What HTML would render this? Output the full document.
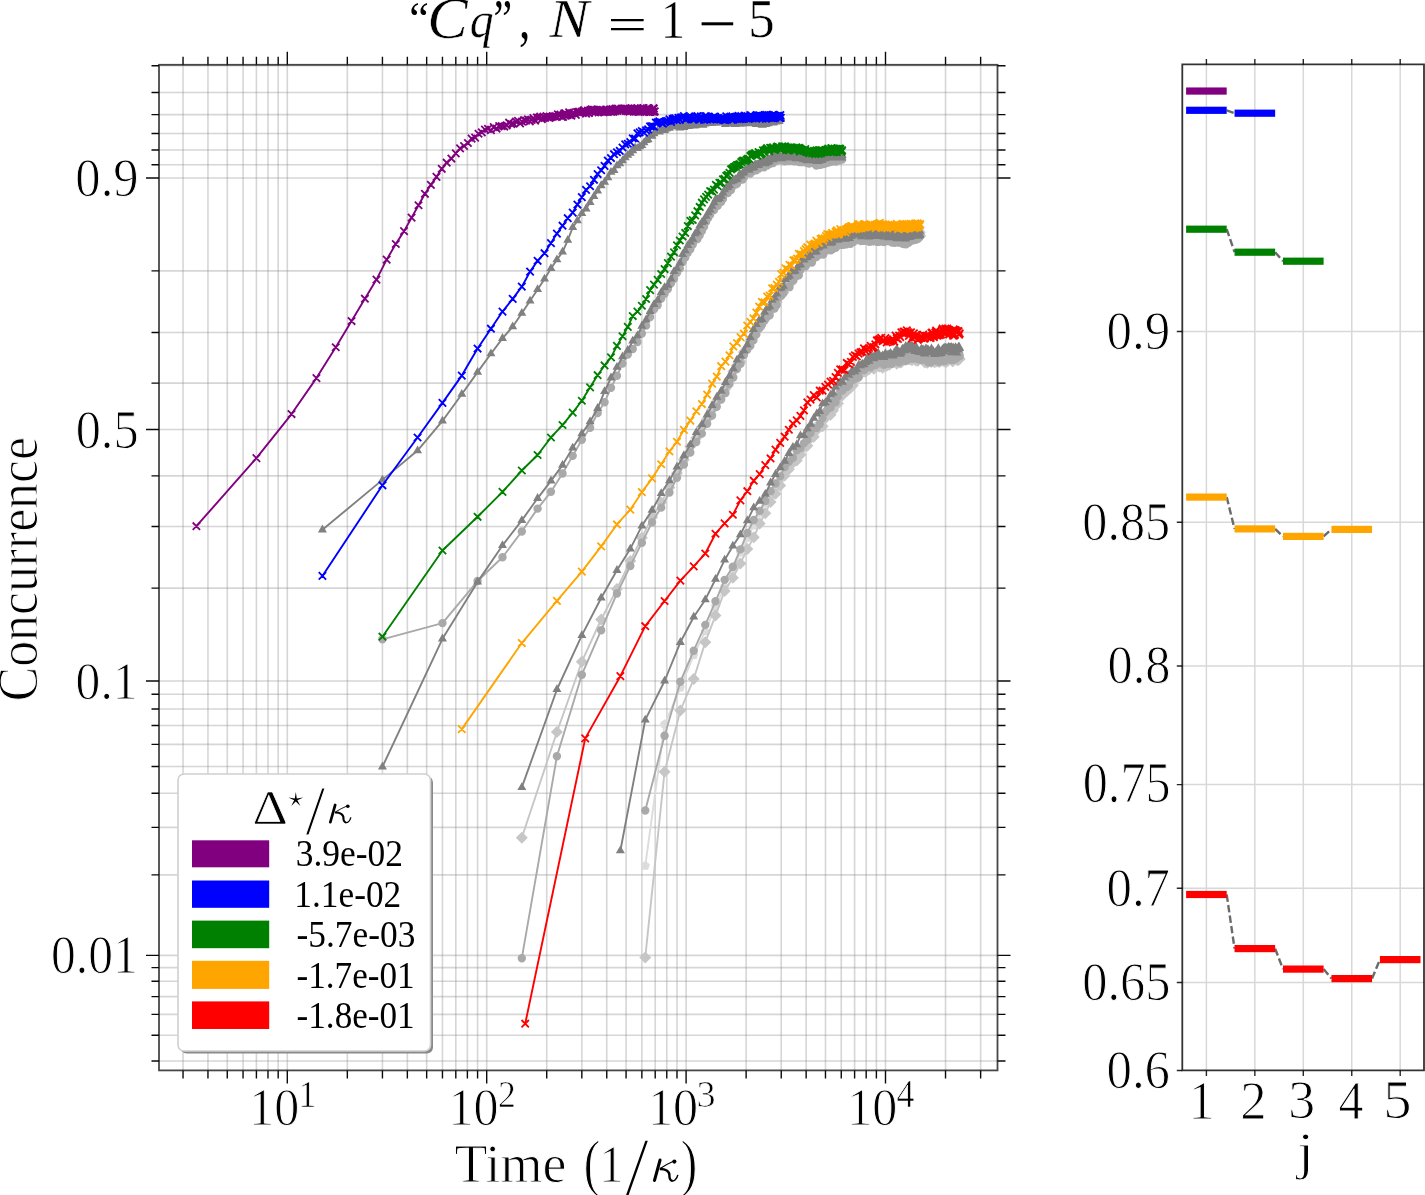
<!DOCTYPE html>
<html><head><meta charset="utf-8"><title>Concurrence plot</title>
<style>html,body{margin:0;padding:0;background:#fff;}svg{display:block;will-change:transform;filter:blur(0.45px);}text{font-family:"Liberation Serif", serif;fill:#000;}</style>
</head><body>
<svg width="1425" height="1195" viewBox="0 0 1425 1195">
<rect width="1425" height="1195" fill="#fff"/>
<path d="M287.3 64.8V1070.4M486.7 64.8V1070.4M686.1 64.8V1070.4M885.5 64.8V1070.4M183.04 64.8V1070.4M207.95 64.8V1070.4M227.27 64.8V1070.4M243.06 64.8V1070.4M256.41 64.8V1070.4M267.98 64.8V1070.4M278.18 64.8V1070.4M347.33 64.8V1070.4M382.44 64.8V1070.4M407.35 64.8V1070.4M426.67 64.8V1070.4M442.46 64.8V1070.4M455.81 64.8V1070.4M467.38 64.8V1070.4M477.58 64.8V1070.4M546.73 64.8V1070.4M581.84 64.8V1070.4M606.75 64.8V1070.4M626.07 64.8V1070.4M641.86 64.8V1070.4M655.21 64.8V1070.4M666.78 64.8V1070.4M676.98 64.8V1070.4M746.13 64.8V1070.4M781.24 64.8V1070.4M806.15 64.8V1070.4M825.47 64.8V1070.4M841.26 64.8V1070.4M854.61 64.8V1070.4M866.18 64.8V1070.4M876.38 64.8V1070.4M945.53 64.8V1070.4M980.64 64.8V1070.4" stroke="#8c8c8c" stroke-opacity="0.36" stroke-width="1.6" fill="none"/>
<path d="M159 955.41H997.5M159 680.97H997.5M159 429.5H997.5M159 178.03H997.5M159 1060.97H997.5M159 1035.32H997.5M159 1014.34H997.5M159 996.58H997.5M159 981.18H997.5M159 967.59H997.5M159 874.92H997.5M159 827.34H997.5M159 793.23H997.5M159 766.49H997.5M159 744.41H997.5M159 725.55H997.5M159 709.03H997.5M159 694.3H997.5M159 588.16H997.5M159 526.47H997.5M159 475.91H997.5M159 383.09H997.5M159 332.53H997.5M159 270.84H997.5M159 164.7H997.5M159 149.97H997.5M159 133.45H997.5M159 114.59H997.5M159 92.51H997.5M159 65.77H997.5" stroke="#8c8c8c" stroke-opacity="0.36" stroke-width="1.6" fill="none"/>
<defs><clipPath id="cl"><rect x="159.0" y="64.8" width="838.5" height="1005.6000000000001"/></clipPath><clipPath id="cr"><rect x="1182.3" y="64.4" width="241.70000000000005" height="1006.0000000000001"/></clipPath></defs>
<g clip-path="url(#cl)">
<path d="M645.26 865.8 L664.58 724.27 L680.37 687.6 L693.72 655.18 L705.29 631.43 L715.49 606.54 L724.61 586.78 L732.86 568.96 L740.4 552.51 L747.33 537.87 L753.75 525.59 L759.72 513.5 L765.31 503.61 L770.56 494.11 L775.51 485.47 L780.19 479.68 L784.63 471.38 L788.86 464.19 L792.89 459.05 L796.74 451.36 L800.42 447.12 L803.96 444.18 L807.35 440.48 L810.62 437.06 L813.77 433.3 L816.81 425.25 L819.75 424.12 L822.59 420.51 L825.34 415.71 L828 410.06 L830.59 408.13 L833.1 402.32 L835.54 403.93 L837.91 400.2 L840.22 395.02 L842.47 390.33 L844.66 391.04 L846.8 386.88 L848.88 387.03 L850.92 385.05 L852.91 381.13 L854.86 378.82 L856.76 378.34 L858.63 375.64 L860.45 372.31 L862.23 371.67 L863.98 373.39 L865.7 366.97 L867.38 365.51 L869.03 367.8 L870.65 365.18 L872.24 366.41 L873.8 365.62 L875.33 364.41 L876.84 368.22 L878.32 362.72 L879.77 363.75 L881.2 362.05 L882.61 364.45 L884 361.82 L885.36 361.99 L886.7 364.15 L888.03 361.1 L889.33 362.29 L890.61 364.18 L891.88 358.73 L893.12 358.15 L894.35 358.79 L895.56 361.79 L896.76 360.41 L897.93 357.58 L899.1 357.77 L900.24 356.38 L901.38 357.78 L902.49 354.72 L903.6 358.52 L904.69 359.41 L905.76 359.41 L906.82 357.62 L907.87 358.69 L908.91 352.3 L909.94 353.67 L910.95 358.12 L911.95 357.05 L912.94 354.87 L913.92 358.42 L914.89 356.5 L915.84 357.91 L916.79 354.7 L917.72 354.18 L918.65 355.94 L919.57 354.11 L920.47 355.81 L921.37 359.66 L922.26 355.76 L923.14 353.83 L924.01 354.19 L924.87 355.12 L925.72 359.17 L926.57 356.61 L927.41 356.27 L928.23 355.16 L929.06 360.94 L929.87 357.49 L930.67 356.05 L931.47 355 L932.26 354.87 L933.05 355.5 L933.82 358.65 L934.59 355.18 L935.36 354.39 L936.11 357.18 L936.86 355.54 L937.61 360.23 L938.34 354.54 L939.07 357.05 L939.8 358.53 L940.52 356.11 L941.23 359.72 L941.94 356.37 L942.64 354.77 L943.33 355.76 L944.02 353.28 L944.71 355.66 L945.39 354.47 L946.06 358.48 L946.73 358.03 L947.39 355.82 L948.05 352.75 L948.71 354.09 L949.35 353.93 L950 353.63 L950.64 353.7 L951.27 357.71 L951.9 352.97 L952.53 352.31 L953.15 357.85 L953.76 355.45 L954.38 358.01 L954.98 354.05 L955.59 357.03 L956.19 355.25 L956.78 355.92 L957.37 355.43 L957.96 353.63 L958.54 350.86 L959.12 351.42 L959.7 355.47" stroke="#dcdcdc" stroke-width="1.9" fill="none" stroke-linejoin="round"/>
<path d="M645.26 861L649.82 864.32L648.08 869.68L642.44 869.68L640.69 864.32ZM664.58 719.47L669.15 722.79L667.41 728.15L661.76 728.15L660.02 722.79ZM680.37 682.8L684.94 686.12L683.19 691.49L677.55 691.49L675.81 686.12ZM693.72 650.38L698.29 653.7L696.54 659.06L690.9 659.06L689.16 653.7ZM705.29 626.63L709.85 629.95L708.11 635.31L702.46 635.31L700.72 629.95ZM715.49 601.74L720.05 605.06L718.31 610.42L712.66 610.42L710.92 605.06ZM724.61 581.98L729.17 585.3L727.43 590.67L721.79 590.67L720.04 585.3ZM732.86 564.16L737.43 567.48L735.68 572.85L730.04 572.85L728.3 567.48ZM740.4 547.71L744.96 551.02L743.22 556.39L737.58 556.39L735.83 551.02ZM747.33 533.07L751.89 536.39L750.15 541.76L744.51 541.76L742.76 536.39ZM753.75 520.79L758.31 524.1L756.57 529.47L750.93 529.47L749.18 524.1ZM759.72 508.7L764.29 512.02L762.54 517.38L756.9 517.38L755.16 512.02ZM765.31 498.81L769.88 502.13L768.13 507.5L762.49 507.5L760.75 502.13ZM770.56 489.31L775.13 492.63L773.38 497.99L767.74 497.99L766 492.63ZM775.51 480.67L780.08 483.99L778.33 489.35L772.69 489.35L770.95 483.99ZM780.19 474.88L784.76 478.19L783.01 483.56L777.37 483.56L775.63 478.19ZM784.63 466.58L789.2 469.9L787.46 475.27L781.81 475.27L780.07 469.9ZM788.86 459.39L793.42 462.71L791.68 468.08L786.04 468.08L784.29 462.71ZM792.89 454.25L797.45 457.56L795.71 462.93L790.07 462.93L788.32 457.56ZM796.74 446.56L801.3 449.87L799.56 455.24L793.92 455.24L792.17 449.87ZM800.42 442.32L804.99 445.64L803.24 451.01L797.6 451.01L795.86 445.64ZM803.96 439.38L808.52 442.69L806.78 448.06L801.14 448.06L799.39 442.69ZM807.35 435.68L811.92 438.99L810.18 444.36L804.53 444.36L802.79 438.99ZM810.62 432.26L815.19 435.57L813.44 440.94L807.8 440.94L806.06 435.57ZM813.77 428.5L818.34 431.81L816.59 437.18L810.95 437.18L809.21 431.81ZM816.81 420.45L821.38 423.77L819.63 429.14L813.99 429.14L812.25 423.77ZM819.75 419.32L824.31 422.64L822.57 428.01L816.93 428.01L815.18 422.64ZM822.59 415.71L827.15 419.02L825.41 424.39L819.77 424.39L818.02 419.02ZM825.34 410.91L829.9 414.23L828.16 419.59L822.51 419.59L820.77 414.23ZM828 405.26L832.57 408.58L830.82 413.95L825.18 413.95L823.44 408.58ZM830.59 403.33L835.15 406.65L833.41 412.02L827.76 412.02L826.02 406.65ZM833.1 397.52L837.66 400.83L835.92 406.2L830.27 406.2L828.53 400.83ZM835.54 399.13L840.1 402.45L838.36 407.81L832.71 407.81L830.97 402.45ZM837.91 395.4L842.47 398.72L840.73 404.08L835.09 404.08L833.34 398.72ZM840.22 390.22L844.78 393.54L843.04 398.91L837.4 398.91L835.65 393.54ZM842.47 385.53L847.03 388.84L845.29 394.21L839.65 394.21L837.9 388.84ZM844.66 386.24L849.22 389.55L847.48 394.92L841.84 394.92L840.09 389.55ZM846.8 382.08L851.36 385.4L849.62 390.77L843.98 390.77L842.23 385.4ZM848.88 382.23L853.45 385.55L851.71 390.92L846.06 390.92L844.32 385.55ZM850.92 380.25L855.49 383.56L853.74 388.93L848.1 388.93L846.36 383.56ZM852.91 376.33L857.48 379.65L855.73 385.01L850.09 385.01L848.35 379.65ZM854.86 374.02L859.42 377.34L857.68 382.71L852.04 382.71L850.29 377.34ZM856.76 373.54L861.33 376.86L859.58 382.22L853.94 382.22L852.2 376.86ZM858.63 370.84L863.19 374.15L861.45 379.52L855.8 379.52L854.06 374.15ZM860.45 367.51L865.01 370.83L863.27 376.2L857.63 376.2L855.88 370.83ZM862.23 366.87L866.8 370.19L865.06 375.56L859.41 375.56L857.67 370.19ZM863.98 368.59L868.55 371.91L866.81 377.27L861.16 377.27L859.42 371.91ZM865.7 362.17L870.26 365.48L868.52 370.85L862.88 370.85L861.13 365.48ZM867.38 360.71L871.95 364.03L870.2 369.4L864.56 369.4L862.82 364.03ZM869.03 363L873.59 366.32L871.85 371.68L866.21 371.68L864.46 366.32ZM870.65 360.38L875.21 363.7L873.47 369.07L867.83 369.07L866.08 363.7ZM872.24 361.61L876.8 364.93L875.06 370.3L869.42 370.3L867.67 364.93ZM873.8 360.82L878.36 364.13L876.62 369.5L870.98 369.5L869.23 364.13ZM875.33 359.61L879.9 362.93L878.15 368.29L872.51 368.29L870.77 362.93ZM876.84 363.42L881.4 366.74L879.66 372.11L874.02 372.11L872.27 366.74ZM878.32 357.92L882.88 361.24L881.14 366.61L875.5 366.61L873.75 361.24ZM879.77 358.95L884.34 362.27L882.59 367.63L876.95 367.63L875.21 362.27ZM881.2 357.25L885.77 360.56L884.03 365.93L878.38 365.93L876.64 360.56ZM882.61 359.65L887.18 362.96L885.43 368.33L879.79 368.33L878.05 362.96ZM884 357.02L888.56 360.34L886.82 365.7L881.18 365.7L879.43 360.34ZM885.36 357.19L889.93 360.5L888.18 365.87L882.54 365.87L880.8 360.5ZM886.7 359.35L891.27 362.67L889.53 368.04L883.88 368.04L882.14 362.67ZM888.03 356.3L892.59 359.61L890.85 364.98L885.2 364.98L883.46 359.61ZM889.33 357.49L893.89 360.81L892.15 366.18L886.51 366.18L884.76 360.81ZM890.61 359.38L895.18 362.7L893.43 368.07L887.79 368.07L886.05 362.7ZM891.88 353.93L896.44 357.24L894.7 362.61L889.05 362.61L887.31 357.24ZM893.12 353.35L897.69 356.67L895.94 362.03L890.3 362.03L888.56 356.67ZM894.35 353.99L898.92 357.31L897.17 362.67L891.53 362.67L889.78 357.31ZM895.56 356.99L900.13 360.31L898.38 365.68L892.74 365.68L891 360.31ZM896.76 355.61L901.32 358.93L899.58 364.3L893.93 364.3L892.19 358.93ZM897.93 352.78L902.5 356.09L900.76 361.46L895.11 361.46L893.37 356.09ZM899.1 352.97L903.66 356.28L901.92 361.65L896.27 361.65L894.53 356.28ZM900.24 351.58L904.81 354.9L903.06 360.26L897.42 360.26L895.68 354.9ZM901.38 352.98L905.94 356.3L904.2 361.67L898.55 361.67L896.81 356.3ZM902.49 349.92L907.06 353.24L905.31 358.61L899.67 358.61L897.93 353.24ZM903.6 353.72L908.16 357.04L906.42 362.41L900.77 362.41L899.03 357.04ZM904.69 354.61L909.25 357.93L907.51 363.29L901.86 363.29L900.12 357.93ZM905.76 354.61L910.33 357.92L908.58 363.29L902.94 363.29L901.2 357.92ZM906.82 352.82L911.39 356.14L909.64 361.51L904 361.51L902.26 356.14ZM907.87 353.89L912.44 357.21L910.69 362.58L905.05 362.58L903.31 357.21ZM908.91 347.5L913.48 350.82L911.73 356.18L906.09 356.18L904.35 350.82ZM909.94 348.87L914.5 352.19L912.76 357.56L907.11 357.56L905.37 352.19ZM910.95 353.32L915.51 356.64L913.77 362.01L908.13 362.01L906.38 356.64ZM911.95 352.25L916.51 355.57L914.77 360.94L909.13 360.94L907.38 355.57ZM912.94 350.07L917.5 353.38L915.76 358.75L910.12 358.75L908.37 353.38ZM913.92 353.62L918.48 356.94L916.74 362.31L911.1 362.31L909.35 356.94ZM914.89 351.7L919.45 355.02L917.71 360.39L912.06 360.39L910.32 355.02ZM915.84 353.11L920.41 356.43L918.66 361.79L913.02 361.79L911.28 356.43ZM916.79 349.9L921.35 353.21L919.61 358.58L913.97 358.58L912.22 353.21ZM917.72 349.38L922.29 352.7L920.55 358.07L914.9 358.07L913.16 352.7ZM918.65 351.14L923.22 354.46L921.47 359.82L915.83 359.82L914.09 354.46ZM919.57 349.31L924.13 352.62L922.39 357.99L916.75 357.99L915 352.62ZM920.47 351.01L925.04 354.33L923.3 359.7L917.65 359.7L915.91 354.33ZM921.37 354.86L925.94 358.18L924.19 363.54L918.55 363.54L916.81 358.18ZM922.26 350.96L926.82 354.28L925.08 359.64L919.44 359.64L917.69 354.28ZM923.14 349.03L927.7 352.35L925.96 357.71L920.32 357.71L918.57 352.35ZM924.01 349.39L928.57 352.7L926.83 358.07L921.19 358.07L919.44 352.7ZM924.87 350.32L929.44 353.63L927.69 359L922.05 359L920.31 353.63ZM925.72 354.37L930.29 357.69L928.55 363.06L922.9 363.06L921.16 357.69ZM926.57 351.81L931.13 355.12L929.39 360.49L923.75 360.49L922 355.12ZM927.41 351.47L931.97 354.79L930.23 360.15L924.58 360.15L922.84 354.79ZM928.23 350.36L932.8 353.67L931.06 359.04L925.41 359.04L923.67 353.67ZM929.06 356.14L933.62 359.46L931.88 364.82L926.23 364.82L924.49 359.46ZM929.87 352.69L934.43 356.01L932.69 361.38L927.05 361.38L925.3 356.01ZM930.67 351.25L935.24 354.56L933.5 359.93L927.85 359.93L926.11 354.56ZM931.47 350.2L936.04 353.51L934.29 358.88L928.65 358.88L926.91 353.51ZM932.26 350.07L936.83 353.39L935.08 358.75L929.44 358.75L927.7 353.39ZM933.05 350.7L937.61 354.02L935.87 359.38L930.23 359.38L928.48 354.02ZM933.82 353.85L938.39 357.17L936.64 362.54L931 362.54L929.26 357.17ZM934.59 350.38L939.16 353.7L937.41 359.07L931.77 359.07L930.03 353.7ZM935.36 349.59L939.92 352.91L938.18 358.28L932.53 358.28L930.79 352.91ZM936.11 352.38L940.68 355.69L938.93 361.06L933.29 361.06L931.55 355.69ZM936.86 350.74L941.43 354.05L939.68 359.42L934.04 359.42L932.3 354.05ZM937.61 355.43L942.17 358.75L940.43 364.12L934.78 364.12L933.04 358.75ZM938.34 349.74L942.91 353.06L941.16 358.42L935.52 358.42L933.78 353.06ZM939.07 352.25L943.64 355.57L941.89 360.94L936.25 360.94L934.51 355.57ZM939.8 353.73L944.36 357.04L942.62 362.41L936.98 362.41L935.23 357.04ZM940.52 351.31L945.08 354.62L943.34 359.99L937.7 359.99L935.95 354.62ZM941.23 354.92L945.79 358.23L944.05 363.6L938.41 363.6L936.66 358.23ZM941.94 351.57L946.5 354.88L944.76 360.25L939.11 360.25L937.37 354.88ZM942.64 349.97L947.2 353.28L945.46 358.65L939.82 358.65L938.07 353.28ZM943.33 350.96L947.9 354.28L946.15 359.64L940.51 359.64L938.77 354.28ZM944.02 348.48L948.59 351.8L946.84 357.17L941.2 357.17L939.46 351.8ZM944.71 350.86L949.27 354.17L947.53 359.54L941.89 359.54L940.14 354.17ZM945.39 349.67L949.95 352.98L948.21 358.35L942.57 358.35L940.82 352.98ZM946.06 353.68L950.63 357L948.88 362.37L943.24 362.37L941.5 357ZM946.73 353.23L951.29 356.54L949.55 361.91L943.91 361.91L942.16 356.54ZM947.39 351.02L951.96 354.33L950.21 359.7L944.57 359.7L942.83 354.33ZM948.05 347.95L952.62 351.26L950.87 356.63L945.23 356.63L943.49 351.26ZM948.71 349.29L953.27 352.61L951.53 357.97L945.88 357.97L944.14 352.61ZM949.35 349.13L953.92 352.45L952.18 357.82L946.53 357.82L944.79 352.45ZM950 348.83L954.56 352.15L952.82 357.52L947.18 357.52L945.43 352.15ZM950.64 348.9L955.2 352.22L953.46 357.59L947.82 357.59L946.07 352.22ZM951.27 352.91L955.84 356.22L954.09 361.59L948.45 361.59L946.71 356.22ZM951.9 348.17L956.47 351.49L954.72 356.85L949.08 356.85L947.34 351.49ZM952.53 347.51L957.09 350.83L955.35 356.2L949.7 356.2L947.96 350.83ZM953.15 353.05L957.71 356.36L955.97 361.73L950.33 361.73L948.58 356.36ZM953.76 350.65L958.33 353.96L956.58 359.33L950.94 359.33L949.2 353.96ZM954.38 353.21L958.94 356.53L957.2 361.9L951.55 361.9L949.81 356.53ZM954.98 349.25L959.55 352.56L957.8 357.93L952.16 357.93L950.42 352.56ZM955.59 352.23L960.15 355.55L958.41 360.91L952.77 360.91L951.02 355.55ZM956.19 350.45L960.75 353.76L959.01 359.13L953.36 359.13L951.62 353.76ZM956.78 351.12L961.35 354.44L959.6 359.81L953.96 359.81L952.22 354.44ZM957.37 350.63L961.94 353.94L960.19 359.31L954.55 359.31L952.81 353.94ZM957.96 348.83L962.52 352.14L960.78 357.51L955.14 357.51L953.39 352.14ZM958.54 346.06L963.11 349.38L961.36 354.74L955.72 354.74L953.98 349.38ZM959.12 346.62L963.69 349.94L961.94 355.3L956.3 355.3L954.56 349.94ZM959.7 350.67L964.26 353.99L962.52 359.35L956.88 359.35L955.13 353.99Z" fill="#dcdcdc"/>
<path d="M645.26 957.4 L664.58 771.72 L680.37 710.47 L693.72 679.05 L705.29 642.13 L715.49 615.6 L724.61 590.99 L732.86 577.76 L740.4 563.45 L747.33 549.1 L753.75 537.37 L759.72 523.56 L765.31 513.29 L770.56 502.05 L775.51 493.84 L780.19 485.53 L784.63 475.56 L788.86 469.14 L792.89 462.82 L796.74 460.49 L800.42 454.83 L803.96 447.1 L807.35 445.76 L810.62 438.19 L813.77 436.63 L816.81 430.08 L819.75 425.58 L822.59 426.15 L825.34 418.24 L828 414.2 L830.59 414.73 L833.1 410.3 L835.54 403.12 L837.91 403.58 L840.22 397.51 L842.47 394.95 L844.66 388.67 L846.8 391.13 L848.88 387.65 L850.92 387.56 L852.91 385.27 L854.86 379.67 L856.76 378.33 L858.63 375.37 L860.45 373.57 L862.23 371.42 L863.98 371.33 L865.7 371.69 L867.38 366.31 L869.03 369.13 L870.65 366.55 L872.24 365.97 L873.8 368.84 L875.33 366.29 L876.84 364.86 L878.32 365.55 L879.77 366.62 L881.2 362.11 L882.61 367.64 L884 361.2 L885.36 365.51 L886.7 365.78 L888.03 360.16 L889.33 364.76 L890.61 361.74 L891.88 362.78 L893.12 358.82 L894.35 358.7 L895.56 359.2 L896.76 363.81 L897.93 358.61 L899.1 361.84 L900.24 362.62 L901.38 362.37 L902.49 358.21 L903.6 357.95 L904.69 358.72 L905.76 360.01 L906.82 355.43 L907.87 359.22 L908.91 359.22 L909.94 359.32 L910.95 354.18 L911.95 360.15 L912.94 354.82 L913.92 356.57 L914.89 358.44 L915.84 360.55 L916.79 356.99 L917.72 360.87 L918.65 358.59 L919.57 357.23 L920.47 357.4 L921.37 356.64 L922.26 356.14 L923.14 356.72 L924.01 360.31 L924.87 362.41 L925.72 357.19 L926.57 356.6 L927.41 362.73 L928.23 359.95 L929.06 359.26 L929.87 358.3 L930.67 360.55 L931.47 361.97 L932.26 359.53 L933.05 359.25 L933.82 356.84 L934.59 362.28 L935.36 356.56 L936.11 359.45 L936.86 361.59 L937.61 357 L938.34 360.79 L939.07 362.12 L939.8 360.02 L940.52 360.97 L941.23 356.55 L941.94 358.59 L942.64 356.7 L943.33 361.1 L944.02 357.52 L944.71 358.47 L945.39 361.91 L946.06 360.92 L946.73 361.65 L947.39 358.25 L948.05 358.42 L948.71 359.91 L949.35 358.25 L950 357 L950.64 357.66 L951.27 355.97 L951.9 357.39 L952.53 361.25 L953.15 361.01 L953.76 358.83 L954.38 357.98 L954.98 356.92 L955.59 355.29 L956.19 356.43 L956.78 359.67 L957.37 360.18 L957.96 356.91 L958.54 359.6 L959.12 359.5 L959.7 358.96" stroke="#c6c6c6" stroke-width="1.9" fill="none" stroke-linejoin="round"/>
<path d="M645.26 951.4L651.26 957.4L645.26 963.4L639.26 957.4ZM664.58 765.72L670.58 771.72L664.58 777.72L658.58 771.72ZM680.37 704.47L686.37 710.47L680.37 716.47L674.37 710.47ZM693.72 673.05L699.72 679.05L693.72 685.05L687.72 679.05ZM705.29 636.13L711.29 642.13L705.29 648.13L699.29 642.13ZM715.49 609.6L721.49 615.6L715.49 621.6L709.49 615.6ZM724.61 584.99L730.61 590.99L724.61 596.99L718.61 590.99ZM732.86 571.76L738.86 577.76L732.86 583.76L726.86 577.76ZM740.4 557.45L746.4 563.45L740.4 569.45L734.4 563.45ZM747.33 543.1L753.33 549.1L747.33 555.1L741.33 549.1ZM753.75 531.37L759.75 537.37L753.75 543.37L747.75 537.37ZM759.72 517.56L765.72 523.56L759.72 529.56L753.72 523.56ZM765.31 507.29L771.31 513.29L765.31 519.29L759.31 513.29ZM770.56 496.05L776.56 502.05L770.56 508.05L764.56 502.05ZM775.51 487.84L781.51 493.84L775.51 499.84L769.51 493.84ZM780.19 479.53L786.19 485.53L780.19 491.53L774.19 485.53ZM784.63 469.56L790.63 475.56L784.63 481.56L778.63 475.56ZM788.86 463.14L794.86 469.14L788.86 475.14L782.86 469.14ZM792.89 456.82L798.89 462.82L792.89 468.82L786.89 462.82ZM796.74 454.49L802.74 460.49L796.74 466.49L790.74 460.49ZM800.42 448.83L806.42 454.83L800.42 460.83L794.42 454.83ZM803.96 441.1L809.96 447.1L803.96 453.1L797.96 447.1ZM807.35 439.76L813.35 445.76L807.35 451.76L801.35 445.76ZM810.62 432.19L816.62 438.19L810.62 444.19L804.62 438.19ZM813.77 430.63L819.77 436.63L813.77 442.63L807.77 436.63ZM816.81 424.08L822.81 430.08L816.81 436.08L810.81 430.08ZM819.75 419.58L825.75 425.58L819.75 431.58L813.75 425.58ZM822.59 420.15L828.59 426.15L822.59 432.15L816.59 426.15ZM825.34 412.24L831.34 418.24L825.34 424.24L819.34 418.24ZM828 408.2L834 414.2L828 420.2L822 414.2ZM830.59 408.73L836.59 414.73L830.59 420.73L824.59 414.73ZM833.1 404.3L839.1 410.3L833.1 416.3L827.1 410.3ZM835.54 397.12L841.54 403.12L835.54 409.12L829.54 403.12ZM837.91 397.58L843.91 403.58L837.91 409.58L831.91 403.58ZM840.22 391.51L846.22 397.51L840.22 403.51L834.22 397.51ZM842.47 388.95L848.47 394.95L842.47 400.95L836.47 394.95ZM844.66 382.67L850.66 388.67L844.66 394.67L838.66 388.67ZM846.8 385.13L852.8 391.13L846.8 397.13L840.8 391.13ZM848.88 381.65L854.88 387.65L848.88 393.65L842.88 387.65ZM850.92 381.56L856.92 387.56L850.92 393.56L844.92 387.56ZM852.91 379.27L858.91 385.27L852.91 391.27L846.91 385.27ZM854.86 373.67L860.86 379.67L854.86 385.67L848.86 379.67ZM856.76 372.33L862.76 378.33L856.76 384.33L850.76 378.33ZM858.63 369.37L864.63 375.37L858.63 381.37L852.63 375.37ZM860.45 367.57L866.45 373.57L860.45 379.57L854.45 373.57ZM862.23 365.42L868.23 371.42L862.23 377.42L856.23 371.42ZM863.98 365.33L869.98 371.33L863.98 377.33L857.98 371.33ZM865.7 365.69L871.7 371.69L865.7 377.69L859.7 371.69ZM867.38 360.31L873.38 366.31L867.38 372.31L861.38 366.31ZM869.03 363.13L875.03 369.13L869.03 375.13L863.03 369.13ZM870.65 360.55L876.65 366.55L870.65 372.55L864.65 366.55ZM872.24 359.97L878.24 365.97L872.24 371.97L866.24 365.97ZM873.8 362.84L879.8 368.84L873.8 374.84L867.8 368.84ZM875.33 360.29L881.33 366.29L875.33 372.29L869.33 366.29ZM876.84 358.86L882.84 364.86L876.84 370.86L870.84 364.86ZM878.32 359.55L884.32 365.55L878.32 371.55L872.32 365.55ZM879.77 360.62L885.77 366.62L879.77 372.62L873.77 366.62ZM881.2 356.11L887.2 362.11L881.2 368.11L875.2 362.11ZM882.61 361.64L888.61 367.64L882.61 373.64L876.61 367.64ZM884 355.2L890 361.2L884 367.2L878 361.2ZM885.36 359.51L891.36 365.51L885.36 371.51L879.36 365.51ZM886.7 359.78L892.7 365.78L886.7 371.78L880.7 365.78ZM888.03 354.16L894.03 360.16L888.03 366.16L882.03 360.16ZM889.33 358.76L895.33 364.76L889.33 370.76L883.33 364.76ZM890.61 355.74L896.61 361.74L890.61 367.74L884.61 361.74ZM891.88 356.78L897.88 362.78L891.88 368.78L885.88 362.78ZM893.12 352.82L899.12 358.82L893.12 364.82L887.12 358.82ZM894.35 352.7L900.35 358.7L894.35 364.7L888.35 358.7ZM895.56 353.2L901.56 359.2L895.56 365.2L889.56 359.2ZM896.76 357.81L902.76 363.81L896.76 369.81L890.76 363.81ZM897.93 352.61L903.93 358.61L897.93 364.61L891.93 358.61ZM899.1 355.84L905.1 361.84L899.1 367.84L893.1 361.84ZM900.24 356.62L906.24 362.62L900.24 368.62L894.24 362.62ZM901.38 356.37L907.38 362.37L901.38 368.37L895.38 362.37ZM902.49 352.21L908.49 358.21L902.49 364.21L896.49 358.21ZM903.6 351.95L909.6 357.95L903.6 363.95L897.6 357.95ZM904.69 352.72L910.69 358.72L904.69 364.72L898.69 358.72ZM905.76 354.01L911.76 360.01L905.76 366.01L899.76 360.01ZM906.82 349.43L912.82 355.43L906.82 361.43L900.82 355.43ZM907.87 353.22L913.87 359.22L907.87 365.22L901.87 359.22ZM908.91 353.22L914.91 359.22L908.91 365.22L902.91 359.22ZM909.94 353.32L915.94 359.32L909.94 365.32L903.94 359.32ZM910.95 348.18L916.95 354.18L910.95 360.18L904.95 354.18ZM911.95 354.15L917.95 360.15L911.95 366.15L905.95 360.15ZM912.94 348.82L918.94 354.82L912.94 360.82L906.94 354.82ZM913.92 350.57L919.92 356.57L913.92 362.57L907.92 356.57ZM914.89 352.44L920.89 358.44L914.89 364.44L908.89 358.44ZM915.84 354.55L921.84 360.55L915.84 366.55L909.84 360.55ZM916.79 350.99L922.79 356.99L916.79 362.99L910.79 356.99ZM917.72 354.87L923.72 360.87L917.72 366.87L911.72 360.87ZM918.65 352.59L924.65 358.59L918.65 364.59L912.65 358.59ZM919.57 351.23L925.57 357.23L919.57 363.23L913.57 357.23ZM920.47 351.4L926.47 357.4L920.47 363.4L914.47 357.4ZM921.37 350.64L927.37 356.64L921.37 362.64L915.37 356.64ZM922.26 350.14L928.26 356.14L922.26 362.14L916.26 356.14ZM923.14 350.72L929.14 356.72L923.14 362.72L917.14 356.72ZM924.01 354.31L930.01 360.31L924.01 366.31L918.01 360.31ZM924.87 356.41L930.87 362.41L924.87 368.41L918.87 362.41ZM925.72 351.19L931.72 357.19L925.72 363.19L919.72 357.19ZM926.57 350.6L932.57 356.6L926.57 362.6L920.57 356.6ZM927.41 356.73L933.41 362.73L927.41 368.73L921.41 362.73ZM928.23 353.95L934.23 359.95L928.23 365.95L922.23 359.95ZM929.06 353.26L935.06 359.26L929.06 365.26L923.06 359.26ZM929.87 352.3L935.87 358.3L929.87 364.3L923.87 358.3ZM930.67 354.55L936.67 360.55L930.67 366.55L924.67 360.55ZM931.47 355.97L937.47 361.97L931.47 367.97L925.47 361.97ZM932.26 353.53L938.26 359.53L932.26 365.53L926.26 359.53ZM933.05 353.25L939.05 359.25L933.05 365.25L927.05 359.25ZM933.82 350.84L939.82 356.84L933.82 362.84L927.82 356.84ZM934.59 356.28L940.59 362.28L934.59 368.28L928.59 362.28ZM935.36 350.56L941.36 356.56L935.36 362.56L929.36 356.56ZM936.11 353.45L942.11 359.45L936.11 365.45L930.11 359.45ZM936.86 355.59L942.86 361.59L936.86 367.59L930.86 361.59ZM937.61 351L943.61 357L937.61 363L931.61 357ZM938.34 354.79L944.34 360.79L938.34 366.79L932.34 360.79ZM939.07 356.12L945.07 362.12L939.07 368.12L933.07 362.12ZM939.8 354.02L945.8 360.02L939.8 366.02L933.8 360.02ZM940.52 354.97L946.52 360.97L940.52 366.97L934.52 360.97ZM941.23 350.55L947.23 356.55L941.23 362.55L935.23 356.55ZM941.94 352.59L947.94 358.59L941.94 364.59L935.94 358.59ZM942.64 350.7L948.64 356.7L942.64 362.7L936.64 356.7ZM943.33 355.1L949.33 361.1L943.33 367.1L937.33 361.1ZM944.02 351.52L950.02 357.52L944.02 363.52L938.02 357.52ZM944.71 352.47L950.71 358.47L944.71 364.47L938.71 358.47ZM945.39 355.91L951.39 361.91L945.39 367.91L939.39 361.91ZM946.06 354.92L952.06 360.92L946.06 366.92L940.06 360.92ZM946.73 355.65L952.73 361.65L946.73 367.65L940.73 361.65ZM947.39 352.25L953.39 358.25L947.39 364.25L941.39 358.25ZM948.05 352.42L954.05 358.42L948.05 364.42L942.05 358.42ZM948.71 353.91L954.71 359.91L948.71 365.91L942.71 359.91ZM949.35 352.25L955.35 358.25L949.35 364.25L943.35 358.25ZM950 351L956 357L950 363L944 357ZM950.64 351.66L956.64 357.66L950.64 363.66L944.64 357.66ZM951.27 349.97L957.27 355.97L951.27 361.97L945.27 355.97ZM951.9 351.39L957.9 357.39L951.9 363.39L945.9 357.39ZM952.53 355.25L958.53 361.25L952.53 367.25L946.53 361.25ZM953.15 355.01L959.15 361.01L953.15 367.01L947.15 361.01ZM953.76 352.83L959.76 358.83L953.76 364.83L947.76 358.83ZM954.38 351.98L960.38 357.98L954.38 363.98L948.38 357.98ZM954.98 350.92L960.98 356.92L954.98 362.92L948.98 356.92ZM955.59 349.29L961.59 355.29L955.59 361.29L949.59 355.29ZM956.19 350.43L962.19 356.43L956.19 362.43L950.19 356.43ZM956.78 353.67L962.78 359.67L956.78 365.67L950.78 359.67ZM957.37 354.18L963.37 360.18L957.37 366.18L951.37 360.18ZM957.96 350.91L963.96 356.91L957.96 362.91L951.96 356.91ZM958.54 353.6L964.54 359.6L958.54 365.6L952.54 359.6ZM959.12 353.5L965.12 359.5L959.12 365.5L953.12 359.5ZM959.7 352.96L965.7 358.96L959.7 364.96L953.7 358.96Z" fill="#c6c6c6"/>
<path d="M645.26 810.5 L664.58 735.82 L680.37 681.75 L693.72 650.7 L705.29 624.89 L715.49 601.32 L724.61 579.88 L732.86 566.8 L740.4 549.38 L747.33 532.85 L753.75 520.02 L759.72 510.89 L765.31 501.05 L770.56 491.17 L775.51 483.46 L780.19 476.33 L784.63 467.11 L788.86 461.76 L792.89 457.71 L796.74 450.33 L800.42 448.12 L803.96 443.1 L807.35 439.71 L810.62 433.06 L813.77 427.84 L816.81 427.84 L819.75 424.02 L822.59 417.93 L825.34 411.96 L828 408.67 L830.59 407.47 L833.1 401.82 L835.54 402.24 L837.91 396.64 L840.22 390.93 L842.47 390.48 L844.66 385.47 L846.8 387.09 L848.88 385.16 L850.92 380.89 L852.91 380 L854.86 378.66 L856.76 377.7 L858.63 377.19 L860.45 369.54 L862.23 370.13 L863.98 370.16 L865.7 366.77 L867.38 367.14 L869.03 362.52 L870.65 367.19 L872.24 364.66 L873.8 361.79 L875.33 365.03 L876.84 362.54 L878.32 361.55 L879.77 363.15 L881.2 360.7 L882.61 360.93 L884 364.89 L885.36 363.6 L886.7 358.99 L888.03 363.67 L889.33 358.58 L890.61 360.39 L891.88 363.84 L893.12 361.82 L894.35 359.47 L895.56 359.56 L896.76 359.28 L897.93 357.25 L899.1 362.48 L900.24 356.08 L901.38 358.1 L902.49 359.84 L903.6 357.27 L904.69 360.68 L905.76 355.65 L906.82 360.02 L907.87 359.15 L908.91 357.42 L909.94 358.51 L910.95 355.85 L911.95 358.51 L912.94 358.48 L913.92 356.89 L914.89 356.79 L915.84 358.48 L916.79 356.78 L917.72 354.89 L918.65 359.31 L919.57 356.41 L920.47 358.02 L921.37 360.09 L922.26 356.35 L923.14 355.57 L924.01 356.39 L924.87 359.55 L925.72 358.26 L926.57 357.75 L927.41 359.17 L928.23 362.38 L929.06 358.24 L929.87 359.4 L930.67 362.34 L931.47 360.53 L932.26 358.23 L933.05 359.46 L933.82 359.38 L934.59 357.14 L935.36 358.55 L936.11 357.99 L936.86 361.09 L937.61 357.92 L938.34 359.98 L939.07 361.88 L939.8 361.48 L940.52 357.89 L941.23 359.26 L941.94 357.36 L942.64 357.77 L943.33 358.26 L944.02 360.13 L944.71 360.96 L945.39 356.74 L946.06 354.83 L946.73 357.58 L947.39 354.99 L948.05 354.74 L948.71 359.41 L949.35 355.1 L950 358.9 L950.64 356.54 L951.27 360.15 L951.9 359.52 L952.53 354.38 L953.15 355.14 L953.76 359.89 L954.38 357.63 L954.98 356.26 L955.59 358.41 L956.19 358.46 L956.78 356.25 L957.37 355.96 L957.96 353.45 L958.54 354.98 L959.12 353.45 L959.7 356.38" stroke="#a9a9a9" stroke-width="1.9" fill="none" stroke-linejoin="round"/>
<path d="M641.06 810.5a4.2 4.2 0 1 0 8.4 0a4.2 4.2 0 1 0 -8.4 0ZM660.38 735.82a4.2 4.2 0 1 0 8.4 0a4.2 4.2 0 1 0 -8.4 0ZM676.17 681.75a4.2 4.2 0 1 0 8.4 0a4.2 4.2 0 1 0 -8.4 0ZM689.52 650.7a4.2 4.2 0 1 0 8.4 0a4.2 4.2 0 1 0 -8.4 0ZM701.09 624.89a4.2 4.2 0 1 0 8.4 0a4.2 4.2 0 1 0 -8.4 0ZM711.29 601.32a4.2 4.2 0 1 0 8.4 0a4.2 4.2 0 1 0 -8.4 0ZM720.41 579.88a4.2 4.2 0 1 0 8.4 0a4.2 4.2 0 1 0 -8.4 0ZM728.66 566.8a4.2 4.2 0 1 0 8.4 0a4.2 4.2 0 1 0 -8.4 0ZM736.2 549.38a4.2 4.2 0 1 0 8.4 0a4.2 4.2 0 1 0 -8.4 0ZM743.13 532.85a4.2 4.2 0 1 0 8.4 0a4.2 4.2 0 1 0 -8.4 0ZM749.55 520.02a4.2 4.2 0 1 0 8.4 0a4.2 4.2 0 1 0 -8.4 0ZM755.52 510.89a4.2 4.2 0 1 0 8.4 0a4.2 4.2 0 1 0 -8.4 0ZM761.11 501.05a4.2 4.2 0 1 0 8.4 0a4.2 4.2 0 1 0 -8.4 0ZM766.36 491.17a4.2 4.2 0 1 0 8.4 0a4.2 4.2 0 1 0 -8.4 0ZM771.31 483.46a4.2 4.2 0 1 0 8.4 0a4.2 4.2 0 1 0 -8.4 0ZM775.99 476.33a4.2 4.2 0 1 0 8.4 0a4.2 4.2 0 1 0 -8.4 0ZM780.43 467.11a4.2 4.2 0 1 0 8.4 0a4.2 4.2 0 1 0 -8.4 0ZM784.66 461.76a4.2 4.2 0 1 0 8.4 0a4.2 4.2 0 1 0 -8.4 0ZM788.69 457.71a4.2 4.2 0 1 0 8.4 0a4.2 4.2 0 1 0 -8.4 0ZM792.54 450.33a4.2 4.2 0 1 0 8.4 0a4.2 4.2 0 1 0 -8.4 0ZM796.22 448.12a4.2 4.2 0 1 0 8.4 0a4.2 4.2 0 1 0 -8.4 0ZM799.76 443.1a4.2 4.2 0 1 0 8.4 0a4.2 4.2 0 1 0 -8.4 0ZM803.15 439.71a4.2 4.2 0 1 0 8.4 0a4.2 4.2 0 1 0 -8.4 0ZM806.42 433.06a4.2 4.2 0 1 0 8.4 0a4.2 4.2 0 1 0 -8.4 0ZM809.57 427.84a4.2 4.2 0 1 0 8.4 0a4.2 4.2 0 1 0 -8.4 0ZM812.61 427.84a4.2 4.2 0 1 0 8.4 0a4.2 4.2 0 1 0 -8.4 0ZM815.55 424.02a4.2 4.2 0 1 0 8.4 0a4.2 4.2 0 1 0 -8.4 0ZM818.39 417.93a4.2 4.2 0 1 0 8.4 0a4.2 4.2 0 1 0 -8.4 0ZM821.14 411.96a4.2 4.2 0 1 0 8.4 0a4.2 4.2 0 1 0 -8.4 0ZM823.8 408.67a4.2 4.2 0 1 0 8.4 0a4.2 4.2 0 1 0 -8.4 0ZM826.39 407.47a4.2 4.2 0 1 0 8.4 0a4.2 4.2 0 1 0 -8.4 0ZM828.9 401.82a4.2 4.2 0 1 0 8.4 0a4.2 4.2 0 1 0 -8.4 0ZM831.34 402.24a4.2 4.2 0 1 0 8.4 0a4.2 4.2 0 1 0 -8.4 0ZM833.71 396.64a4.2 4.2 0 1 0 8.4 0a4.2 4.2 0 1 0 -8.4 0ZM836.02 390.93a4.2 4.2 0 1 0 8.4 0a4.2 4.2 0 1 0 -8.4 0ZM838.27 390.48a4.2 4.2 0 1 0 8.4 0a4.2 4.2 0 1 0 -8.4 0ZM840.46 385.47a4.2 4.2 0 1 0 8.4 0a4.2 4.2 0 1 0 -8.4 0ZM842.6 387.09a4.2 4.2 0 1 0 8.4 0a4.2 4.2 0 1 0 -8.4 0ZM844.68 385.16a4.2 4.2 0 1 0 8.4 0a4.2 4.2 0 1 0 -8.4 0ZM846.72 380.89a4.2 4.2 0 1 0 8.4 0a4.2 4.2 0 1 0 -8.4 0ZM848.71 380a4.2 4.2 0 1 0 8.4 0a4.2 4.2 0 1 0 -8.4 0ZM850.66 378.66a4.2 4.2 0 1 0 8.4 0a4.2 4.2 0 1 0 -8.4 0ZM852.56 377.7a4.2 4.2 0 1 0 8.4 0a4.2 4.2 0 1 0 -8.4 0ZM854.43 377.19a4.2 4.2 0 1 0 8.4 0a4.2 4.2 0 1 0 -8.4 0ZM856.25 369.54a4.2 4.2 0 1 0 8.4 0a4.2 4.2 0 1 0 -8.4 0ZM858.03 370.13a4.2 4.2 0 1 0 8.4 0a4.2 4.2 0 1 0 -8.4 0ZM859.78 370.16a4.2 4.2 0 1 0 8.4 0a4.2 4.2 0 1 0 -8.4 0ZM861.5 366.77a4.2 4.2 0 1 0 8.4 0a4.2 4.2 0 1 0 -8.4 0ZM863.18 367.14a4.2 4.2 0 1 0 8.4 0a4.2 4.2 0 1 0 -8.4 0ZM864.83 362.52a4.2 4.2 0 1 0 8.4 0a4.2 4.2 0 1 0 -8.4 0ZM866.45 367.19a4.2 4.2 0 1 0 8.4 0a4.2 4.2 0 1 0 -8.4 0ZM868.04 364.66a4.2 4.2 0 1 0 8.4 0a4.2 4.2 0 1 0 -8.4 0ZM869.6 361.79a4.2 4.2 0 1 0 8.4 0a4.2 4.2 0 1 0 -8.4 0ZM871.13 365.03a4.2 4.2 0 1 0 8.4 0a4.2 4.2 0 1 0 -8.4 0ZM872.64 362.54a4.2 4.2 0 1 0 8.4 0a4.2 4.2 0 1 0 -8.4 0ZM874.12 361.55a4.2 4.2 0 1 0 8.4 0a4.2 4.2 0 1 0 -8.4 0ZM875.57 363.15a4.2 4.2 0 1 0 8.4 0a4.2 4.2 0 1 0 -8.4 0ZM877 360.7a4.2 4.2 0 1 0 8.4 0a4.2 4.2 0 1 0 -8.4 0ZM878.41 360.93a4.2 4.2 0 1 0 8.4 0a4.2 4.2 0 1 0 -8.4 0ZM879.8 364.89a4.2 4.2 0 1 0 8.4 0a4.2 4.2 0 1 0 -8.4 0ZM881.16 363.6a4.2 4.2 0 1 0 8.4 0a4.2 4.2 0 1 0 -8.4 0ZM882.5 358.99a4.2 4.2 0 1 0 8.4 0a4.2 4.2 0 1 0 -8.4 0ZM883.83 363.67a4.2 4.2 0 1 0 8.4 0a4.2 4.2 0 1 0 -8.4 0ZM885.13 358.58a4.2 4.2 0 1 0 8.4 0a4.2 4.2 0 1 0 -8.4 0ZM886.41 360.39a4.2 4.2 0 1 0 8.4 0a4.2 4.2 0 1 0 -8.4 0ZM887.68 363.84a4.2 4.2 0 1 0 8.4 0a4.2 4.2 0 1 0 -8.4 0ZM888.92 361.82a4.2 4.2 0 1 0 8.4 0a4.2 4.2 0 1 0 -8.4 0ZM890.15 359.47a4.2 4.2 0 1 0 8.4 0a4.2 4.2 0 1 0 -8.4 0ZM891.36 359.56a4.2 4.2 0 1 0 8.4 0a4.2 4.2 0 1 0 -8.4 0ZM892.56 359.28a4.2 4.2 0 1 0 8.4 0a4.2 4.2 0 1 0 -8.4 0ZM893.73 357.25a4.2 4.2 0 1 0 8.4 0a4.2 4.2 0 1 0 -8.4 0ZM894.9 362.48a4.2 4.2 0 1 0 8.4 0a4.2 4.2 0 1 0 -8.4 0ZM896.04 356.08a4.2 4.2 0 1 0 8.4 0a4.2 4.2 0 1 0 -8.4 0ZM897.18 358.1a4.2 4.2 0 1 0 8.4 0a4.2 4.2 0 1 0 -8.4 0ZM898.29 359.84a4.2 4.2 0 1 0 8.4 0a4.2 4.2 0 1 0 -8.4 0ZM899.4 357.27a4.2 4.2 0 1 0 8.4 0a4.2 4.2 0 1 0 -8.4 0ZM900.49 360.68a4.2 4.2 0 1 0 8.4 0a4.2 4.2 0 1 0 -8.4 0ZM901.56 355.65a4.2 4.2 0 1 0 8.4 0a4.2 4.2 0 1 0 -8.4 0ZM902.62 360.02a4.2 4.2 0 1 0 8.4 0a4.2 4.2 0 1 0 -8.4 0ZM903.67 359.15a4.2 4.2 0 1 0 8.4 0a4.2 4.2 0 1 0 -8.4 0ZM904.71 357.42a4.2 4.2 0 1 0 8.4 0a4.2 4.2 0 1 0 -8.4 0ZM905.74 358.51a4.2 4.2 0 1 0 8.4 0a4.2 4.2 0 1 0 -8.4 0ZM906.75 355.85a4.2 4.2 0 1 0 8.4 0a4.2 4.2 0 1 0 -8.4 0ZM907.75 358.51a4.2 4.2 0 1 0 8.4 0a4.2 4.2 0 1 0 -8.4 0ZM908.74 358.48a4.2 4.2 0 1 0 8.4 0a4.2 4.2 0 1 0 -8.4 0ZM909.72 356.89a4.2 4.2 0 1 0 8.4 0a4.2 4.2 0 1 0 -8.4 0ZM910.69 356.79a4.2 4.2 0 1 0 8.4 0a4.2 4.2 0 1 0 -8.4 0ZM911.64 358.48a4.2 4.2 0 1 0 8.4 0a4.2 4.2 0 1 0 -8.4 0ZM912.59 356.78a4.2 4.2 0 1 0 8.4 0a4.2 4.2 0 1 0 -8.4 0ZM913.52 354.89a4.2 4.2 0 1 0 8.4 0a4.2 4.2 0 1 0 -8.4 0ZM914.45 359.31a4.2 4.2 0 1 0 8.4 0a4.2 4.2 0 1 0 -8.4 0ZM915.37 356.41a4.2 4.2 0 1 0 8.4 0a4.2 4.2 0 1 0 -8.4 0ZM916.27 358.02a4.2 4.2 0 1 0 8.4 0a4.2 4.2 0 1 0 -8.4 0ZM917.17 360.09a4.2 4.2 0 1 0 8.4 0a4.2 4.2 0 1 0 -8.4 0ZM918.06 356.35a4.2 4.2 0 1 0 8.4 0a4.2 4.2 0 1 0 -8.4 0ZM918.94 355.57a4.2 4.2 0 1 0 8.4 0a4.2 4.2 0 1 0 -8.4 0ZM919.81 356.39a4.2 4.2 0 1 0 8.4 0a4.2 4.2 0 1 0 -8.4 0ZM920.67 359.55a4.2 4.2 0 1 0 8.4 0a4.2 4.2 0 1 0 -8.4 0ZM921.52 358.26a4.2 4.2 0 1 0 8.4 0a4.2 4.2 0 1 0 -8.4 0ZM922.37 357.75a4.2 4.2 0 1 0 8.4 0a4.2 4.2 0 1 0 -8.4 0ZM923.21 359.17a4.2 4.2 0 1 0 8.4 0a4.2 4.2 0 1 0 -8.4 0ZM924.03 362.38a4.2 4.2 0 1 0 8.4 0a4.2 4.2 0 1 0 -8.4 0ZM924.86 358.24a4.2 4.2 0 1 0 8.4 0a4.2 4.2 0 1 0 -8.4 0ZM925.67 359.4a4.2 4.2 0 1 0 8.4 0a4.2 4.2 0 1 0 -8.4 0ZM926.47 362.34a4.2 4.2 0 1 0 8.4 0a4.2 4.2 0 1 0 -8.4 0ZM927.27 360.53a4.2 4.2 0 1 0 8.4 0a4.2 4.2 0 1 0 -8.4 0ZM928.06 358.23a4.2 4.2 0 1 0 8.4 0a4.2 4.2 0 1 0 -8.4 0ZM928.85 359.46a4.2 4.2 0 1 0 8.4 0a4.2 4.2 0 1 0 -8.4 0ZM929.62 359.38a4.2 4.2 0 1 0 8.4 0a4.2 4.2 0 1 0 -8.4 0ZM930.39 357.14a4.2 4.2 0 1 0 8.4 0a4.2 4.2 0 1 0 -8.4 0ZM931.16 358.55a4.2 4.2 0 1 0 8.4 0a4.2 4.2 0 1 0 -8.4 0ZM931.91 357.99a4.2 4.2 0 1 0 8.4 0a4.2 4.2 0 1 0 -8.4 0ZM932.66 361.09a4.2 4.2 0 1 0 8.4 0a4.2 4.2 0 1 0 -8.4 0ZM933.41 357.92a4.2 4.2 0 1 0 8.4 0a4.2 4.2 0 1 0 -8.4 0ZM934.14 359.98a4.2 4.2 0 1 0 8.4 0a4.2 4.2 0 1 0 -8.4 0ZM934.87 361.88a4.2 4.2 0 1 0 8.4 0a4.2 4.2 0 1 0 -8.4 0ZM935.6 361.48a4.2 4.2 0 1 0 8.4 0a4.2 4.2 0 1 0 -8.4 0ZM936.32 357.89a4.2 4.2 0 1 0 8.4 0a4.2 4.2 0 1 0 -8.4 0ZM937.03 359.26a4.2 4.2 0 1 0 8.4 0a4.2 4.2 0 1 0 -8.4 0ZM937.74 357.36a4.2 4.2 0 1 0 8.4 0a4.2 4.2 0 1 0 -8.4 0ZM938.44 357.77a4.2 4.2 0 1 0 8.4 0a4.2 4.2 0 1 0 -8.4 0ZM939.13 358.26a4.2 4.2 0 1 0 8.4 0a4.2 4.2 0 1 0 -8.4 0ZM939.82 360.13a4.2 4.2 0 1 0 8.4 0a4.2 4.2 0 1 0 -8.4 0ZM940.51 360.96a4.2 4.2 0 1 0 8.4 0a4.2 4.2 0 1 0 -8.4 0ZM941.19 356.74a4.2 4.2 0 1 0 8.4 0a4.2 4.2 0 1 0 -8.4 0ZM941.86 354.83a4.2 4.2 0 1 0 8.4 0a4.2 4.2 0 1 0 -8.4 0ZM942.53 357.58a4.2 4.2 0 1 0 8.4 0a4.2 4.2 0 1 0 -8.4 0ZM943.19 354.99a4.2 4.2 0 1 0 8.4 0a4.2 4.2 0 1 0 -8.4 0ZM943.85 354.74a4.2 4.2 0 1 0 8.4 0a4.2 4.2 0 1 0 -8.4 0ZM944.51 359.41a4.2 4.2 0 1 0 8.4 0a4.2 4.2 0 1 0 -8.4 0ZM945.15 355.1a4.2 4.2 0 1 0 8.4 0a4.2 4.2 0 1 0 -8.4 0ZM945.8 358.9a4.2 4.2 0 1 0 8.4 0a4.2 4.2 0 1 0 -8.4 0ZM946.44 356.54a4.2 4.2 0 1 0 8.4 0a4.2 4.2 0 1 0 -8.4 0ZM947.07 360.15a4.2 4.2 0 1 0 8.4 0a4.2 4.2 0 1 0 -8.4 0ZM947.7 359.52a4.2 4.2 0 1 0 8.4 0a4.2 4.2 0 1 0 -8.4 0ZM948.33 354.38a4.2 4.2 0 1 0 8.4 0a4.2 4.2 0 1 0 -8.4 0ZM948.95 355.14a4.2 4.2 0 1 0 8.4 0a4.2 4.2 0 1 0 -8.4 0ZM949.56 359.89a4.2 4.2 0 1 0 8.4 0a4.2 4.2 0 1 0 -8.4 0ZM950.18 357.63a4.2 4.2 0 1 0 8.4 0a4.2 4.2 0 1 0 -8.4 0ZM950.78 356.26a4.2 4.2 0 1 0 8.4 0a4.2 4.2 0 1 0 -8.4 0ZM951.39 358.41a4.2 4.2 0 1 0 8.4 0a4.2 4.2 0 1 0 -8.4 0ZM951.99 358.46a4.2 4.2 0 1 0 8.4 0a4.2 4.2 0 1 0 -8.4 0ZM952.58 356.25a4.2 4.2 0 1 0 8.4 0a4.2 4.2 0 1 0 -8.4 0ZM953.17 355.96a4.2 4.2 0 1 0 8.4 0a4.2 4.2 0 1 0 -8.4 0ZM953.76 353.45a4.2 4.2 0 1 0 8.4 0a4.2 4.2 0 1 0 -8.4 0ZM954.34 354.98a4.2 4.2 0 1 0 8.4 0a4.2 4.2 0 1 0 -8.4 0ZM954.92 353.45a4.2 4.2 0 1 0 8.4 0a4.2 4.2 0 1 0 -8.4 0ZM955.5 356.38a4.2 4.2 0 1 0 8.4 0a4.2 4.2 0 1 0 -8.4 0Z" fill="#a9a9a9"/>
<path d="M620.35 850.7 L645.26 719.91 L664.58 681 L680.37 642.31 L693.72 616.97 L705.29 599.66 L715.49 579.25 L724.61 559.95 L732.86 545.92 L740.4 534.64 L747.33 520.69 L753.75 507.63 L759.72 501.11 L765.31 494.12 L770.56 482.79 L775.51 474.31 L780.19 467.59 L784.63 461.23 L788.86 453.36 L792.89 447.17 L796.74 444.66 L800.42 435.7 L803.96 435.5 L807.35 428.72 L810.62 424.12 L813.77 418.27 L816.81 413.79 L819.75 411.28 L822.59 403.76 L825.34 402.62 L828 399.67 L830.59 394.92 L833.1 392.86 L835.54 386.94 L837.91 383.96 L840.22 381.98 L842.47 382.12 L844.66 377.84 L846.8 375.27 L848.88 375.26 L850.92 372.74 L852.91 370.12 L854.86 371.69 L856.76 369.51 L858.63 365.07 L860.45 365.68 L862.23 363.89 L863.98 364.69 L865.7 362.35 L867.38 358.14 L869.03 361.21 L870.65 355.26 L872.24 356.85 L873.8 358.7 L875.33 354.51 L876.84 356.35 L878.32 353.17 L879.77 356.89 L881.2 357.21 L882.61 355.7 L884 357.35 L885.36 353.47 L886.7 355.63 L888.03 354.71 L889.33 354.35 L890.61 353.3 L891.88 355.49 L893.12 355.9 L894.35 352.55 L895.56 353.4 L896.76 349.18 L897.93 352.92 L899.1 352.23 L900.24 354.09 L901.38 352.66 L902.49 348.88 L903.6 349.2 L904.69 350.68 L905.76 346.22 L906.82 348.71 L907.87 346.52 L908.91 345.88 L909.94 345.2 L910.95 349.91 L911.95 346.02 L912.94 346.97 L913.92 348.09 L914.89 351.35 L915.84 346.48 L916.79 349.03 L917.72 349.86 L918.65 352.18 L919.57 351.96 L920.47 352.42 L921.37 348.86 L922.26 349.91 L923.14 349.72 L924.01 353.26 L924.87 353.9 L925.72 348.91 L926.57 349.24 L927.41 349.77 L928.23 349.94 L929.06 351.71 L929.87 352.54 L930.67 350.43 L931.47 348.7 L932.26 351.29 L933.05 350.91 L933.82 352.11 L934.59 354.52 L935.36 352.77 L936.11 351.59 L936.86 352.18 L937.61 352.49 L938.34 348.45 L939.07 353.8 L939.8 352.98 L940.52 353.52 L941.23 352.97 L941.94 350.32 L942.64 350.3 L943.33 348.35 L944.02 351.69 L944.71 347.97 L945.39 347.95 L946.06 348.8 L946.73 348.44 L947.39 349.53 L948.05 347.63 L948.71 347.24 L949.35 348.16 L950 347.78 L950.64 349.41 L951.27 347.19 L951.9 352.57 L952.53 350.85 L953.15 347.82 L953.76 348.43 L954.38 348.99 L954.98 349.04 L955.59 347.45 L956.19 352.04 L956.78 352.91 L957.37 349.49 L957.96 349.55 L958.54 346.95 L959.12 347.01 L959.7 348.49" stroke="#808080" stroke-width="1.9" fill="none" stroke-linejoin="round"/>
<path d="M620.35 845.5L624.85 853.3L615.84 853.3ZM645.26 714.71L649.76 722.51L640.76 722.51ZM664.58 675.8L669.09 683.6L660.08 683.6ZM680.37 637.11L684.88 644.91L675.87 644.91ZM693.72 611.77L698.22 619.57L689.22 619.57ZM705.29 594.46L709.79 602.26L700.78 602.26ZM715.49 574.05L719.99 581.85L710.98 581.85ZM724.61 554.75L729.11 562.55L720.11 562.55ZM732.86 540.72L737.37 548.52L728.36 548.52ZM740.4 529.44L744.9 537.24L735.89 537.24ZM747.33 515.49L751.83 523.29L742.83 523.29ZM753.75 502.43L758.25 510.23L749.24 510.23ZM759.72 495.91L764.22 503.71L755.22 503.71ZM765.31 488.92L769.81 496.72L760.81 496.72ZM770.56 477.59L775.06 485.39L766.06 485.39ZM775.51 469.11L780.01 476.91L771.01 476.91ZM780.19 462.39L784.7 470.19L775.69 470.19ZM784.63 456.03L789.14 463.83L780.13 463.83ZM788.86 448.16L793.36 455.96L784.36 455.96ZM792.89 441.97L797.39 449.77L788.38 449.77ZM796.74 439.46L801.24 447.26L792.23 447.26ZM800.42 430.5L804.93 438.3L795.92 438.3ZM803.96 430.3L808.46 438.1L799.46 438.1ZM807.35 423.52L811.86 431.32L802.85 431.32ZM810.62 418.92L815.13 426.72L806.12 426.72ZM813.77 413.07L818.28 420.87L809.27 420.87ZM816.81 408.59L821.31 416.39L812.31 416.39ZM819.75 406.08L824.25 413.88L815.24 413.88ZM822.59 398.56L827.09 406.36L818.08 406.36ZM825.34 397.42L829.84 405.22L820.83 405.22ZM828 394.47L832.5 402.27L823.5 402.27ZM830.59 389.72L835.09 397.52L826.08 397.52ZM833.1 387.66L837.6 395.46L828.59 395.46ZM835.54 381.74L840.04 389.54L831.03 389.54ZM837.91 378.76L842.41 386.56L833.41 386.56ZM840.22 376.78L844.72 384.58L835.71 384.58ZM842.47 376.92L846.97 384.72L837.96 384.72ZM844.66 372.64L849.16 380.44L840.16 380.44ZM846.8 370.07L851.3 377.87L842.29 377.87ZM848.88 370.06L853.39 377.86L844.38 377.86ZM850.92 367.54L855.43 375.34L846.42 375.34ZM852.91 364.92L857.42 372.72L848.41 372.72ZM854.86 366.49L859.36 374.29L850.36 374.29ZM856.76 364.31L861.27 372.11L852.26 372.11ZM858.63 359.87L863.13 367.67L854.12 367.67ZM860.45 360.48L864.95 368.28L855.95 368.28ZM862.23 358.69L866.74 366.49L857.73 366.49ZM863.98 359.49L868.49 367.29L859.48 367.29ZM865.7 357.15L870.2 364.95L861.2 364.95ZM867.38 352.94L871.88 360.74L862.88 360.74ZM869.03 356.01L873.53 363.81L864.53 363.81ZM870.65 350.06L875.15 357.86L866.15 357.86ZM872.24 351.65L876.74 359.45L867.73 359.45ZM873.8 353.5L878.3 361.3L869.29 361.3ZM875.33 349.31L879.83 357.11L870.83 357.11ZM876.84 351.15L881.34 358.95L872.33 358.95ZM878.32 347.97L882.82 355.77L873.81 355.77ZM879.77 351.69L884.28 359.49L875.27 359.49ZM881.2 352.01L885.71 359.81L876.7 359.81ZM882.61 350.5L887.12 358.3L878.11 358.3ZM884 352.15L888.5 359.95L879.49 359.95ZM885.36 348.27L889.86 356.07L880.86 356.07ZM886.7 350.43L891.21 358.23L882.2 358.23ZM888.03 349.51L892.53 357.31L883.52 357.31ZM889.33 349.15L893.83 356.95L884.83 356.95ZM890.61 348.1L895.11 355.9L886.11 355.9ZM891.88 350.29L896.38 358.09L887.37 358.09ZM893.12 350.7L897.62 358.5L888.62 358.5ZM894.35 347.35L898.85 355.15L889.85 355.15ZM895.56 348.2L900.06 356L891.06 356ZM896.76 343.98L901.26 351.78L892.25 351.78ZM897.93 347.72L902.44 355.52L893.43 355.52ZM899.1 347.03L903.6 354.83L894.59 354.83ZM900.24 348.89L904.75 356.69L895.74 356.69ZM901.38 347.46L905.88 355.26L896.87 355.26ZM902.49 343.68L907 351.48L897.99 351.48ZM903.6 344L908.1 351.8L899.09 351.8ZM904.69 345.48L909.19 353.28L900.18 353.28ZM905.76 341.02L910.26 348.82L901.26 348.82ZM906.82 343.51L911.33 351.31L902.32 351.31ZM907.87 341.32L912.38 349.12L903.37 349.12ZM908.91 340.68L913.41 348.48L904.41 348.48ZM909.94 340L914.44 347.8L905.43 347.8ZM910.95 344.71L915.45 352.51L906.44 352.51ZM911.95 340.82L916.45 348.62L907.45 348.62ZM912.94 341.77L917.44 349.57L908.44 349.57ZM913.92 342.89L918.42 350.69L909.41 350.69ZM914.89 346.15L919.39 353.95L910.38 353.95ZM915.84 341.28L920.35 349.08L911.34 349.08ZM916.79 343.83L921.29 351.63L912.29 351.63ZM917.72 344.66L922.23 352.46L913.22 352.46ZM918.65 346.98L923.15 354.78L914.15 354.78ZM919.57 346.76L924.07 354.56L915.06 354.56ZM920.47 347.22L924.98 355.02L915.97 355.02ZM921.37 343.66L925.87 351.46L916.87 351.46ZM922.26 344.71L926.76 352.51L917.76 352.51ZM923.14 344.52L927.64 352.32L918.64 352.32ZM924.01 348.06L928.51 355.86L919.51 355.86ZM924.87 348.7L929.37 356.5L920.37 356.5ZM925.72 343.71L930.23 351.51L921.22 351.51ZM926.57 344.04L931.07 351.84L922.07 351.84ZM927.41 344.57L931.91 352.37L922.9 352.37ZM928.23 344.74L932.74 352.54L923.73 352.54ZM929.06 346.51L933.56 354.31L924.55 354.31ZM929.87 347.34L934.37 355.14L925.36 355.14ZM930.67 345.23L935.18 353.03L926.17 353.03ZM931.47 343.5L935.98 351.3L926.97 351.3ZM932.26 346.09L936.77 353.89L927.76 353.89ZM933.05 345.71L937.55 353.51L928.54 353.51ZM933.82 346.91L938.33 354.71L929.32 354.71ZM934.59 349.32L939.1 357.12L930.09 357.12ZM935.36 347.57L939.86 355.37L930.85 355.37ZM936.11 346.39L940.62 354.19L931.61 354.19ZM936.86 346.98L941.37 354.78L932.36 354.78ZM937.61 347.29L942.11 355.09L933.1 355.09ZM938.34 343.25L942.85 351.05L933.84 351.05ZM939.07 348.6L943.58 356.4L934.57 356.4ZM939.8 347.78L944.3 355.58L935.29 355.58ZM940.52 348.32L945.02 356.12L936.01 356.12ZM941.23 347.77L945.73 355.57L936.73 355.57ZM941.94 345.12L946.44 352.92L937.43 352.92ZM942.64 345.1L947.14 352.9L938.13 352.9ZM943.33 343.15L947.84 350.95L938.83 350.95ZM944.02 346.49L948.53 354.29L939.52 354.29ZM944.71 342.77L949.21 350.57L940.2 350.57ZM945.39 342.75L949.89 350.55L940.88 350.55ZM946.06 343.6L950.56 351.4L941.56 351.4ZM946.73 343.24L951.23 351.04L942.23 351.04ZM947.39 344.33L951.9 352.13L942.89 352.13ZM948.05 342.43L952.55 350.23L943.55 350.23ZM948.71 342.04L953.21 349.84L944.2 349.84ZM949.35 342.96L953.86 350.76L944.85 350.76ZM950 342.58L954.5 350.38L945.49 350.38ZM950.64 344.21L955.14 352.01L946.13 352.01ZM951.27 341.99L955.77 349.79L946.77 349.79ZM951.9 347.37L956.4 355.17L947.4 355.17ZM952.53 345.65L957.03 353.45L948.02 353.45ZM953.15 342.62L957.65 350.42L948.64 350.42ZM953.76 343.23L958.27 351.03L949.26 351.03ZM954.38 343.79L958.88 351.59L949.87 351.59ZM954.98 343.84L959.49 351.64L950.48 351.64ZM955.59 342.25L960.09 350.05L951.08 350.05ZM956.19 346.84L960.69 354.64L951.68 354.64ZM956.78 347.71L961.28 355.51L952.28 355.51ZM957.37 344.29L961.88 352.09L952.87 352.09ZM957.96 344.35L962.46 352.15L953.46 352.15ZM958.54 341.75L963.05 349.55L954.04 349.55ZM959.12 341.81L963.62 349.61L954.62 349.61ZM959.7 343.29L964.2 351.09L955.19 351.09Z" fill="#808080"/>
<path d="M521.81 837.8 L556.93 732.04 L581.84 661.7 L601.16 619.48 L616.95 588.91 L630.3 561.02 L641.86 537.68 L652.06 517.37 L661.19 502.6 L669.44 487.44 L676.98 473.14 L683.91 459.71 L690.33 446.62 L696.3 437.89 L701.89 427.09 L707.14 418.91 L712.09 409.82 L716.77 402.33 L721.21 394.69 L725.44 388.7 L729.47 379.57 L733.32 371.57 L737 365.39 L740.54 361.83 L743.93 351.88 L747.2 348.21 L750.35 341.42 L753.39 337.11 L756.33 331.03 L759.16 328.15 L761.91 322.94 L764.58 319.45 L767.16 316.59 L769.67 311.13 L772.11 305.36 L774.49 301.42 L776.8 302.35 L779.05 296.71 L781.24 291.95 L783.38 292.6 L785.46 287.61 L787.5 285.77 L789.49 284.03 L791.44 278.45 L793.34 276.4 L795.2 276.74 L797.03 270.55 L798.81 271.55 L800.56 265.86 L802.28 266.97 L803.96 265.53 L805.61 265.35 L807.23 263.35 L808.82 260.16 L810.38 257.17 L811.91 255.56 L813.41 256.18 L814.9 254.76 L816.35 251.18 L817.78 254.25 L819.19 251.4 L820.58 251.62 L821.94 248.35 L823.28 247.71 L824.6 245.76 L825.91 246.75 L827.19 245.62 L828.45 245.72 L829.7 244.78 L830.93 246.46 L832.14 246.07 L833.33 241.67 L834.51 242.38 L835.67 240.9 L836.82 243.19 L837.95 244.53 L839.07 240.23 L840.17 242.89 L841.26 240.19 L842.34 238.43 L843.4 242.07 L844.45 239.61 L845.49 238.46 L846.51 239.59 L847.53 238.27 L848.53 238.95 L849.52 238.89 L850.5 238.5 L851.46 239.14 L852.42 237.35 L853.37 236.1 L854.3 235.82 L855.23 235.7 L856.15 237.62 L857.05 236.57 L857.95 238.9 L858.84 237.33 L859.72 238.38 L860.59 239.8 L861.45 235.03 L862.3 234.79 L863.15 235.43 L863.98 236.71 L864.81 237.68 L865.63 238.57 L866.45 236.53 L867.25 239.72 L868.05 234.72 L868.84 239.05 L869.62 235.79 L870.4 239.25 L871.17 234.87 L871.93 239.72 L872.69 238.65 L873.44 239.85 L874.18 237.72 L874.92 235.62 L875.65 239.74 L876.38 237 L877.09 235.13 L877.81 237.85 L878.51 237.29 L879.22 237.16 L879.91 235.5 L880.6 235.33 L881.29 237.72 L881.96 237.13 L882.64 235.5 L883.31 237.2 L883.97 238.76 L884.63 238.78 L885.28 237.58 L885.93 237.24 L886.58 237.14 L887.21 236.51 L887.85 236.43 L888.48 237.79 L889.1 236.1 L889.73 239.37 L890.34 239.35 L890.95 238.91 L891.56 235.92 L892.16 237.76 L892.76 238.18 L893.36 236.48 L893.95 241.09 L894.54 240.05 L895.12 238.79 L895.7 239.91 L896.28 237.35 L896.85 237.56 L897.41 239.16 L897.98 240.35 L898.54 239.91 L899.1 236.64 L899.65 239.85 L900.2 241.45 L900.75 240.65 L901.29 241.66 L901.83 242 L902.36 238.12 L902.9 238.55 L903.43 239.91 L903.95 242.2 L904.48 239.1 L905 242.13 L905.51 241.71 L906.03 239.81 L906.54 240.17 L907.05 241.69 L907.55 240.58 L908.05 237.84 L908.55 240.49 L909.05 236.91 L909.54 237.61 L910.03 240.47 L910.52 239.7 L911.01 236.72 L911.49 236.41 L911.97 237.89 L912.45 238.89 L912.92 237.87 L913.39 238.99 L913.86 237.71 L914.33 238.01 L914.79 236.69 L915.25 235.24 L915.71 235.39 L916.17 235.53 L916.63 235.55 L917.08 236.97 L917.53 233.83 L917.97 232.6 L918.42 235.88 L918.86 233.29 L919.3 233.89 L919.74 232.13 L920.18 235.66" stroke="#c6c6c6" stroke-width="1.9" fill="none" stroke-linejoin="round"/>
<path d="M521.81 831.8L527.81 837.8L521.81 843.8L515.81 837.8ZM556.93 726.04L562.93 732.04L556.93 738.04L550.93 732.04ZM581.84 655.7L587.84 661.7L581.84 667.7L575.84 661.7ZM601.16 613.48L607.16 619.48L601.16 625.48L595.16 619.48ZM616.95 582.91L622.95 588.91L616.95 594.91L610.95 588.91ZM630.3 555.02L636.3 561.02L630.3 567.02L624.3 561.02ZM641.86 531.68L647.86 537.68L641.86 543.68L635.86 537.68ZM652.06 511.37L658.06 517.37L652.06 523.37L646.06 517.37ZM661.19 496.6L667.19 502.6L661.19 508.6L655.19 502.6ZM669.44 481.44L675.44 487.44L669.44 493.44L663.44 487.44ZM676.98 467.14L682.98 473.14L676.98 479.14L670.98 473.14ZM683.91 453.71L689.91 459.71L683.91 465.71L677.91 459.71ZM690.33 440.62L696.33 446.62L690.33 452.62L684.33 446.62ZM696.3 431.89L702.3 437.89L696.3 443.89L690.3 437.89ZM701.89 421.09L707.89 427.09L701.89 433.09L695.89 427.09ZM707.14 412.91L713.14 418.91L707.14 424.91L701.14 418.91ZM712.09 403.82L718.09 409.82L712.09 415.82L706.09 409.82ZM716.77 396.33L722.77 402.33L716.77 408.33L710.77 402.33ZM721.21 388.69L727.21 394.69L721.21 400.69L715.21 394.69ZM725.44 382.7L731.44 388.7L725.44 394.7L719.44 388.7ZM729.47 373.57L735.47 379.57L729.47 385.57L723.47 379.57ZM733.32 365.57L739.32 371.57L733.32 377.57L727.32 371.57ZM737 359.39L743 365.39L737 371.39L731 365.39ZM740.54 355.83L746.54 361.83L740.54 367.83L734.54 361.83ZM743.93 345.88L749.93 351.88L743.93 357.88L737.93 351.88ZM747.2 342.21L753.2 348.21L747.2 354.21L741.2 348.21ZM750.35 335.42L756.35 341.42L750.35 347.42L744.35 341.42ZM753.39 331.11L759.39 337.11L753.39 343.11L747.39 337.11ZM756.33 325.03L762.33 331.03L756.33 337.03L750.33 331.03ZM759.16 322.15L765.16 328.15L759.16 334.15L753.16 328.15ZM761.91 316.94L767.91 322.94L761.91 328.94L755.91 322.94ZM764.58 313.45L770.58 319.45L764.58 325.45L758.58 319.45ZM767.16 310.59L773.16 316.59L767.16 322.59L761.16 316.59ZM769.67 305.13L775.67 311.13L769.67 317.13L763.67 311.13ZM772.11 299.36L778.11 305.36L772.11 311.36L766.11 305.36ZM774.49 295.42L780.49 301.42L774.49 307.42L768.49 301.42ZM776.8 296.35L782.8 302.35L776.8 308.35L770.8 302.35ZM779.05 290.71L785.05 296.71L779.05 302.71L773.05 296.71ZM781.24 285.95L787.24 291.95L781.24 297.95L775.24 291.95ZM783.38 286.6L789.38 292.6L783.38 298.6L777.38 292.6ZM785.46 281.61L791.46 287.61L785.46 293.61L779.46 287.61ZM787.5 279.77L793.5 285.77L787.5 291.77L781.5 285.77ZM789.49 278.03L795.49 284.03L789.49 290.03L783.49 284.03ZM791.44 272.45L797.44 278.45L791.44 284.45L785.44 278.45ZM793.34 270.4L799.34 276.4L793.34 282.4L787.34 276.4ZM795.2 270.74L801.2 276.74L795.2 282.74L789.2 276.74ZM797.03 264.55L803.03 270.55L797.03 276.55L791.03 270.55ZM798.81 265.55L804.81 271.55L798.81 277.55L792.81 271.55ZM800.56 259.86L806.56 265.86L800.56 271.86L794.56 265.86ZM802.28 260.97L808.28 266.97L802.28 272.97L796.28 266.97ZM803.96 259.53L809.96 265.53L803.96 271.53L797.96 265.53ZM805.61 259.35L811.61 265.35L805.61 271.35L799.61 265.35ZM807.23 257.35L813.23 263.35L807.23 269.35L801.23 263.35ZM808.82 254.16L814.82 260.16L808.82 266.16L802.82 260.16ZM810.38 251.17L816.38 257.17L810.38 263.17L804.38 257.17ZM811.91 249.56L817.91 255.56L811.91 261.56L805.91 255.56ZM813.41 250.18L819.41 256.18L813.41 262.18L807.41 256.18ZM814.9 248.76L820.9 254.76L814.9 260.76L808.9 254.76ZM816.35 245.18L822.35 251.18L816.35 257.18L810.35 251.18ZM817.78 248.25L823.78 254.25L817.78 260.25L811.78 254.25ZM819.19 245.4L825.19 251.4L819.19 257.4L813.19 251.4ZM820.58 245.62L826.58 251.62L820.58 257.62L814.58 251.62ZM821.94 242.35L827.94 248.35L821.94 254.35L815.94 248.35ZM823.28 241.71L829.28 247.71L823.28 253.71L817.28 247.71ZM824.6 239.76L830.6 245.76L824.6 251.76L818.6 245.76ZM825.91 240.75L831.91 246.75L825.91 252.75L819.91 246.75ZM827.19 239.62L833.19 245.62L827.19 251.62L821.19 245.62ZM828.45 239.72L834.45 245.72L828.45 251.72L822.45 245.72ZM829.7 238.78L835.7 244.78L829.7 250.78L823.7 244.78ZM830.93 240.46L836.93 246.46L830.93 252.46L824.93 246.46ZM832.14 240.07L838.14 246.07L832.14 252.07L826.14 246.07ZM833.33 235.67L839.33 241.67L833.33 247.67L827.33 241.67ZM834.51 236.38L840.51 242.38L834.51 248.38L828.51 242.38ZM835.67 234.9L841.67 240.9L835.67 246.9L829.67 240.9ZM836.82 237.19L842.82 243.19L836.82 249.19L830.82 243.19ZM837.95 238.53L843.95 244.53L837.95 250.53L831.95 244.53ZM839.07 234.23L845.07 240.23L839.07 246.23L833.07 240.23ZM840.17 236.89L846.17 242.89L840.17 248.89L834.17 242.89ZM841.26 234.19L847.26 240.19L841.26 246.19L835.26 240.19ZM842.34 232.43L848.34 238.43L842.34 244.43L836.34 238.43ZM843.4 236.07L849.4 242.07L843.4 248.07L837.4 242.07ZM844.45 233.61L850.45 239.61L844.45 245.61L838.45 239.61ZM845.49 232.46L851.49 238.46L845.49 244.46L839.49 238.46ZM846.51 233.59L852.51 239.59L846.51 245.59L840.51 239.59ZM847.53 232.27L853.53 238.27L847.53 244.27L841.53 238.27ZM848.53 232.95L854.53 238.95L848.53 244.95L842.53 238.95ZM849.52 232.89L855.52 238.89L849.52 244.89L843.52 238.89ZM850.5 232.5L856.5 238.5L850.5 244.5L844.5 238.5ZM851.46 233.14L857.46 239.14L851.46 245.14L845.46 239.14ZM852.42 231.35L858.42 237.35L852.42 243.35L846.42 237.35ZM853.37 230.1L859.37 236.1L853.37 242.1L847.37 236.1ZM854.3 229.82L860.3 235.82L854.3 241.82L848.3 235.82ZM855.23 229.7L861.23 235.7L855.23 241.7L849.23 235.7ZM856.15 231.62L862.15 237.62L856.15 243.62L850.15 237.62ZM857.05 230.57L863.05 236.57L857.05 242.57L851.05 236.57ZM857.95 232.9L863.95 238.9L857.95 244.9L851.95 238.9ZM858.84 231.33L864.84 237.33L858.84 243.33L852.84 237.33ZM859.72 232.38L865.72 238.38L859.72 244.38L853.72 238.38ZM860.59 233.8L866.59 239.8L860.59 245.8L854.59 239.8ZM861.45 229.03L867.45 235.03L861.45 241.03L855.45 235.03ZM862.3 228.79L868.3 234.79L862.3 240.79L856.3 234.79ZM863.15 229.43L869.15 235.43L863.15 241.43L857.15 235.43ZM863.98 230.71L869.98 236.71L863.98 242.71L857.98 236.71ZM864.81 231.68L870.81 237.68L864.81 243.68L858.81 237.68ZM865.63 232.57L871.63 238.57L865.63 244.57L859.63 238.57ZM866.45 230.53L872.45 236.53L866.45 242.53L860.45 236.53ZM867.25 233.72L873.25 239.72L867.25 245.72L861.25 239.72ZM868.05 228.72L874.05 234.72L868.05 240.72L862.05 234.72ZM868.84 233.05L874.84 239.05L868.84 245.05L862.84 239.05ZM869.62 229.79L875.62 235.79L869.62 241.79L863.62 235.79ZM870.4 233.25L876.4 239.25L870.4 245.25L864.4 239.25ZM871.17 228.87L877.17 234.87L871.17 240.87L865.17 234.87ZM871.93 233.72L877.93 239.72L871.93 245.72L865.93 239.72ZM872.69 232.65L878.69 238.65L872.69 244.65L866.69 238.65ZM873.44 233.85L879.44 239.85L873.44 245.85L867.44 239.85ZM874.18 231.72L880.18 237.72L874.18 243.72L868.18 237.72ZM874.92 229.62L880.92 235.62L874.92 241.62L868.92 235.62ZM875.65 233.74L881.65 239.74L875.65 245.74L869.65 239.74ZM876.38 231L882.38 237L876.38 243L870.38 237ZM877.09 229.13L883.09 235.13L877.09 241.13L871.09 235.13ZM877.81 231.85L883.81 237.85L877.81 243.85L871.81 237.85ZM878.51 231.29L884.51 237.29L878.51 243.29L872.51 237.29ZM879.22 231.16L885.22 237.16L879.22 243.16L873.22 237.16ZM879.91 229.5L885.91 235.5L879.91 241.5L873.91 235.5ZM880.6 229.33L886.6 235.33L880.6 241.33L874.6 235.33ZM881.29 231.72L887.29 237.72L881.29 243.72L875.29 237.72ZM881.96 231.13L887.96 237.13L881.96 243.13L875.96 237.13ZM882.64 229.5L888.64 235.5L882.64 241.5L876.64 235.5ZM883.31 231.2L889.31 237.2L883.31 243.2L877.31 237.2ZM883.97 232.76L889.97 238.76L883.97 244.76L877.97 238.76ZM884.63 232.78L890.63 238.78L884.63 244.78L878.63 238.78ZM885.28 231.58L891.28 237.58L885.28 243.58L879.28 237.58ZM885.93 231.24L891.93 237.24L885.93 243.24L879.93 237.24ZM886.58 231.14L892.58 237.14L886.58 243.14L880.58 237.14ZM887.21 230.51L893.21 236.51L887.21 242.51L881.21 236.51ZM887.85 230.43L893.85 236.43L887.85 242.43L881.85 236.43ZM888.48 231.79L894.48 237.79L888.48 243.79L882.48 237.79ZM889.1 230.1L895.1 236.1L889.1 242.1L883.1 236.1ZM889.73 233.37L895.73 239.37L889.73 245.37L883.73 239.37ZM890.34 233.35L896.34 239.35L890.34 245.35L884.34 239.35ZM890.95 232.91L896.95 238.91L890.95 244.91L884.95 238.91ZM891.56 229.92L897.56 235.92L891.56 241.92L885.56 235.92ZM892.16 231.76L898.16 237.76L892.16 243.76L886.16 237.76ZM892.76 232.18L898.76 238.18L892.76 244.18L886.76 238.18ZM893.36 230.48L899.36 236.48L893.36 242.48L887.36 236.48ZM893.95 235.09L899.95 241.09L893.95 247.09L887.95 241.09ZM894.54 234.05L900.54 240.05L894.54 246.05L888.54 240.05ZM895.12 232.79L901.12 238.79L895.12 244.79L889.12 238.79ZM895.7 233.91L901.7 239.91L895.7 245.91L889.7 239.91ZM896.28 231.35L902.28 237.35L896.28 243.35L890.28 237.35ZM896.85 231.56L902.85 237.56L896.85 243.56L890.85 237.56ZM897.41 233.16L903.41 239.16L897.41 245.16L891.41 239.16ZM897.98 234.35L903.98 240.35L897.98 246.35L891.98 240.35ZM898.54 233.91L904.54 239.91L898.54 245.91L892.54 239.91ZM899.1 230.64L905.1 236.64L899.1 242.64L893.1 236.64ZM899.65 233.85L905.65 239.85L899.65 245.85L893.65 239.85ZM900.2 235.45L906.2 241.45L900.2 247.45L894.2 241.45ZM900.75 234.65L906.75 240.65L900.75 246.65L894.75 240.65ZM901.29 235.66L907.29 241.66L901.29 247.66L895.29 241.66ZM901.83 236L907.83 242L901.83 248L895.83 242ZM902.36 232.12L908.36 238.12L902.36 244.12L896.36 238.12ZM902.9 232.55L908.9 238.55L902.9 244.55L896.9 238.55ZM903.43 233.91L909.43 239.91L903.43 245.91L897.43 239.91ZM903.95 236.2L909.95 242.2L903.95 248.2L897.95 242.2ZM904.48 233.1L910.48 239.1L904.48 245.1L898.48 239.1ZM905 236.13L911 242.13L905 248.13L899 242.13ZM905.51 235.71L911.51 241.71L905.51 247.71L899.51 241.71ZM906.03 233.81L912.03 239.81L906.03 245.81L900.03 239.81ZM906.54 234.17L912.54 240.17L906.54 246.17L900.54 240.17ZM907.05 235.69L913.05 241.69L907.05 247.69L901.05 241.69ZM907.55 234.58L913.55 240.58L907.55 246.58L901.55 240.58ZM908.05 231.84L914.05 237.84L908.05 243.84L902.05 237.84ZM908.55 234.49L914.55 240.49L908.55 246.49L902.55 240.49ZM909.05 230.91L915.05 236.91L909.05 242.91L903.05 236.91ZM909.54 231.61L915.54 237.61L909.54 243.61L903.54 237.61ZM910.03 234.47L916.03 240.47L910.03 246.47L904.03 240.47ZM910.52 233.7L916.52 239.7L910.52 245.7L904.52 239.7ZM911.01 230.72L917.01 236.72L911.01 242.72L905.01 236.72ZM911.49 230.41L917.49 236.41L911.49 242.41L905.49 236.41ZM911.97 231.89L917.97 237.89L911.97 243.89L905.97 237.89ZM912.45 232.89L918.45 238.89L912.45 244.89L906.45 238.89ZM912.92 231.87L918.92 237.87L912.92 243.87L906.92 237.87ZM913.39 232.99L919.39 238.99L913.39 244.99L907.39 238.99ZM913.86 231.71L919.86 237.71L913.86 243.71L907.86 237.71ZM914.33 232.01L920.33 238.01L914.33 244.01L908.33 238.01ZM914.79 230.69L920.79 236.69L914.79 242.69L908.79 236.69ZM915.25 229.24L921.25 235.24L915.25 241.24L909.25 235.24ZM915.71 229.39L921.71 235.39L915.71 241.39L909.71 235.39ZM916.17 229.53L922.17 235.53L916.17 241.53L910.17 235.53ZM916.63 229.55L922.63 235.55L916.63 241.55L910.63 235.55ZM917.08 230.97L923.08 236.97L917.08 242.97L911.08 236.97ZM917.53 227.83L923.53 233.83L917.53 239.83L911.53 233.83ZM917.97 226.6L923.97 232.6L917.97 238.6L911.97 232.6ZM918.42 229.88L924.42 235.88L918.42 241.88L912.42 235.88ZM918.86 227.29L924.86 233.29L918.86 239.29L912.86 233.29ZM919.3 227.89L925.3 233.89L919.3 239.89L913.3 233.89ZM919.74 226.13L925.74 232.13L919.74 238.13L913.74 232.13ZM920.18 229.66L926.18 235.66L920.18 241.66L914.18 235.66Z" fill="#c6c6c6"/>
<path d="M521.81 958.2 L556.93 756.25 L581.84 674.69 L601.16 630.22 L616.95 593.48 L630.3 565.93 L641.86 542.68 L652.06 522.37 L661.19 507.6 L669.44 492.5 L676.98 477.76 L683.91 464.56 L690.33 452.52 L696.3 442.1 L701.89 433.6 L707.14 423.71 L712.09 415.45 L716.77 406.85 L721.21 399.58 L725.44 392.94 L729.47 384.1 L733.32 377.44 L737 368.91 L740.54 363.85 L743.93 355.04 L747.2 349.82 L750.35 345.7 L753.39 340.39 L756.33 334.4 L759.16 328.4 L761.91 324.87 L764.58 320.39 L767.16 316.64 L769.67 315.23 L772.11 308.64 L774.49 308.47 L776.8 305.01 L779.05 297.53 L781.24 295.89 L783.38 293.27 L785.46 287.74 L787.5 287.19 L789.49 287.16 L791.44 280.55 L793.34 280.65 L795.2 275.8 L797.03 275.86 L798.81 275.23 L800.56 269.41 L802.28 266.43 L803.96 265.32 L805.61 266.21 L807.23 262.05 L808.82 260.98 L810.38 261.73 L811.91 262.56 L813.41 258.61 L814.9 257.18 L816.35 257.13 L817.78 253.04 L819.19 254.77 L820.58 251.87 L821.94 253.37 L823.28 254.43 L824.6 248.98 L825.91 250.85 L827.19 250.39 L828.45 247.3 L829.7 247.21 L830.93 250.3 L832.14 249.63 L833.33 244.39 L834.51 246.96 L835.67 247.9 L836.82 243.85 L837.95 245.46 L839.07 242.18 L840.17 243.53 L841.26 244.82 L842.34 244.07 L843.4 244.71 L844.45 240.83 L845.49 241.88 L846.51 244.27 L847.53 242.51 L848.53 241.53 L849.52 240.98 L850.5 243.73 L851.46 241.31 L852.42 238.14 L853.37 241.92 L854.3 239.2 L855.23 239.47 L856.15 238.06 L857.05 239.01 L857.95 238.39 L858.84 237.16 L859.72 239.97 L860.59 237.24 L861.45 240.78 L862.3 236.83 L863.15 240.76 L863.98 240.9 L864.81 239.29 L865.63 240.39 L866.45 237.99 L867.25 240.54 L868.05 238.91 L868.84 237.9 L869.62 241.71 L870.4 238.78 L871.17 238.64 L871.93 241.17 L872.69 238.62 L873.44 240.17 L874.18 237.59 L874.92 241.09 L875.65 238.05 L876.38 236.96 L877.09 241.77 L877.81 237.6 L878.51 241.62 L879.22 241.83 L879.91 239.85 L880.6 236.76 L881.29 237.02 L881.96 237.86 L882.64 238.87 L883.31 240.09 L883.97 242.01 L884.63 238.9 L885.28 237.86 L885.93 240.12 L886.58 237.98 L887.21 237.78 L887.85 240.29 L888.48 241.09 L889.1 237.88 L889.73 239.95 L890.34 241.33 L890.95 241.71 L891.56 239.79 L892.16 242.48 L892.76 238.81 L893.36 241.71 L893.95 242.07 L894.54 242.69 L895.12 240.75 L895.7 238.76 L896.28 238.55 L896.85 241.11 L897.41 239.33 L897.98 241.76 L898.54 238.98 L899.1 242.66 L899.65 239.82 L900.2 238.79 L900.75 239.7 L901.29 241.21 L901.83 241.8 L902.36 240.97 L902.9 239.91 L903.43 241.57 L903.95 244.05 L904.48 241.96 L905 244.13 L905.51 239.44 L906.03 244.29 L906.54 243.53 L907.05 241.53 L907.55 241.21 L908.05 241.08 L908.55 242.81 L909.05 238.21 L909.54 241.01 L910.03 240.28 L910.52 238.82 L911.01 240.83 L911.49 240.61 L911.97 237.2 L912.45 240.1 L912.92 238.63 L913.39 238.62 L913.86 239.19 L914.33 235.96 L914.79 238.63 L915.25 237.24 L915.71 239.68 L916.17 236.12 L916.63 239.01 L917.08 238.34 L917.53 237.61 L917.97 238.73 L918.42 234.18 L918.86 236.91 L919.3 236.81 L919.74 236.97 L920.18 235.38" stroke="#a9a9a9" stroke-width="1.9" fill="none" stroke-linejoin="round"/>
<path d="M517.61 958.2a4.2 4.2 0 1 0 8.4 0a4.2 4.2 0 1 0 -8.4 0ZM552.73 756.25a4.2 4.2 0 1 0 8.4 0a4.2 4.2 0 1 0 -8.4 0ZM577.64 674.69a4.2 4.2 0 1 0 8.4 0a4.2 4.2 0 1 0 -8.4 0ZM596.96 630.22a4.2 4.2 0 1 0 8.4 0a4.2 4.2 0 1 0 -8.4 0ZM612.75 593.48a4.2 4.2 0 1 0 8.4 0a4.2 4.2 0 1 0 -8.4 0ZM626.1 565.93a4.2 4.2 0 1 0 8.4 0a4.2 4.2 0 1 0 -8.4 0ZM637.66 542.68a4.2 4.2 0 1 0 8.4 0a4.2 4.2 0 1 0 -8.4 0ZM647.86 522.37a4.2 4.2 0 1 0 8.4 0a4.2 4.2 0 1 0 -8.4 0ZM656.99 507.6a4.2 4.2 0 1 0 8.4 0a4.2 4.2 0 1 0 -8.4 0ZM665.24 492.5a4.2 4.2 0 1 0 8.4 0a4.2 4.2 0 1 0 -8.4 0ZM672.78 477.76a4.2 4.2 0 1 0 8.4 0a4.2 4.2 0 1 0 -8.4 0ZM679.71 464.56a4.2 4.2 0 1 0 8.4 0a4.2 4.2 0 1 0 -8.4 0ZM686.13 452.52a4.2 4.2 0 1 0 8.4 0a4.2 4.2 0 1 0 -8.4 0ZM692.1 442.1a4.2 4.2 0 1 0 8.4 0a4.2 4.2 0 1 0 -8.4 0ZM697.69 433.6a4.2 4.2 0 1 0 8.4 0a4.2 4.2 0 1 0 -8.4 0ZM702.94 423.71a4.2 4.2 0 1 0 8.4 0a4.2 4.2 0 1 0 -8.4 0ZM707.89 415.45a4.2 4.2 0 1 0 8.4 0a4.2 4.2 0 1 0 -8.4 0ZM712.57 406.85a4.2 4.2 0 1 0 8.4 0a4.2 4.2 0 1 0 -8.4 0ZM717.01 399.58a4.2 4.2 0 1 0 8.4 0a4.2 4.2 0 1 0 -8.4 0ZM721.24 392.94a4.2 4.2 0 1 0 8.4 0a4.2 4.2 0 1 0 -8.4 0ZM725.27 384.1a4.2 4.2 0 1 0 8.4 0a4.2 4.2 0 1 0 -8.4 0ZM729.12 377.44a4.2 4.2 0 1 0 8.4 0a4.2 4.2 0 1 0 -8.4 0ZM732.8 368.91a4.2 4.2 0 1 0 8.4 0a4.2 4.2 0 1 0 -8.4 0ZM736.34 363.85a4.2 4.2 0 1 0 8.4 0a4.2 4.2 0 1 0 -8.4 0ZM739.73 355.04a4.2 4.2 0 1 0 8.4 0a4.2 4.2 0 1 0 -8.4 0ZM743 349.82a4.2 4.2 0 1 0 8.4 0a4.2 4.2 0 1 0 -8.4 0ZM746.15 345.7a4.2 4.2 0 1 0 8.4 0a4.2 4.2 0 1 0 -8.4 0ZM749.19 340.39a4.2 4.2 0 1 0 8.4 0a4.2 4.2 0 1 0 -8.4 0ZM752.13 334.4a4.2 4.2 0 1 0 8.4 0a4.2 4.2 0 1 0 -8.4 0ZM754.96 328.4a4.2 4.2 0 1 0 8.4 0a4.2 4.2 0 1 0 -8.4 0ZM757.71 324.87a4.2 4.2 0 1 0 8.4 0a4.2 4.2 0 1 0 -8.4 0ZM760.38 320.39a4.2 4.2 0 1 0 8.4 0a4.2 4.2 0 1 0 -8.4 0ZM762.96 316.64a4.2 4.2 0 1 0 8.4 0a4.2 4.2 0 1 0 -8.4 0ZM765.47 315.23a4.2 4.2 0 1 0 8.4 0a4.2 4.2 0 1 0 -8.4 0ZM767.91 308.64a4.2 4.2 0 1 0 8.4 0a4.2 4.2 0 1 0 -8.4 0ZM770.29 308.47a4.2 4.2 0 1 0 8.4 0a4.2 4.2 0 1 0 -8.4 0ZM772.6 305.01a4.2 4.2 0 1 0 8.4 0a4.2 4.2 0 1 0 -8.4 0ZM774.85 297.53a4.2 4.2 0 1 0 8.4 0a4.2 4.2 0 1 0 -8.4 0ZM777.04 295.89a4.2 4.2 0 1 0 8.4 0a4.2 4.2 0 1 0 -8.4 0ZM779.18 293.27a4.2 4.2 0 1 0 8.4 0a4.2 4.2 0 1 0 -8.4 0ZM781.26 287.74a4.2 4.2 0 1 0 8.4 0a4.2 4.2 0 1 0 -8.4 0ZM783.3 287.19a4.2 4.2 0 1 0 8.4 0a4.2 4.2 0 1 0 -8.4 0ZM785.29 287.16a4.2 4.2 0 1 0 8.4 0a4.2 4.2 0 1 0 -8.4 0ZM787.24 280.55a4.2 4.2 0 1 0 8.4 0a4.2 4.2 0 1 0 -8.4 0ZM789.14 280.65a4.2 4.2 0 1 0 8.4 0a4.2 4.2 0 1 0 -8.4 0ZM791 275.8a4.2 4.2 0 1 0 8.4 0a4.2 4.2 0 1 0 -8.4 0ZM792.83 275.86a4.2 4.2 0 1 0 8.4 0a4.2 4.2 0 1 0 -8.4 0ZM794.61 275.23a4.2 4.2 0 1 0 8.4 0a4.2 4.2 0 1 0 -8.4 0ZM796.36 269.41a4.2 4.2 0 1 0 8.4 0a4.2 4.2 0 1 0 -8.4 0ZM798.08 266.43a4.2 4.2 0 1 0 8.4 0a4.2 4.2 0 1 0 -8.4 0ZM799.76 265.32a4.2 4.2 0 1 0 8.4 0a4.2 4.2 0 1 0 -8.4 0ZM801.41 266.21a4.2 4.2 0 1 0 8.4 0a4.2 4.2 0 1 0 -8.4 0ZM803.03 262.05a4.2 4.2 0 1 0 8.4 0a4.2 4.2 0 1 0 -8.4 0ZM804.62 260.98a4.2 4.2 0 1 0 8.4 0a4.2 4.2 0 1 0 -8.4 0ZM806.18 261.73a4.2 4.2 0 1 0 8.4 0a4.2 4.2 0 1 0 -8.4 0ZM807.71 262.56a4.2 4.2 0 1 0 8.4 0a4.2 4.2 0 1 0 -8.4 0ZM809.21 258.61a4.2 4.2 0 1 0 8.4 0a4.2 4.2 0 1 0 -8.4 0ZM810.7 257.18a4.2 4.2 0 1 0 8.4 0a4.2 4.2 0 1 0 -8.4 0ZM812.15 257.13a4.2 4.2 0 1 0 8.4 0a4.2 4.2 0 1 0 -8.4 0ZM813.58 253.04a4.2 4.2 0 1 0 8.4 0a4.2 4.2 0 1 0 -8.4 0ZM814.99 254.77a4.2 4.2 0 1 0 8.4 0a4.2 4.2 0 1 0 -8.4 0ZM816.38 251.87a4.2 4.2 0 1 0 8.4 0a4.2 4.2 0 1 0 -8.4 0ZM817.74 253.37a4.2 4.2 0 1 0 8.4 0a4.2 4.2 0 1 0 -8.4 0ZM819.08 254.43a4.2 4.2 0 1 0 8.4 0a4.2 4.2 0 1 0 -8.4 0ZM820.4 248.98a4.2 4.2 0 1 0 8.4 0a4.2 4.2 0 1 0 -8.4 0ZM821.71 250.85a4.2 4.2 0 1 0 8.4 0a4.2 4.2 0 1 0 -8.4 0ZM822.99 250.39a4.2 4.2 0 1 0 8.4 0a4.2 4.2 0 1 0 -8.4 0ZM824.25 247.3a4.2 4.2 0 1 0 8.4 0a4.2 4.2 0 1 0 -8.4 0ZM825.5 247.21a4.2 4.2 0 1 0 8.4 0a4.2 4.2 0 1 0 -8.4 0ZM826.73 250.3a4.2 4.2 0 1 0 8.4 0a4.2 4.2 0 1 0 -8.4 0ZM827.94 249.63a4.2 4.2 0 1 0 8.4 0a4.2 4.2 0 1 0 -8.4 0ZM829.13 244.39a4.2 4.2 0 1 0 8.4 0a4.2 4.2 0 1 0 -8.4 0ZM830.31 246.96a4.2 4.2 0 1 0 8.4 0a4.2 4.2 0 1 0 -8.4 0ZM831.47 247.9a4.2 4.2 0 1 0 8.4 0a4.2 4.2 0 1 0 -8.4 0ZM832.62 243.85a4.2 4.2 0 1 0 8.4 0a4.2 4.2 0 1 0 -8.4 0ZM833.75 245.46a4.2 4.2 0 1 0 8.4 0a4.2 4.2 0 1 0 -8.4 0ZM834.87 242.18a4.2 4.2 0 1 0 8.4 0a4.2 4.2 0 1 0 -8.4 0ZM835.97 243.53a4.2 4.2 0 1 0 8.4 0a4.2 4.2 0 1 0 -8.4 0ZM837.06 244.82a4.2 4.2 0 1 0 8.4 0a4.2 4.2 0 1 0 -8.4 0ZM838.14 244.07a4.2 4.2 0 1 0 8.4 0a4.2 4.2 0 1 0 -8.4 0ZM839.2 244.71a4.2 4.2 0 1 0 8.4 0a4.2 4.2 0 1 0 -8.4 0ZM840.25 240.83a4.2 4.2 0 1 0 8.4 0a4.2 4.2 0 1 0 -8.4 0ZM841.29 241.88a4.2 4.2 0 1 0 8.4 0a4.2 4.2 0 1 0 -8.4 0ZM842.31 244.27a4.2 4.2 0 1 0 8.4 0a4.2 4.2 0 1 0 -8.4 0ZM843.33 242.51a4.2 4.2 0 1 0 8.4 0a4.2 4.2 0 1 0 -8.4 0ZM844.33 241.53a4.2 4.2 0 1 0 8.4 0a4.2 4.2 0 1 0 -8.4 0ZM845.32 240.98a4.2 4.2 0 1 0 8.4 0a4.2 4.2 0 1 0 -8.4 0ZM846.3 243.73a4.2 4.2 0 1 0 8.4 0a4.2 4.2 0 1 0 -8.4 0ZM847.26 241.31a4.2 4.2 0 1 0 8.4 0a4.2 4.2 0 1 0 -8.4 0ZM848.22 238.14a4.2 4.2 0 1 0 8.4 0a4.2 4.2 0 1 0 -8.4 0ZM849.17 241.92a4.2 4.2 0 1 0 8.4 0a4.2 4.2 0 1 0 -8.4 0ZM850.1 239.2a4.2 4.2 0 1 0 8.4 0a4.2 4.2 0 1 0 -8.4 0ZM851.03 239.47a4.2 4.2 0 1 0 8.4 0a4.2 4.2 0 1 0 -8.4 0ZM851.95 238.06a4.2 4.2 0 1 0 8.4 0a4.2 4.2 0 1 0 -8.4 0ZM852.85 239.01a4.2 4.2 0 1 0 8.4 0a4.2 4.2 0 1 0 -8.4 0ZM853.75 238.39a4.2 4.2 0 1 0 8.4 0a4.2 4.2 0 1 0 -8.4 0ZM854.64 237.16a4.2 4.2 0 1 0 8.4 0a4.2 4.2 0 1 0 -8.4 0ZM855.52 239.97a4.2 4.2 0 1 0 8.4 0a4.2 4.2 0 1 0 -8.4 0ZM856.39 237.24a4.2 4.2 0 1 0 8.4 0a4.2 4.2 0 1 0 -8.4 0ZM857.25 240.78a4.2 4.2 0 1 0 8.4 0a4.2 4.2 0 1 0 -8.4 0ZM858.1 236.83a4.2 4.2 0 1 0 8.4 0a4.2 4.2 0 1 0 -8.4 0ZM858.95 240.76a4.2 4.2 0 1 0 8.4 0a4.2 4.2 0 1 0 -8.4 0ZM859.78 240.9a4.2 4.2 0 1 0 8.4 0a4.2 4.2 0 1 0 -8.4 0ZM860.61 239.29a4.2 4.2 0 1 0 8.4 0a4.2 4.2 0 1 0 -8.4 0ZM861.43 240.39a4.2 4.2 0 1 0 8.4 0a4.2 4.2 0 1 0 -8.4 0ZM862.25 237.99a4.2 4.2 0 1 0 8.4 0a4.2 4.2 0 1 0 -8.4 0ZM863.05 240.54a4.2 4.2 0 1 0 8.4 0a4.2 4.2 0 1 0 -8.4 0ZM863.85 238.91a4.2 4.2 0 1 0 8.4 0a4.2 4.2 0 1 0 -8.4 0ZM864.64 237.9a4.2 4.2 0 1 0 8.4 0a4.2 4.2 0 1 0 -8.4 0ZM865.42 241.71a4.2 4.2 0 1 0 8.4 0a4.2 4.2 0 1 0 -8.4 0ZM866.2 238.78a4.2 4.2 0 1 0 8.4 0a4.2 4.2 0 1 0 -8.4 0ZM866.97 238.64a4.2 4.2 0 1 0 8.4 0a4.2 4.2 0 1 0 -8.4 0ZM867.73 241.17a4.2 4.2 0 1 0 8.4 0a4.2 4.2 0 1 0 -8.4 0ZM868.49 238.62a4.2 4.2 0 1 0 8.4 0a4.2 4.2 0 1 0 -8.4 0ZM869.24 240.17a4.2 4.2 0 1 0 8.4 0a4.2 4.2 0 1 0 -8.4 0ZM869.98 237.59a4.2 4.2 0 1 0 8.4 0a4.2 4.2 0 1 0 -8.4 0ZM870.72 241.09a4.2 4.2 0 1 0 8.4 0a4.2 4.2 0 1 0 -8.4 0ZM871.45 238.05a4.2 4.2 0 1 0 8.4 0a4.2 4.2 0 1 0 -8.4 0ZM872.18 236.96a4.2 4.2 0 1 0 8.4 0a4.2 4.2 0 1 0 -8.4 0ZM872.89 241.77a4.2 4.2 0 1 0 8.4 0a4.2 4.2 0 1 0 -8.4 0ZM873.61 237.6a4.2 4.2 0 1 0 8.4 0a4.2 4.2 0 1 0 -8.4 0ZM874.31 241.62a4.2 4.2 0 1 0 8.4 0a4.2 4.2 0 1 0 -8.4 0ZM875.02 241.83a4.2 4.2 0 1 0 8.4 0a4.2 4.2 0 1 0 -8.4 0ZM875.71 239.85a4.2 4.2 0 1 0 8.4 0a4.2 4.2 0 1 0 -8.4 0ZM876.4 236.76a4.2 4.2 0 1 0 8.4 0a4.2 4.2 0 1 0 -8.4 0ZM877.09 237.02a4.2 4.2 0 1 0 8.4 0a4.2 4.2 0 1 0 -8.4 0ZM877.76 237.86a4.2 4.2 0 1 0 8.4 0a4.2 4.2 0 1 0 -8.4 0ZM878.44 238.87a4.2 4.2 0 1 0 8.4 0a4.2 4.2 0 1 0 -8.4 0ZM879.11 240.09a4.2 4.2 0 1 0 8.4 0a4.2 4.2 0 1 0 -8.4 0ZM879.77 242.01a4.2 4.2 0 1 0 8.4 0a4.2 4.2 0 1 0 -8.4 0ZM880.43 238.9a4.2 4.2 0 1 0 8.4 0a4.2 4.2 0 1 0 -8.4 0ZM881.08 237.86a4.2 4.2 0 1 0 8.4 0a4.2 4.2 0 1 0 -8.4 0ZM881.73 240.12a4.2 4.2 0 1 0 8.4 0a4.2 4.2 0 1 0 -8.4 0ZM882.38 237.98a4.2 4.2 0 1 0 8.4 0a4.2 4.2 0 1 0 -8.4 0ZM883.01 237.78a4.2 4.2 0 1 0 8.4 0a4.2 4.2 0 1 0 -8.4 0ZM883.65 240.29a4.2 4.2 0 1 0 8.4 0a4.2 4.2 0 1 0 -8.4 0ZM884.28 241.09a4.2 4.2 0 1 0 8.4 0a4.2 4.2 0 1 0 -8.4 0ZM884.9 237.88a4.2 4.2 0 1 0 8.4 0a4.2 4.2 0 1 0 -8.4 0ZM885.53 239.95a4.2 4.2 0 1 0 8.4 0a4.2 4.2 0 1 0 -8.4 0ZM886.14 241.33a4.2 4.2 0 1 0 8.4 0a4.2 4.2 0 1 0 -8.4 0ZM886.75 241.71a4.2 4.2 0 1 0 8.4 0a4.2 4.2 0 1 0 -8.4 0ZM887.36 239.79a4.2 4.2 0 1 0 8.4 0a4.2 4.2 0 1 0 -8.4 0ZM887.96 242.48a4.2 4.2 0 1 0 8.4 0a4.2 4.2 0 1 0 -8.4 0ZM888.56 238.81a4.2 4.2 0 1 0 8.4 0a4.2 4.2 0 1 0 -8.4 0ZM889.16 241.71a4.2 4.2 0 1 0 8.4 0a4.2 4.2 0 1 0 -8.4 0ZM889.75 242.07a4.2 4.2 0 1 0 8.4 0a4.2 4.2 0 1 0 -8.4 0ZM890.34 242.69a4.2 4.2 0 1 0 8.4 0a4.2 4.2 0 1 0 -8.4 0ZM890.92 240.75a4.2 4.2 0 1 0 8.4 0a4.2 4.2 0 1 0 -8.4 0ZM891.5 238.76a4.2 4.2 0 1 0 8.4 0a4.2 4.2 0 1 0 -8.4 0ZM892.08 238.55a4.2 4.2 0 1 0 8.4 0a4.2 4.2 0 1 0 -8.4 0ZM892.65 241.11a4.2 4.2 0 1 0 8.4 0a4.2 4.2 0 1 0 -8.4 0ZM893.21 239.33a4.2 4.2 0 1 0 8.4 0a4.2 4.2 0 1 0 -8.4 0ZM893.78 241.76a4.2 4.2 0 1 0 8.4 0a4.2 4.2 0 1 0 -8.4 0ZM894.34 238.98a4.2 4.2 0 1 0 8.4 0a4.2 4.2 0 1 0 -8.4 0ZM894.9 242.66a4.2 4.2 0 1 0 8.4 0a4.2 4.2 0 1 0 -8.4 0ZM895.45 239.82a4.2 4.2 0 1 0 8.4 0a4.2 4.2 0 1 0 -8.4 0ZM896 238.79a4.2 4.2 0 1 0 8.4 0a4.2 4.2 0 1 0 -8.4 0ZM896.55 239.7a4.2 4.2 0 1 0 8.4 0a4.2 4.2 0 1 0 -8.4 0ZM897.09 241.21a4.2 4.2 0 1 0 8.4 0a4.2 4.2 0 1 0 -8.4 0ZM897.63 241.8a4.2 4.2 0 1 0 8.4 0a4.2 4.2 0 1 0 -8.4 0ZM898.16 240.97a4.2 4.2 0 1 0 8.4 0a4.2 4.2 0 1 0 -8.4 0ZM898.7 239.91a4.2 4.2 0 1 0 8.4 0a4.2 4.2 0 1 0 -8.4 0ZM899.23 241.57a4.2 4.2 0 1 0 8.4 0a4.2 4.2 0 1 0 -8.4 0ZM899.75 244.05a4.2 4.2 0 1 0 8.4 0a4.2 4.2 0 1 0 -8.4 0ZM900.28 241.96a4.2 4.2 0 1 0 8.4 0a4.2 4.2 0 1 0 -8.4 0ZM900.8 244.13a4.2 4.2 0 1 0 8.4 0a4.2 4.2 0 1 0 -8.4 0ZM901.31 239.44a4.2 4.2 0 1 0 8.4 0a4.2 4.2 0 1 0 -8.4 0ZM901.83 244.29a4.2 4.2 0 1 0 8.4 0a4.2 4.2 0 1 0 -8.4 0ZM902.34 243.53a4.2 4.2 0 1 0 8.4 0a4.2 4.2 0 1 0 -8.4 0ZM902.85 241.53a4.2 4.2 0 1 0 8.4 0a4.2 4.2 0 1 0 -8.4 0ZM903.35 241.21a4.2 4.2 0 1 0 8.4 0a4.2 4.2 0 1 0 -8.4 0ZM903.85 241.08a4.2 4.2 0 1 0 8.4 0a4.2 4.2 0 1 0 -8.4 0ZM904.35 242.81a4.2 4.2 0 1 0 8.4 0a4.2 4.2 0 1 0 -8.4 0ZM904.85 238.21a4.2 4.2 0 1 0 8.4 0a4.2 4.2 0 1 0 -8.4 0ZM905.34 241.01a4.2 4.2 0 1 0 8.4 0a4.2 4.2 0 1 0 -8.4 0ZM905.83 240.28a4.2 4.2 0 1 0 8.4 0a4.2 4.2 0 1 0 -8.4 0ZM906.32 238.82a4.2 4.2 0 1 0 8.4 0a4.2 4.2 0 1 0 -8.4 0ZM906.81 240.83a4.2 4.2 0 1 0 8.4 0a4.2 4.2 0 1 0 -8.4 0ZM907.29 240.61a4.2 4.2 0 1 0 8.4 0a4.2 4.2 0 1 0 -8.4 0ZM907.77 237.2a4.2 4.2 0 1 0 8.4 0a4.2 4.2 0 1 0 -8.4 0ZM908.25 240.1a4.2 4.2 0 1 0 8.4 0a4.2 4.2 0 1 0 -8.4 0ZM908.72 238.63a4.2 4.2 0 1 0 8.4 0a4.2 4.2 0 1 0 -8.4 0ZM909.19 238.62a4.2 4.2 0 1 0 8.4 0a4.2 4.2 0 1 0 -8.4 0ZM909.66 239.19a4.2 4.2 0 1 0 8.4 0a4.2 4.2 0 1 0 -8.4 0ZM910.13 235.96a4.2 4.2 0 1 0 8.4 0a4.2 4.2 0 1 0 -8.4 0ZM910.59 238.63a4.2 4.2 0 1 0 8.4 0a4.2 4.2 0 1 0 -8.4 0ZM911.05 237.24a4.2 4.2 0 1 0 8.4 0a4.2 4.2 0 1 0 -8.4 0ZM911.51 239.68a4.2 4.2 0 1 0 8.4 0a4.2 4.2 0 1 0 -8.4 0ZM911.97 236.12a4.2 4.2 0 1 0 8.4 0a4.2 4.2 0 1 0 -8.4 0ZM912.43 239.01a4.2 4.2 0 1 0 8.4 0a4.2 4.2 0 1 0 -8.4 0ZM912.88 238.34a4.2 4.2 0 1 0 8.4 0a4.2 4.2 0 1 0 -8.4 0ZM913.33 237.61a4.2 4.2 0 1 0 8.4 0a4.2 4.2 0 1 0 -8.4 0ZM913.77 238.73a4.2 4.2 0 1 0 8.4 0a4.2 4.2 0 1 0 -8.4 0ZM914.22 234.18a4.2 4.2 0 1 0 8.4 0a4.2 4.2 0 1 0 -8.4 0ZM914.66 236.91a4.2 4.2 0 1 0 8.4 0a4.2 4.2 0 1 0 -8.4 0ZM915.1 236.81a4.2 4.2 0 1 0 8.4 0a4.2 4.2 0 1 0 -8.4 0ZM915.54 236.97a4.2 4.2 0 1 0 8.4 0a4.2 4.2 0 1 0 -8.4 0ZM915.98 235.38a4.2 4.2 0 1 0 8.4 0a4.2 4.2 0 1 0 -8.4 0Z" fill="#a9a9a9"/>
<path d="M521.81 787.41 L556.93 689.48 L581.84 635.38 L601.16 597.97 L616.95 570.31 L630.3 548.86 L641.86 525.89 L652.06 510.17 L661.19 493.34 L669.44 480.58 L676.98 466.97 L683.91 455.57 L690.33 444.63 L696.3 432.43 L701.89 424.39 L707.14 414.65 L712.09 405.48 L716.77 397.25 L721.21 390.99 L725.44 382.51 L729.47 375.9 L733.32 368.74 L737 359.91 L740.54 355.94 L743.93 350.65 L747.2 344.68 L750.35 337.44 L753.39 329.4 L756.33 324.36 L759.16 320.26 L761.91 319.46 L764.58 312.13 L767.16 308.19 L769.67 306.66 L772.11 300.2 L774.49 297.81 L776.8 293.81 L779.05 288.58 L781.24 287.93 L783.38 286.08 L785.46 279.43 L787.5 277.26 L789.49 275.83 L791.44 271.52 L793.34 271.61 L795.2 271.02 L797.03 267.98 L798.81 265.17 L800.56 264.73 L802.28 259.2 L803.96 259.97 L805.61 257.6 L807.23 257.43 L808.82 253.57 L810.38 255.72 L811.91 250.92 L813.41 250.03 L814.9 252.13 L816.35 251.65 L817.78 247.81 L819.19 247 L820.58 245.43 L821.94 244.9 L823.28 246 L824.6 243.05 L825.91 242.09 L827.19 243.2 L828.45 241.05 L829.7 242.94 L830.93 243.21 L832.14 242.38 L833.33 240.23 L834.51 239.13 L835.67 239.29 L836.82 236.77 L837.95 240.17 L839.07 237.91 L840.17 237.57 L841.26 236.05 L842.34 237.7 L843.4 238.13 L844.45 236.87 L845.49 239.1 L846.51 237.82 L847.53 235.32 L848.53 236.55 L849.52 238.31 L850.5 236.03 L851.46 236.22 L852.42 233.17 L853.37 235.15 L854.3 234.77 L855.23 234.23 L856.15 234.1 L857.05 234.74 L857.95 234.5 L858.84 234.25 L859.72 232.56 L860.59 234 L861.45 236.74 L862.3 233.86 L863.15 231.88 L863.98 231.71 L864.81 234.48 L865.63 231.96 L866.45 232.18 L867.25 232.27 L868.05 234.06 L868.84 236.86 L869.62 234.22 L870.4 234.08 L871.17 233.97 L871.93 234.31 L872.69 234.02 L873.44 235.48 L874.18 236.37 L874.92 235.33 L875.65 233.9 L876.38 235.08 L877.09 236.43 L877.81 232.5 L878.51 232.93 L879.22 234.92 L879.91 235.27 L880.6 235.04 L881.29 234.76 L881.96 236.08 L882.64 234.33 L883.31 236.11 L883.97 236.99 L884.63 234.32 L885.28 236.59 L885.93 235.93 L886.58 236.89 L887.21 232.57 L887.85 237.15 L888.48 236.46 L889.1 237.54 L889.73 237.7 L890.34 234.15 L890.95 236.22 L891.56 233.53 L892.16 235.96 L892.76 237.71 L893.36 233.99 L893.95 234.87 L894.54 233.53 L895.12 234.19 L895.7 234.32 L896.28 233.8 L896.85 238.56 L897.41 238.04 L897.98 235.9 L898.54 237.41 L899.1 237.22 L899.65 236.38 L900.2 235.92 L900.75 237.23 L901.29 236.73 L901.83 235.28 L902.36 235.85 L902.9 237.27 L903.43 237.33 L903.95 235.21 L904.48 237.35 L905 238.79 L905.51 238.82 L906.03 237.59 L906.54 234.44 L907.05 236.15 L907.55 234.29 L908.05 233.99 L908.55 234.91 L909.05 235.84 L909.54 237.29 L910.03 236.49 L910.52 234.58 L911.01 236.6 L911.49 235.51 L911.97 235.39 L912.45 234.01 L912.92 234.82 L913.39 234.19 L913.86 236.07 L914.33 234.69 L914.79 234.39 L915.25 234.44 L915.71 234.34 L916.17 235.32 L916.63 235.37 L917.08 235.68 L917.53 233.51 L917.97 235.42 L918.42 236.21 L918.86 236.24 L919.3 234.72 L919.74 231.21 L920.18 235.17" stroke="#808080" stroke-width="1.9" fill="none" stroke-linejoin="round"/>
<path d="M521.81 782.21L526.32 790.01L517.31 790.01ZM556.93 684.28L561.43 692.08L552.42 692.08ZM581.84 630.18L586.34 637.98L577.33 637.98ZM601.16 592.77L605.67 600.57L596.66 600.57ZM616.95 565.11L621.45 572.91L612.45 572.91ZM630.3 543.66L634.8 551.46L625.8 551.46ZM641.86 520.69L646.37 528.49L637.36 528.49ZM652.06 504.97L656.57 512.77L647.56 512.77ZM661.19 488.14L665.69 495.94L656.68 495.94ZM669.44 475.38L673.94 483.18L664.94 483.18ZM676.98 461.77L681.48 469.57L672.47 469.57ZM683.91 450.37L688.41 458.17L679.4 458.17ZM690.33 439.43L694.83 447.23L685.82 447.23ZM696.3 427.23L700.8 435.03L691.8 435.03ZM701.89 419.19L706.39 426.99L697.39 426.99ZM707.14 409.45L711.64 417.25L702.64 417.25ZM712.09 400.28L716.59 408.08L707.59 408.08ZM716.77 392.05L721.27 399.85L712.27 399.85ZM721.21 385.79L725.72 393.59L716.71 393.59ZM725.44 377.31L729.94 385.11L720.93 385.11ZM729.47 370.7L733.97 378.5L724.96 378.5ZM733.32 363.54L737.82 371.34L728.81 371.34ZM737 354.71L741.5 362.51L732.5 362.51ZM740.54 350.74L745.04 358.54L736.03 358.54ZM743.93 345.45L748.44 353.25L739.43 353.25ZM747.2 339.48L751.7 347.28L742.7 347.28ZM750.35 332.24L754.85 340.04L745.85 340.04ZM753.39 324.2L757.89 332L748.89 332ZM756.33 319.16L760.83 326.96L751.82 326.96ZM759.16 315.06L763.67 322.86L754.66 322.86ZM761.91 314.26L766.42 322.06L757.41 322.06ZM764.58 306.93L769.08 314.73L760.08 314.73ZM767.16 302.99L771.67 310.79L762.66 310.79ZM769.67 301.46L774.18 309.26L765.17 309.26ZM772.11 295L776.62 302.8L767.61 302.8ZM774.49 292.61L778.99 300.41L769.98 300.41ZM776.8 288.61L781.3 296.41L772.29 296.41ZM779.05 283.38L783.55 291.18L774.54 291.18ZM781.24 282.73L785.74 290.53L776.73 290.53ZM783.38 280.88L787.88 288.68L778.87 288.68ZM785.46 274.23L789.97 282.03L780.96 282.03ZM787.5 272.06L792 279.86L783 279.86ZM789.49 270.63L793.99 278.43L784.99 278.43ZM791.44 266.32L795.94 274.12L786.93 274.12ZM793.34 266.41L797.84 274.21L788.84 274.21ZM795.2 265.82L799.71 273.62L790.7 273.62ZM797.03 262.78L801.53 270.58L792.52 270.58ZM798.81 259.97L803.32 267.77L794.31 267.77ZM800.56 259.53L805.07 267.33L796.06 267.33ZM802.28 254L806.78 261.8L797.77 261.8ZM803.96 254.77L808.46 262.57L799.46 262.57ZM805.61 252.4L810.11 260.2L801.1 260.2ZM807.23 252.23L811.73 260.03L802.72 260.03ZM808.82 248.37L813.32 256.17L804.31 256.17ZM810.38 250.52L814.88 258.32L805.87 258.32ZM811.91 245.72L816.41 253.52L807.41 253.52ZM813.41 244.83L817.92 252.63L808.91 252.63ZM814.9 246.93L819.4 254.73L810.39 254.73ZM816.35 246.45L820.85 254.25L811.85 254.25ZM817.78 242.61L822.29 250.41L813.28 250.41ZM819.19 241.8L823.69 249.6L814.69 249.6ZM820.58 240.23L825.08 248.03L816.07 248.03ZM821.94 239.7L826.44 247.5L817.44 247.5ZM823.28 240.8L827.79 248.6L818.78 248.6ZM824.6 237.85L829.11 245.65L820.1 245.65ZM825.91 236.89L830.41 244.69L821.4 244.69ZM827.19 238L831.69 245.8L822.69 245.8ZM828.45 235.85L832.96 243.65L823.95 243.65ZM829.7 237.74L834.2 245.54L825.2 245.54ZM830.93 238.01L835.43 245.81L826.42 245.81ZM832.14 237.18L836.64 244.98L827.64 244.98ZM833.33 235.03L837.84 242.83L828.83 242.83ZM834.51 233.93L839.02 241.73L830.01 241.73ZM835.67 234.09L840.18 241.89L831.17 241.89ZM836.82 231.57L841.32 239.37L832.32 239.37ZM837.95 234.97L842.46 242.77L833.45 242.77ZM839.07 232.71L843.57 240.51L834.57 240.51ZM840.17 232.37L844.68 240.17L835.67 240.17ZM841.26 230.85L845.77 238.65L836.76 238.65ZM842.34 232.5L846.84 240.3L837.84 240.3ZM843.4 232.93L847.9 240.73L838.9 240.73ZM844.45 231.67L848.95 239.47L839.95 239.47ZM845.49 233.9L849.99 241.7L840.99 241.7ZM846.51 232.62L851.02 240.42L842.01 240.42ZM847.53 230.12L852.03 237.92L843.02 237.92ZM848.53 231.35L853.03 239.15L844.02 239.15ZM849.52 233.11L854.02 240.91L845.01 240.91ZM850.5 230.83L855 238.63L845.99 238.63ZM851.46 231.02L855.97 238.82L846.96 238.82ZM852.42 227.97L856.92 235.77L847.92 235.77ZM853.37 229.95L857.87 237.75L848.86 237.75ZM854.3 229.57L858.81 237.37L849.8 237.37ZM855.23 229.03L859.73 236.83L850.73 236.83ZM856.15 228.9L860.65 236.7L851.64 236.7ZM857.05 229.54L861.56 237.34L852.55 237.34ZM857.95 229.3L862.45 237.1L853.45 237.1ZM858.84 229.05L863.34 236.85L854.33 236.85ZM859.72 227.36L864.22 235.16L855.21 235.16ZM860.59 228.8L865.09 236.6L856.08 236.6ZM861.45 231.54L865.95 239.34L856.95 239.34ZM862.3 228.66L866.81 236.46L857.8 236.46ZM863.15 226.68L867.65 234.48L858.64 234.48ZM863.98 226.51L868.49 234.31L859.48 234.31ZM864.81 229.28L869.32 237.08L860.31 237.08ZM865.63 226.76L870.14 234.56L861.13 234.56ZM866.45 226.98L870.95 234.78L861.94 234.78ZM867.25 227.07L871.76 234.87L862.75 234.87ZM868.05 228.86L872.55 236.66L863.55 236.66ZM868.84 231.66L873.34 239.46L864.34 239.46ZM869.62 229.02L874.13 236.82L865.12 236.82ZM870.4 228.88L874.9 236.68L865.9 236.68ZM871.17 228.77L875.67 236.57L866.67 236.57ZM871.93 229.11L876.44 236.91L867.43 236.91ZM872.69 228.82L877.19 236.62L868.19 236.62ZM873.44 230.28L877.94 238.08L868.94 238.08ZM874.18 231.17L878.69 238.97L869.68 238.97ZM874.92 230.13L879.42 237.93L870.42 237.93ZM875.65 228.7L880.15 236.5L871.15 236.5ZM876.38 229.88L880.88 237.68L871.87 237.68ZM877.09 231.23L881.6 239.03L872.59 239.03ZM877.81 227.3L882.31 235.1L873.3 235.1ZM878.51 227.73L883.02 235.53L874.01 235.53ZM879.22 229.72L883.72 237.52L874.71 237.52ZM879.91 230.07L884.41 237.87L875.41 237.87ZM880.6 229.84L885.1 237.64L876.1 237.64ZM881.29 229.56L885.79 237.36L876.78 237.36ZM881.96 230.88L886.47 238.68L877.46 238.68ZM882.64 229.13L887.14 236.93L878.14 236.93ZM883.31 230.91L887.81 238.71L878.8 238.71ZM883.97 231.79L888.47 239.59L879.47 239.59ZM884.63 229.12L889.13 236.92L880.13 236.92ZM885.28 231.39L889.79 239.19L880.78 239.19ZM885.93 230.73L890.44 238.53L881.43 238.53ZM886.58 231.69L891.08 239.49L882.07 239.49ZM887.21 227.37L891.72 235.17L882.71 235.17ZM887.85 231.95L892.35 239.75L883.35 239.75ZM888.48 231.26L892.98 239.06L883.98 239.06ZM889.1 232.34L893.61 240.14L884.6 240.14ZM889.73 232.5L894.23 240.3L885.22 240.3ZM890.34 228.95L894.84 236.75L885.84 236.75ZM890.95 231.02L895.46 238.82L886.45 238.82ZM891.56 228.33L896.06 236.13L887.06 236.13ZM892.16 230.76L896.67 238.56L887.66 238.56ZM892.76 232.51L897.27 240.31L888.26 240.31ZM893.36 228.79L897.86 236.59L888.86 236.59ZM893.95 229.67L898.45 237.47L889.45 237.47ZM894.54 228.33L899.04 236.13L890.03 236.13ZM895.12 228.99L899.62 236.79L890.62 236.79ZM895.7 229.12L900.2 236.92L891.2 236.92ZM896.28 228.6L900.78 236.4L891.77 236.4ZM896.85 233.36L901.35 241.16L892.34 241.16ZM897.41 232.84L901.92 240.64L892.91 240.64ZM897.98 230.7L902.48 238.5L893.48 238.5ZM898.54 232.21L903.04 240.01L894.04 240.01ZM899.1 232.02L903.6 239.82L894.59 239.82ZM899.65 231.18L904.15 238.98L895.15 238.98ZM900.2 230.72L904.7 238.52L895.7 238.52ZM900.75 232.03L905.25 239.83L896.24 239.83ZM901.29 231.53L905.79 239.33L896.79 239.33ZM901.83 230.08L906.33 237.88L897.33 237.88ZM902.36 230.65L906.87 238.45L897.86 238.45ZM902.9 232.07L907.4 239.87L898.39 239.87ZM903.43 232.13L907.93 239.93L898.92 239.93ZM903.95 230.01L908.46 237.81L899.45 237.81ZM904.48 232.15L908.98 239.95L899.97 239.95ZM905 233.59L909.5 241.39L900.49 241.39ZM905.51 233.62L910.02 241.42L901.01 241.42ZM906.03 232.39L910.53 240.19L901.52 240.19ZM906.54 229.24L911.04 237.04L902.04 237.04ZM907.05 230.95L911.55 238.75L902.54 238.75ZM907.55 229.09L912.05 236.89L903.05 236.89ZM908.05 228.79L912.56 236.59L903.55 236.59ZM908.55 229.71L913.06 237.51L904.05 237.51ZM909.05 230.64L913.55 238.44L904.55 238.44ZM909.54 232.09L914.05 239.89L905.04 239.89ZM910.03 231.29L914.54 239.09L905.53 239.09ZM910.52 229.38L915.02 237.18L906.02 237.18ZM911.01 231.4L915.51 239.2L906.5 239.2ZM911.49 230.31L915.99 238.11L906.99 238.11ZM911.97 230.19L916.47 237.99L907.47 237.99ZM912.45 228.81L916.95 236.61L907.94 236.61ZM912.92 229.62L917.42 237.42L908.42 237.42ZM913.39 228.99L917.9 236.79L908.89 236.79ZM913.86 230.87L918.36 238.67L909.36 238.67ZM914.33 229.49L918.83 237.29L909.82 237.29ZM914.79 229.19L919.3 236.99L910.29 236.99ZM915.25 229.24L919.76 237.04L910.75 237.04ZM915.71 229.14L920.22 236.94L911.21 236.94ZM916.17 230.12L920.67 237.92L911.67 237.92ZM916.63 230.17L921.13 237.97L912.12 237.97ZM917.08 230.48L921.58 238.28L912.57 238.28ZM917.53 228.31L922.03 236.11L913.02 236.11ZM917.97 230.22L922.48 238.02L913.47 238.02ZM918.42 231.01L922.92 238.81L913.92 238.81ZM918.86 231.04L923.37 238.84L914.36 238.84ZM919.3 229.52L923.81 237.32L914.8 237.32ZM919.74 226.01L924.25 233.81L915.24 233.81ZM920.18 229.97L924.68 237.77L915.68 237.77Z" fill="#808080"/>
<path d="M382.44 639.3 L442.46 623.1 L477.58 581.03 L502.49 557.3 L521.81 531.49 L537.6 508.63 L550.95 491.82 L562.51 473.55 L572.71 455.87 L581.84 439.84 L590.09 427.8 L597.63 413.14 L604.56 402.23 L610.98 387.83 L616.95 375.81 L622.54 363.6 L627.79 354.45 L632.74 349.04 L637.42 342.07 L641.86 333.5 L646.09 325.63 L650.12 316.95 L653.97 309.4 L657.65 305.22 L661.19 298.49 L664.58 293.78 L667.85 289.03 L671 283.35 L674.04 278.72 L676.98 272.79 L679.82 268.54 L682.56 261.93 L685.23 257.54 L687.81 252.81 L690.33 249.32 L692.76 244.58 L695.14 240.03 L697.45 239.01 L699.7 235.35 L701.89 231.03 L704.03 226.87 L706.11 221.74 L708.15 217.91 L710.14 214.75 L712.09 210.55 L713.99 210.08 L715.85 206.25 L717.68 205.73 L719.46 201.63 L721.21 201.7 L722.93 199.08 L724.61 193.56 L726.26 192.31 L727.88 193.06 L729.47 189.46 L731.03 190.09 L732.56 186.37 L734.07 183.7 L735.55 184.59 L737 183.87 L738.43 180.53 L739.84 178.53 L741.23 178.25 L742.59 179.55 L743.93 177.5 L745.26 173.75 L746.56 173.3 L747.84 172.06 L749.1 171.25 L750.35 173.57 L751.58 170.46 L752.79 171.37 L753.98 170.31 L755.16 168.68 L756.33 170.25 L757.47 167.26 L758.6 168.73 L759.72 166.05 L760.82 166.71 L761.91 165.32 L762.99 165 L764.05 167.26 L765.1 166.08 L766.14 163.58 L767.16 165.41 L768.18 162.23 L769.18 162.48 L770.17 163.84 L771.15 162.52 L772.11 159.89 L773.07 162.98 L774.02 159.42 L774.95 159.15 L775.88 161.05 L776.8 159.22 L777.7 159.03 L778.6 158.09 L779.49 158.1 L780.37 160.02 L781.24 158.6 L782.1 159.98 L782.95 159.01 L783.8 159.29 L784.63 161.26 L785.46 159.31 L786.28 159.62 L787.1 160.74 L787.9 157.96 L788.7 157.79 L789.49 160.76 L790.28 160.35 L791.05 158.03 L791.82 157.8 L792.58 160.12 L793.34 161.04 L794.09 158.19 L794.83 161.33 L795.57 161.17 L796.3 160.18 L797.03 159.57 L797.75 158.41 L798.46 158.27 L799.17 162.08 L799.87 159.3 L800.56 161.27 L801.25 159.59 L801.94 161.97 L802.62 161.17 L803.29 160.07 L803.96 159.71 L804.62 162 L805.28 159.5 L805.93 160.24 L806.58 161.67 L807.23 162.96 L807.87 162.14 L808.5 160.94 L809.13 163.63 L809.76 160.91 L810.38 160.29 L810.99 161.43 L811.6 162.27 L812.21 160.86 L812.82 161.46 L813.41 162.35 L814.01 163.3 L814.6 161.66 L815.19 162.71 L815.77 164.95 L816.35 165.43 L816.93 164.26 L817.5 164.52 L818.07 164.04 L818.63 162.1 L819.19 161.53 L819.75 161.31 L820.3 164.72 L820.85 163.73 L821.4 164.63 L821.94 160.71 L822.48 163.03 L823.02 162.26 L823.55 163.11 L824.08 161.31 L824.6 163.89 L825.13 160.05 L825.65 161.79 L826.16 162.41 L826.68 162.92 L827.19 162.13 L827.7 161.85 L828.2 162.07 L828.7 162.42 L829.2 160.03 L829.7 161.23 L830.19 161.95 L830.68 161.7 L831.17 159.76 L831.66 161.2 L832.14 161.43 L832.62 160.21 L833.1 160.36 L833.57 159.33 L834.04 160.08 L834.51 160.13 L834.98 157.96 L835.44 160.14 L835.91 161.5 L836.36 160.99 L836.82 160.33 L837.28 158.92 L837.73 160.25 L838.18 159.58 L838.63 158.96 L839.07 160.5 L839.51 157.43 L839.95 160.04 L840.39 157.11 L840.83 159.34 L841.26 158.81 L841.7 157.76 L842.13 159.58" stroke="#a9a9a9" stroke-width="1.9" fill="none" stroke-linejoin="round"/>
<path d="M378.24 639.3a4.2 4.2 0 1 0 8.4 0a4.2 4.2 0 1 0 -8.4 0ZM438.26 623.1a4.2 4.2 0 1 0 8.4 0a4.2 4.2 0 1 0 -8.4 0ZM473.38 581.03a4.2 4.2 0 1 0 8.4 0a4.2 4.2 0 1 0 -8.4 0ZM498.29 557.3a4.2 4.2 0 1 0 8.4 0a4.2 4.2 0 1 0 -8.4 0ZM517.61 531.49a4.2 4.2 0 1 0 8.4 0a4.2 4.2 0 1 0 -8.4 0ZM533.4 508.63a4.2 4.2 0 1 0 8.4 0a4.2 4.2 0 1 0 -8.4 0ZM546.75 491.82a4.2 4.2 0 1 0 8.4 0a4.2 4.2 0 1 0 -8.4 0ZM558.31 473.55a4.2 4.2 0 1 0 8.4 0a4.2 4.2 0 1 0 -8.4 0ZM568.51 455.87a4.2 4.2 0 1 0 8.4 0a4.2 4.2 0 1 0 -8.4 0ZM577.64 439.84a4.2 4.2 0 1 0 8.4 0a4.2 4.2 0 1 0 -8.4 0ZM585.89 427.8a4.2 4.2 0 1 0 8.4 0a4.2 4.2 0 1 0 -8.4 0ZM593.43 413.14a4.2 4.2 0 1 0 8.4 0a4.2 4.2 0 1 0 -8.4 0ZM600.36 402.23a4.2 4.2 0 1 0 8.4 0a4.2 4.2 0 1 0 -8.4 0ZM606.78 387.83a4.2 4.2 0 1 0 8.4 0a4.2 4.2 0 1 0 -8.4 0ZM612.75 375.81a4.2 4.2 0 1 0 8.4 0a4.2 4.2 0 1 0 -8.4 0ZM618.34 363.6a4.2 4.2 0 1 0 8.4 0a4.2 4.2 0 1 0 -8.4 0ZM623.59 354.45a4.2 4.2 0 1 0 8.4 0a4.2 4.2 0 1 0 -8.4 0ZM628.54 349.04a4.2 4.2 0 1 0 8.4 0a4.2 4.2 0 1 0 -8.4 0ZM633.22 342.07a4.2 4.2 0 1 0 8.4 0a4.2 4.2 0 1 0 -8.4 0ZM637.66 333.5a4.2 4.2 0 1 0 8.4 0a4.2 4.2 0 1 0 -8.4 0ZM641.89 325.63a4.2 4.2 0 1 0 8.4 0a4.2 4.2 0 1 0 -8.4 0ZM645.92 316.95a4.2 4.2 0 1 0 8.4 0a4.2 4.2 0 1 0 -8.4 0ZM649.77 309.4a4.2 4.2 0 1 0 8.4 0a4.2 4.2 0 1 0 -8.4 0ZM653.45 305.22a4.2 4.2 0 1 0 8.4 0a4.2 4.2 0 1 0 -8.4 0ZM656.99 298.49a4.2 4.2 0 1 0 8.4 0a4.2 4.2 0 1 0 -8.4 0ZM660.38 293.78a4.2 4.2 0 1 0 8.4 0a4.2 4.2 0 1 0 -8.4 0ZM663.65 289.03a4.2 4.2 0 1 0 8.4 0a4.2 4.2 0 1 0 -8.4 0ZM666.8 283.35a4.2 4.2 0 1 0 8.4 0a4.2 4.2 0 1 0 -8.4 0ZM669.84 278.72a4.2 4.2 0 1 0 8.4 0a4.2 4.2 0 1 0 -8.4 0ZM672.78 272.79a4.2 4.2 0 1 0 8.4 0a4.2 4.2 0 1 0 -8.4 0ZM675.62 268.54a4.2 4.2 0 1 0 8.4 0a4.2 4.2 0 1 0 -8.4 0ZM678.36 261.93a4.2 4.2 0 1 0 8.4 0a4.2 4.2 0 1 0 -8.4 0ZM681.03 257.54a4.2 4.2 0 1 0 8.4 0a4.2 4.2 0 1 0 -8.4 0ZM683.61 252.81a4.2 4.2 0 1 0 8.4 0a4.2 4.2 0 1 0 -8.4 0ZM686.13 249.32a4.2 4.2 0 1 0 8.4 0a4.2 4.2 0 1 0 -8.4 0ZM688.56 244.58a4.2 4.2 0 1 0 8.4 0a4.2 4.2 0 1 0 -8.4 0ZM690.94 240.03a4.2 4.2 0 1 0 8.4 0a4.2 4.2 0 1 0 -8.4 0ZM693.25 239.01a4.2 4.2 0 1 0 8.4 0a4.2 4.2 0 1 0 -8.4 0ZM695.5 235.35a4.2 4.2 0 1 0 8.4 0a4.2 4.2 0 1 0 -8.4 0ZM697.69 231.03a4.2 4.2 0 1 0 8.4 0a4.2 4.2 0 1 0 -8.4 0ZM699.83 226.87a4.2 4.2 0 1 0 8.4 0a4.2 4.2 0 1 0 -8.4 0ZM701.91 221.74a4.2 4.2 0 1 0 8.4 0a4.2 4.2 0 1 0 -8.4 0ZM703.95 217.91a4.2 4.2 0 1 0 8.4 0a4.2 4.2 0 1 0 -8.4 0ZM705.94 214.75a4.2 4.2 0 1 0 8.4 0a4.2 4.2 0 1 0 -8.4 0ZM707.89 210.55a4.2 4.2 0 1 0 8.4 0a4.2 4.2 0 1 0 -8.4 0ZM709.79 210.08a4.2 4.2 0 1 0 8.4 0a4.2 4.2 0 1 0 -8.4 0ZM711.65 206.25a4.2 4.2 0 1 0 8.4 0a4.2 4.2 0 1 0 -8.4 0ZM713.48 205.73a4.2 4.2 0 1 0 8.4 0a4.2 4.2 0 1 0 -8.4 0ZM715.26 201.63a4.2 4.2 0 1 0 8.4 0a4.2 4.2 0 1 0 -8.4 0ZM717.01 201.7a4.2 4.2 0 1 0 8.4 0a4.2 4.2 0 1 0 -8.4 0ZM718.73 199.08a4.2 4.2 0 1 0 8.4 0a4.2 4.2 0 1 0 -8.4 0ZM720.41 193.56a4.2 4.2 0 1 0 8.4 0a4.2 4.2 0 1 0 -8.4 0ZM722.06 192.31a4.2 4.2 0 1 0 8.4 0a4.2 4.2 0 1 0 -8.4 0ZM723.68 193.06a4.2 4.2 0 1 0 8.4 0a4.2 4.2 0 1 0 -8.4 0ZM725.27 189.46a4.2 4.2 0 1 0 8.4 0a4.2 4.2 0 1 0 -8.4 0ZM726.83 190.09a4.2 4.2 0 1 0 8.4 0a4.2 4.2 0 1 0 -8.4 0ZM728.36 186.37a4.2 4.2 0 1 0 8.4 0a4.2 4.2 0 1 0 -8.4 0ZM729.87 183.7a4.2 4.2 0 1 0 8.4 0a4.2 4.2 0 1 0 -8.4 0ZM731.35 184.59a4.2 4.2 0 1 0 8.4 0a4.2 4.2 0 1 0 -8.4 0ZM732.8 183.87a4.2 4.2 0 1 0 8.4 0a4.2 4.2 0 1 0 -8.4 0ZM734.23 180.53a4.2 4.2 0 1 0 8.4 0a4.2 4.2 0 1 0 -8.4 0ZM735.64 178.53a4.2 4.2 0 1 0 8.4 0a4.2 4.2 0 1 0 -8.4 0ZM737.03 178.25a4.2 4.2 0 1 0 8.4 0a4.2 4.2 0 1 0 -8.4 0ZM738.39 179.55a4.2 4.2 0 1 0 8.4 0a4.2 4.2 0 1 0 -8.4 0ZM739.73 177.5a4.2 4.2 0 1 0 8.4 0a4.2 4.2 0 1 0 -8.4 0ZM741.06 173.75a4.2 4.2 0 1 0 8.4 0a4.2 4.2 0 1 0 -8.4 0ZM742.36 173.3a4.2 4.2 0 1 0 8.4 0a4.2 4.2 0 1 0 -8.4 0ZM743.64 172.06a4.2 4.2 0 1 0 8.4 0a4.2 4.2 0 1 0 -8.4 0ZM744.9 171.25a4.2 4.2 0 1 0 8.4 0a4.2 4.2 0 1 0 -8.4 0ZM746.15 173.57a4.2 4.2 0 1 0 8.4 0a4.2 4.2 0 1 0 -8.4 0ZM747.38 170.46a4.2 4.2 0 1 0 8.4 0a4.2 4.2 0 1 0 -8.4 0ZM748.59 171.37a4.2 4.2 0 1 0 8.4 0a4.2 4.2 0 1 0 -8.4 0ZM749.78 170.31a4.2 4.2 0 1 0 8.4 0a4.2 4.2 0 1 0 -8.4 0ZM750.96 168.68a4.2 4.2 0 1 0 8.4 0a4.2 4.2 0 1 0 -8.4 0ZM752.13 170.25a4.2 4.2 0 1 0 8.4 0a4.2 4.2 0 1 0 -8.4 0ZM753.27 167.26a4.2 4.2 0 1 0 8.4 0a4.2 4.2 0 1 0 -8.4 0ZM754.4 168.73a4.2 4.2 0 1 0 8.4 0a4.2 4.2 0 1 0 -8.4 0ZM755.52 166.05a4.2 4.2 0 1 0 8.4 0a4.2 4.2 0 1 0 -8.4 0ZM756.62 166.71a4.2 4.2 0 1 0 8.4 0a4.2 4.2 0 1 0 -8.4 0ZM757.71 165.32a4.2 4.2 0 1 0 8.4 0a4.2 4.2 0 1 0 -8.4 0ZM758.79 165a4.2 4.2 0 1 0 8.4 0a4.2 4.2 0 1 0 -8.4 0ZM759.85 167.26a4.2 4.2 0 1 0 8.4 0a4.2 4.2 0 1 0 -8.4 0ZM760.9 166.08a4.2 4.2 0 1 0 8.4 0a4.2 4.2 0 1 0 -8.4 0ZM761.94 163.58a4.2 4.2 0 1 0 8.4 0a4.2 4.2 0 1 0 -8.4 0ZM762.96 165.41a4.2 4.2 0 1 0 8.4 0a4.2 4.2 0 1 0 -8.4 0ZM763.98 162.23a4.2 4.2 0 1 0 8.4 0a4.2 4.2 0 1 0 -8.4 0ZM764.98 162.48a4.2 4.2 0 1 0 8.4 0a4.2 4.2 0 1 0 -8.4 0ZM765.97 163.84a4.2 4.2 0 1 0 8.4 0a4.2 4.2 0 1 0 -8.4 0ZM766.95 162.52a4.2 4.2 0 1 0 8.4 0a4.2 4.2 0 1 0 -8.4 0ZM767.91 159.89a4.2 4.2 0 1 0 8.4 0a4.2 4.2 0 1 0 -8.4 0ZM768.87 162.98a4.2 4.2 0 1 0 8.4 0a4.2 4.2 0 1 0 -8.4 0ZM769.82 159.42a4.2 4.2 0 1 0 8.4 0a4.2 4.2 0 1 0 -8.4 0ZM770.75 159.15a4.2 4.2 0 1 0 8.4 0a4.2 4.2 0 1 0 -8.4 0ZM771.68 161.05a4.2 4.2 0 1 0 8.4 0a4.2 4.2 0 1 0 -8.4 0ZM772.6 159.22a4.2 4.2 0 1 0 8.4 0a4.2 4.2 0 1 0 -8.4 0ZM773.5 159.03a4.2 4.2 0 1 0 8.4 0a4.2 4.2 0 1 0 -8.4 0ZM774.4 158.09a4.2 4.2 0 1 0 8.4 0a4.2 4.2 0 1 0 -8.4 0ZM775.29 158.1a4.2 4.2 0 1 0 8.4 0a4.2 4.2 0 1 0 -8.4 0ZM776.17 160.02a4.2 4.2 0 1 0 8.4 0a4.2 4.2 0 1 0 -8.4 0ZM777.04 158.6a4.2 4.2 0 1 0 8.4 0a4.2 4.2 0 1 0 -8.4 0ZM777.9 159.98a4.2 4.2 0 1 0 8.4 0a4.2 4.2 0 1 0 -8.4 0ZM778.75 159.01a4.2 4.2 0 1 0 8.4 0a4.2 4.2 0 1 0 -8.4 0ZM779.6 159.29a4.2 4.2 0 1 0 8.4 0a4.2 4.2 0 1 0 -8.4 0ZM780.43 161.26a4.2 4.2 0 1 0 8.4 0a4.2 4.2 0 1 0 -8.4 0ZM781.26 159.31a4.2 4.2 0 1 0 8.4 0a4.2 4.2 0 1 0 -8.4 0ZM782.08 159.62a4.2 4.2 0 1 0 8.4 0a4.2 4.2 0 1 0 -8.4 0ZM782.9 160.74a4.2 4.2 0 1 0 8.4 0a4.2 4.2 0 1 0 -8.4 0ZM783.7 157.96a4.2 4.2 0 1 0 8.4 0a4.2 4.2 0 1 0 -8.4 0ZM784.5 157.79a4.2 4.2 0 1 0 8.4 0a4.2 4.2 0 1 0 -8.4 0ZM785.29 160.76a4.2 4.2 0 1 0 8.4 0a4.2 4.2 0 1 0 -8.4 0ZM786.08 160.35a4.2 4.2 0 1 0 8.4 0a4.2 4.2 0 1 0 -8.4 0ZM786.85 158.03a4.2 4.2 0 1 0 8.4 0a4.2 4.2 0 1 0 -8.4 0ZM787.62 157.8a4.2 4.2 0 1 0 8.4 0a4.2 4.2 0 1 0 -8.4 0ZM788.38 160.12a4.2 4.2 0 1 0 8.4 0a4.2 4.2 0 1 0 -8.4 0ZM789.14 161.04a4.2 4.2 0 1 0 8.4 0a4.2 4.2 0 1 0 -8.4 0ZM789.89 158.19a4.2 4.2 0 1 0 8.4 0a4.2 4.2 0 1 0 -8.4 0ZM790.63 161.33a4.2 4.2 0 1 0 8.4 0a4.2 4.2 0 1 0 -8.4 0ZM791.37 161.17a4.2 4.2 0 1 0 8.4 0a4.2 4.2 0 1 0 -8.4 0ZM792.1 160.18a4.2 4.2 0 1 0 8.4 0a4.2 4.2 0 1 0 -8.4 0ZM792.83 159.57a4.2 4.2 0 1 0 8.4 0a4.2 4.2 0 1 0 -8.4 0ZM793.55 158.41a4.2 4.2 0 1 0 8.4 0a4.2 4.2 0 1 0 -8.4 0ZM794.26 158.27a4.2 4.2 0 1 0 8.4 0a4.2 4.2 0 1 0 -8.4 0ZM794.97 162.08a4.2 4.2 0 1 0 8.4 0a4.2 4.2 0 1 0 -8.4 0ZM795.67 159.3a4.2 4.2 0 1 0 8.4 0a4.2 4.2 0 1 0 -8.4 0ZM796.36 161.27a4.2 4.2 0 1 0 8.4 0a4.2 4.2 0 1 0 -8.4 0ZM797.05 159.59a4.2 4.2 0 1 0 8.4 0a4.2 4.2 0 1 0 -8.4 0ZM797.74 161.97a4.2 4.2 0 1 0 8.4 0a4.2 4.2 0 1 0 -8.4 0ZM798.42 161.17a4.2 4.2 0 1 0 8.4 0a4.2 4.2 0 1 0 -8.4 0ZM799.09 160.07a4.2 4.2 0 1 0 8.4 0a4.2 4.2 0 1 0 -8.4 0ZM799.76 159.71a4.2 4.2 0 1 0 8.4 0a4.2 4.2 0 1 0 -8.4 0ZM800.42 162a4.2 4.2 0 1 0 8.4 0a4.2 4.2 0 1 0 -8.4 0ZM801.08 159.5a4.2 4.2 0 1 0 8.4 0a4.2 4.2 0 1 0 -8.4 0ZM801.73 160.24a4.2 4.2 0 1 0 8.4 0a4.2 4.2 0 1 0 -8.4 0ZM802.38 161.67a4.2 4.2 0 1 0 8.4 0a4.2 4.2 0 1 0 -8.4 0ZM803.03 162.96a4.2 4.2 0 1 0 8.4 0a4.2 4.2 0 1 0 -8.4 0ZM803.67 162.14a4.2 4.2 0 1 0 8.4 0a4.2 4.2 0 1 0 -8.4 0ZM804.3 160.94a4.2 4.2 0 1 0 8.4 0a4.2 4.2 0 1 0 -8.4 0ZM804.93 163.63a4.2 4.2 0 1 0 8.4 0a4.2 4.2 0 1 0 -8.4 0ZM805.56 160.91a4.2 4.2 0 1 0 8.4 0a4.2 4.2 0 1 0 -8.4 0ZM806.18 160.29a4.2 4.2 0 1 0 8.4 0a4.2 4.2 0 1 0 -8.4 0ZM806.79 161.43a4.2 4.2 0 1 0 8.4 0a4.2 4.2 0 1 0 -8.4 0ZM807.4 162.27a4.2 4.2 0 1 0 8.4 0a4.2 4.2 0 1 0 -8.4 0ZM808.01 160.86a4.2 4.2 0 1 0 8.4 0a4.2 4.2 0 1 0 -8.4 0ZM808.62 161.46a4.2 4.2 0 1 0 8.4 0a4.2 4.2 0 1 0 -8.4 0ZM809.21 162.35a4.2 4.2 0 1 0 8.4 0a4.2 4.2 0 1 0 -8.4 0ZM809.81 163.3a4.2 4.2 0 1 0 8.4 0a4.2 4.2 0 1 0 -8.4 0ZM810.4 161.66a4.2 4.2 0 1 0 8.4 0a4.2 4.2 0 1 0 -8.4 0ZM810.99 162.71a4.2 4.2 0 1 0 8.4 0a4.2 4.2 0 1 0 -8.4 0ZM811.57 164.95a4.2 4.2 0 1 0 8.4 0a4.2 4.2 0 1 0 -8.4 0ZM812.15 165.43a4.2 4.2 0 1 0 8.4 0a4.2 4.2 0 1 0 -8.4 0ZM812.73 164.26a4.2 4.2 0 1 0 8.4 0a4.2 4.2 0 1 0 -8.4 0ZM813.3 164.52a4.2 4.2 0 1 0 8.4 0a4.2 4.2 0 1 0 -8.4 0ZM813.87 164.04a4.2 4.2 0 1 0 8.4 0a4.2 4.2 0 1 0 -8.4 0ZM814.43 162.1a4.2 4.2 0 1 0 8.4 0a4.2 4.2 0 1 0 -8.4 0ZM814.99 161.53a4.2 4.2 0 1 0 8.4 0a4.2 4.2 0 1 0 -8.4 0ZM815.55 161.31a4.2 4.2 0 1 0 8.4 0a4.2 4.2 0 1 0 -8.4 0ZM816.1 164.72a4.2 4.2 0 1 0 8.4 0a4.2 4.2 0 1 0 -8.4 0ZM816.65 163.73a4.2 4.2 0 1 0 8.4 0a4.2 4.2 0 1 0 -8.4 0ZM817.2 164.63a4.2 4.2 0 1 0 8.4 0a4.2 4.2 0 1 0 -8.4 0ZM817.74 160.71a4.2 4.2 0 1 0 8.4 0a4.2 4.2 0 1 0 -8.4 0ZM818.28 163.03a4.2 4.2 0 1 0 8.4 0a4.2 4.2 0 1 0 -8.4 0ZM818.82 162.26a4.2 4.2 0 1 0 8.4 0a4.2 4.2 0 1 0 -8.4 0ZM819.35 163.11a4.2 4.2 0 1 0 8.4 0a4.2 4.2 0 1 0 -8.4 0ZM819.88 161.31a4.2 4.2 0 1 0 8.4 0a4.2 4.2 0 1 0 -8.4 0ZM820.4 163.89a4.2 4.2 0 1 0 8.4 0a4.2 4.2 0 1 0 -8.4 0ZM820.93 160.05a4.2 4.2 0 1 0 8.4 0a4.2 4.2 0 1 0 -8.4 0ZM821.45 161.79a4.2 4.2 0 1 0 8.4 0a4.2 4.2 0 1 0 -8.4 0ZM821.96 162.41a4.2 4.2 0 1 0 8.4 0a4.2 4.2 0 1 0 -8.4 0ZM822.48 162.92a4.2 4.2 0 1 0 8.4 0a4.2 4.2 0 1 0 -8.4 0ZM822.99 162.13a4.2 4.2 0 1 0 8.4 0a4.2 4.2 0 1 0 -8.4 0ZM823.5 161.85a4.2 4.2 0 1 0 8.4 0a4.2 4.2 0 1 0 -8.4 0ZM824 162.07a4.2 4.2 0 1 0 8.4 0a4.2 4.2 0 1 0 -8.4 0ZM824.5 162.42a4.2 4.2 0 1 0 8.4 0a4.2 4.2 0 1 0 -8.4 0ZM825 160.03a4.2 4.2 0 1 0 8.4 0a4.2 4.2 0 1 0 -8.4 0ZM825.5 161.23a4.2 4.2 0 1 0 8.4 0a4.2 4.2 0 1 0 -8.4 0ZM825.99 161.95a4.2 4.2 0 1 0 8.4 0a4.2 4.2 0 1 0 -8.4 0ZM826.48 161.7a4.2 4.2 0 1 0 8.4 0a4.2 4.2 0 1 0 -8.4 0ZM826.97 159.76a4.2 4.2 0 1 0 8.4 0a4.2 4.2 0 1 0 -8.4 0ZM827.46 161.2a4.2 4.2 0 1 0 8.4 0a4.2 4.2 0 1 0 -8.4 0ZM827.94 161.43a4.2 4.2 0 1 0 8.4 0a4.2 4.2 0 1 0 -8.4 0ZM828.42 160.21a4.2 4.2 0 1 0 8.4 0a4.2 4.2 0 1 0 -8.4 0ZM828.9 160.36a4.2 4.2 0 1 0 8.4 0a4.2 4.2 0 1 0 -8.4 0ZM829.37 159.33a4.2 4.2 0 1 0 8.4 0a4.2 4.2 0 1 0 -8.4 0ZM829.84 160.08a4.2 4.2 0 1 0 8.4 0a4.2 4.2 0 1 0 -8.4 0ZM830.31 160.13a4.2 4.2 0 1 0 8.4 0a4.2 4.2 0 1 0 -8.4 0ZM830.78 157.96a4.2 4.2 0 1 0 8.4 0a4.2 4.2 0 1 0 -8.4 0ZM831.24 160.14a4.2 4.2 0 1 0 8.4 0a4.2 4.2 0 1 0 -8.4 0ZM831.71 161.5a4.2 4.2 0 1 0 8.4 0a4.2 4.2 0 1 0 -8.4 0ZM832.16 160.99a4.2 4.2 0 1 0 8.4 0a4.2 4.2 0 1 0 -8.4 0ZM832.62 160.33a4.2 4.2 0 1 0 8.4 0a4.2 4.2 0 1 0 -8.4 0ZM833.08 158.92a4.2 4.2 0 1 0 8.4 0a4.2 4.2 0 1 0 -8.4 0ZM833.53 160.25a4.2 4.2 0 1 0 8.4 0a4.2 4.2 0 1 0 -8.4 0ZM833.98 159.58a4.2 4.2 0 1 0 8.4 0a4.2 4.2 0 1 0 -8.4 0ZM834.43 158.96a4.2 4.2 0 1 0 8.4 0a4.2 4.2 0 1 0 -8.4 0ZM834.87 160.5a4.2 4.2 0 1 0 8.4 0a4.2 4.2 0 1 0 -8.4 0ZM835.31 157.43a4.2 4.2 0 1 0 8.4 0a4.2 4.2 0 1 0 -8.4 0ZM835.75 160.04a4.2 4.2 0 1 0 8.4 0a4.2 4.2 0 1 0 -8.4 0ZM836.19 157.11a4.2 4.2 0 1 0 8.4 0a4.2 4.2 0 1 0 -8.4 0ZM836.63 159.34a4.2 4.2 0 1 0 8.4 0a4.2 4.2 0 1 0 -8.4 0ZM837.06 158.81a4.2 4.2 0 1 0 8.4 0a4.2 4.2 0 1 0 -8.4 0ZM837.5 157.76a4.2 4.2 0 1 0 8.4 0a4.2 4.2 0 1 0 -8.4 0ZM837.93 159.58a4.2 4.2 0 1 0 8.4 0a4.2 4.2 0 1 0 -8.4 0Z" fill="#a9a9a9"/>
<path d="M382.44 766.8 L442.46 638.81 L477.58 581.89 L502.49 545.43 L521.81 520.36 L537.6 498.3 L550.95 480.8 L562.51 465.1 L572.71 447.86 L581.84 433.66 L590.09 421.73 L597.63 408.28 L604.56 391.33 L610.98 377.8 L616.95 367.27 L622.54 356.62 L627.79 350.21 L632.74 341 L637.42 335.72 L641.86 326.04 L646.09 319.82 L650.12 311.45 L653.97 304.52 L657.65 300.15 L661.19 292.36 L664.58 287.37 L667.85 285.21 L671 278.93 L674.04 271.47 L676.98 268.67 L679.82 262.9 L682.56 254.48 L685.23 250.75 L687.81 245.48 L690.33 242.02 L692.76 239.2 L695.14 233.59 L697.45 231.86 L699.7 225.7 L701.89 222.42 L704.03 221.29 L706.11 216.08 L708.15 212.67 L710.14 209.98 L712.09 206.17 L713.99 202.55 L715.85 198.9 L717.68 199.49 L719.46 198.31 L721.21 196.25 L722.93 192.94 L724.61 189.69 L726.26 187.74 L727.88 187.11 L729.47 185.3 L731.03 181.74 L732.56 180.92 L734.07 180.16 L735.55 179.5 L737 179.46 L738.43 177.01 L739.84 173.93 L741.23 175.93 L742.59 173.21 L743.93 172.43 L745.26 170.12 L746.56 170.05 L747.84 169.31 L749.1 170.27 L750.35 167.03 L751.58 168.26 L752.79 166.22 L753.98 167.74 L755.16 164.57 L756.33 165 L757.47 164.74 L758.6 165.4 L759.72 162.55 L760.82 163.68 L761.91 162.18 L762.99 161.98 L764.05 162.27 L765.1 163.7 L766.14 161.29 L767.16 162.7 L768.18 159.05 L769.18 161.6 L770.17 158.88 L771.15 157.71 L772.11 159.48 L773.07 159.67 L774.02 155.6 L774.95 156.19 L775.88 158.04 L776.8 156.27 L777.7 155.81 L778.6 154.83 L779.49 154.9 L780.37 157.16 L781.24 158.57 L782.1 158.57 L782.95 156.54 L783.8 154.57 L784.63 155.71 L785.46 157.52 L786.28 157.65 L787.1 156.83 L787.9 155.14 L788.7 156.29 L789.49 156.04 L790.28 156.59 L791.05 155.08 L791.82 157.82 L792.58 157.74 L793.34 154.93 L794.09 155.57 L794.83 158.02 L795.57 155.76 L796.3 158.54 L797.03 156.94 L797.75 157.78 L798.46 157.93 L799.17 156.08 L799.87 156.48 L800.56 156.47 L801.25 158.3 L801.94 158.45 L802.62 156.32 L803.29 159.44 L803.96 157.69 L804.62 157.08 L805.28 157.96 L805.93 160.24 L806.58 158.67 L807.23 159.03 L807.87 160.28 L808.5 160.53 L809.13 159.8 L809.76 158.51 L810.38 159.26 L810.99 160.59 L811.6 160.22 L812.21 159.45 L812.82 158.6 L813.41 158.75 L814.01 160.3 L814.6 159.68 L815.19 157.56 L815.77 160.41 L816.35 161.25 L816.93 160.9 L817.5 161.37 L818.07 161.34 L818.63 159.68 L819.19 160.55 L819.75 158.75 L820.3 157.48 L820.85 158.34 L821.4 158.03 L821.94 160.37 L822.48 159.24 L823.02 158.5 L823.55 158.67 L824.08 156.54 L824.6 158.03 L825.13 158.55 L825.65 157.18 L826.16 156.45 L826.68 156.95 L827.19 156.47 L827.7 157.78 L828.2 155.47 L828.7 155.12 L829.2 155.87 L829.7 157.27 L830.19 157.39 L830.68 156.85 L831.17 157.84 L831.66 155.58 L832.14 154.25 L832.62 156.1 L833.1 155.93 L833.57 154.89 L834.04 156.86 L834.51 155.57 L834.98 155.17 L835.44 155.54 L835.91 158.02 L836.36 154.29 L836.82 155.71 L837.28 155.4 L837.73 155.1 L838.18 156.04 L838.63 155.21 L839.07 158.01 L839.51 156.36 L839.95 157.16 L840.39 155.03 L840.83 156.25 L841.26 156.83 L841.7 157.79 L842.13 155.43" stroke="#808080" stroke-width="1.9" fill="none" stroke-linejoin="round"/>
<path d="M382.44 761.6L386.94 769.4L377.93 769.4ZM442.46 633.61L446.97 641.41L437.96 641.41ZM477.58 576.69L482.08 584.49L473.07 584.49ZM502.49 540.23L506.99 548.03L497.99 548.03ZM521.81 515.16L526.32 522.96L517.31 522.96ZM537.6 493.1L542.1 500.9L533.1 500.9ZM550.95 475.6L555.45 483.4L546.45 483.4ZM562.51 459.9L567.02 467.7L558.01 467.7ZM572.71 442.66L577.22 450.46L568.21 450.46ZM581.84 428.46L586.34 436.26L577.33 436.26ZM590.09 416.53L594.59 424.33L585.59 424.33ZM597.63 403.08L602.13 410.88L593.12 410.88ZM604.56 386.13L609.06 393.93L600.06 393.93ZM610.98 372.6L615.48 380.4L606.47 380.4ZM616.95 362.07L621.45 369.87L612.45 369.87ZM622.54 351.42L627.04 359.22L618.04 359.22ZM627.79 345.01L632.29 352.81L623.29 352.81ZM632.74 335.8L637.24 343.6L628.24 343.6ZM637.42 330.52L641.92 338.32L632.92 338.32ZM641.86 320.84L646.37 328.64L637.36 328.64ZM646.09 314.62L650.59 322.42L641.59 322.42ZM650.12 306.25L654.62 314.05L645.61 314.05ZM653.97 299.32L658.47 307.12L649.46 307.12ZM657.65 294.95L662.16 302.75L653.15 302.75ZM661.19 287.16L665.69 294.96L656.68 294.96ZM664.58 282.17L669.09 289.97L660.08 289.97ZM667.85 280.01L672.36 287.81L663.35 287.81ZM671 273.73L675.5 281.53L666.5 281.53ZM674.04 266.27L678.54 274.07L669.54 274.07ZM676.98 263.47L681.48 271.27L672.47 271.27ZM679.82 257.7L684.32 265.5L675.31 265.5ZM682.56 249.28L687.07 257.08L678.06 257.08ZM685.23 245.55L689.73 253.35L680.73 253.35ZM687.81 240.28L692.32 248.08L683.31 248.08ZM690.33 236.82L694.83 244.62L685.82 244.62ZM692.76 234L697.27 241.8L688.26 241.8ZM695.14 228.39L699.64 236.19L690.63 236.19ZM697.45 226.66L701.95 234.46L692.94 234.46ZM699.7 220.5L704.2 228.3L695.19 228.3ZM701.89 217.22L706.39 225.02L697.39 225.02ZM704.03 216.09L708.53 223.89L699.52 223.89ZM706.11 210.88L710.62 218.68L701.61 218.68ZM708.15 207.47L712.65 215.27L703.65 215.27ZM710.14 204.78L714.65 212.58L705.64 212.58ZM712.09 200.97L716.59 208.77L707.59 208.77ZM713.99 197.35L718.5 205.15L709.49 205.15ZM715.85 193.7L720.36 201.5L711.35 201.5ZM717.68 194.29L722.18 202.09L713.17 202.09ZM719.46 193.11L723.97 200.91L714.96 200.91ZM721.21 191.05L725.72 198.85L716.71 198.85ZM722.93 187.74L727.43 195.54L718.42 195.54ZM724.61 184.49L729.11 192.29L720.11 192.29ZM726.26 182.54L730.76 190.34L721.76 190.34ZM727.88 181.91L732.38 189.71L723.37 189.71ZM729.47 180.1L733.97 187.9L724.96 187.9ZM731.03 176.54L735.53 184.34L726.52 184.34ZM732.56 175.72L737.06 183.52L728.06 183.52ZM734.07 174.96L738.57 182.76L729.56 182.76ZM735.55 174.3L740.05 182.1L731.04 182.1ZM737 174.26L741.5 182.06L732.5 182.06ZM738.43 171.81L742.94 179.61L733.93 179.61ZM739.84 168.73L744.34 176.53L735.34 176.53ZM741.23 170.73L745.73 178.53L736.72 178.53ZM742.59 168.01L747.09 175.81L738.09 175.81ZM743.93 167.23L748.44 175.03L739.43 175.03ZM745.26 164.92L749.76 172.72L740.75 172.72ZM746.56 164.85L751.06 172.65L742.05 172.65ZM747.84 164.11L752.34 171.91L743.34 171.91ZM749.1 165.07L753.61 172.87L744.6 172.87ZM750.35 161.83L754.85 169.63L745.85 169.63ZM751.58 163.06L756.08 170.86L747.08 170.86ZM752.79 161.02L757.29 168.82L748.29 168.82ZM753.98 162.54L758.49 170.34L749.48 170.34ZM755.16 159.37L759.67 167.17L750.66 167.17ZM756.33 159.8L760.83 167.6L751.82 167.6ZM757.47 159.54L761.98 167.34L752.97 167.34ZM758.6 160.2L763.11 168L754.1 168ZM759.72 157.35L764.22 165.15L755.22 165.15ZM760.82 158.48L765.33 166.28L756.32 166.28ZM761.91 156.98L766.42 164.78L757.41 164.78ZM762.99 156.78L767.49 164.58L758.49 164.58ZM764.05 157.07L768.56 164.87L759.55 164.87ZM765.1 158.5L769.61 166.3L760.6 166.3ZM766.14 156.09L770.64 163.89L761.64 163.89ZM767.16 157.5L771.67 165.3L762.66 165.3ZM768.18 153.85L772.68 161.65L763.67 161.65ZM769.18 156.4L773.68 164.2L764.67 164.2ZM770.17 153.68L774.67 161.48L765.66 161.48ZM771.15 152.51L775.65 160.31L766.64 160.31ZM772.11 154.28L776.62 162.08L767.61 162.08ZM773.07 154.47L777.57 162.27L768.57 162.27ZM774.02 150.4L778.52 158.2L769.51 158.2ZM774.95 150.99L779.46 158.79L770.45 158.79ZM775.88 152.84L780.38 160.64L771.38 160.64ZM776.8 151.07L781.3 158.87L772.29 158.87ZM777.7 150.61L782.21 158.41L773.2 158.41ZM778.6 149.63L783.1 157.43L774.1 157.43ZM779.49 149.7L783.99 157.5L774.99 157.5ZM780.37 151.96L784.87 159.76L775.86 159.76ZM781.24 153.37L785.74 161.17L776.73 161.17ZM782.1 153.37L786.6 161.17L777.6 161.17ZM782.95 151.34L787.46 159.14L778.45 159.14ZM783.8 149.37L788.3 157.17L779.29 157.17ZM784.63 150.51L789.14 158.31L780.13 158.31ZM785.46 152.32L789.97 160.12L780.96 160.12ZM786.28 152.45L790.79 160.25L781.78 160.25ZM787.1 151.63L791.6 159.43L782.59 159.43ZM787.9 149.94L792.41 157.74L783.4 157.74ZM788.7 151.09L793.2 158.89L784.2 158.89ZM789.49 150.84L793.99 158.64L784.99 158.64ZM790.28 151.39L794.78 159.19L785.77 159.19ZM791.05 149.88L795.56 157.68L786.55 157.68ZM791.82 152.62L796.33 160.42L787.32 160.42ZM792.58 152.54L797.09 160.34L788.08 160.34ZM793.34 149.73L797.84 157.53L788.84 157.53ZM794.09 150.37L798.59 158.17L789.59 158.17ZM794.83 152.82L799.34 160.62L790.33 160.62ZM795.57 150.56L800.07 158.36L791.07 158.36ZM796.3 153.34L800.81 161.14L791.8 161.14ZM797.03 151.74L801.53 159.54L792.52 159.54ZM797.75 152.58L802.25 160.38L793.24 160.38ZM798.46 152.73L802.96 160.53L793.95 160.53ZM799.17 150.88L803.67 158.68L794.66 158.68ZM799.87 151.28L804.37 159.08L795.36 159.08ZM800.56 151.27L805.07 159.07L796.06 159.07ZM801.25 153.1L805.76 160.9L796.75 160.9ZM801.94 153.25L806.44 161.05L797.43 161.05ZM802.62 151.12L807.12 158.92L798.11 158.92ZM803.29 154.24L807.79 162.04L798.79 162.04ZM803.96 152.49L808.46 160.29L799.46 160.29ZM804.62 151.88L809.13 159.68L800.12 159.68ZM805.28 152.76L809.78 160.56L800.78 160.56ZM805.93 155.04L810.44 162.84L801.43 162.84ZM806.58 153.47L811.09 161.27L802.08 161.27ZM807.23 153.83L811.73 161.63L802.72 161.63ZM807.87 155.08L812.37 162.88L803.36 162.88ZM808.5 155.33L813 163.13L804 163.13ZM809.13 154.6L813.63 162.4L804.63 162.4ZM809.76 153.31L814.26 161.11L805.25 161.11ZM810.38 154.06L814.88 161.86L805.87 161.86ZM810.99 155.39L815.5 163.19L806.49 163.19ZM811.6 155.02L816.11 162.82L807.1 162.82ZM812.21 154.25L816.72 162.05L807.71 162.05ZM812.82 153.4L817.32 161.2L808.31 161.2ZM813.41 153.55L817.92 161.35L808.91 161.35ZM814.01 155.1L818.51 162.9L809.51 162.9ZM814.6 154.48L819.1 162.28L810.1 162.28ZM815.19 152.36L819.69 160.16L810.68 160.16ZM815.77 155.21L820.27 163.01L811.27 163.01ZM816.35 156.05L820.85 163.85L811.85 163.85ZM816.93 155.7L821.43 163.5L812.42 163.5ZM817.5 156.17L822 163.97L812.99 163.97ZM818.07 156.14L822.57 163.94L813.56 163.94ZM818.63 154.48L823.13 162.28L814.13 162.28ZM819.19 155.35L823.69 163.15L814.69 163.15ZM819.75 153.55L824.25 161.35L815.24 161.35ZM820.3 152.28L824.8 160.08L815.8 160.08ZM820.85 153.14L825.35 160.94L816.35 160.94ZM821.4 152.83L825.9 160.63L816.89 160.63ZM821.94 155.17L826.44 162.97L817.44 162.97ZM822.48 154.04L826.98 161.84L817.98 161.84ZM823.02 153.3L827.52 161.1L818.51 161.1ZM823.55 153.47L828.05 161.27L819.04 161.27ZM824.08 151.34L828.58 159.14L819.57 159.14ZM824.6 152.83L829.11 160.63L820.1 160.63ZM825.13 153.35L829.63 161.15L820.62 161.15ZM825.65 151.98L830.15 159.78L821.14 159.78ZM826.16 151.25L830.67 159.05L821.66 159.05ZM826.68 151.75L831.18 159.55L822.18 159.55ZM827.19 151.27L831.69 159.07L822.69 159.07ZM827.7 152.58L832.2 160.38L823.19 160.38ZM828.2 150.27L832.71 158.07L823.7 158.07ZM828.7 149.92L833.21 157.72L824.2 157.72ZM829.2 150.67L833.71 158.47L824.7 158.47ZM829.7 152.07L834.2 159.87L825.2 159.87ZM830.19 152.19L834.7 159.99L825.69 159.99ZM830.68 151.65L835.19 159.45L826.18 159.45ZM831.17 152.64L835.67 160.44L826.67 160.44ZM831.66 150.38L836.16 158.18L827.15 158.18ZM832.14 149.05L836.64 156.85L827.64 156.85ZM832.62 150.9L837.12 158.7L828.12 158.7ZM833.1 150.73L837.6 158.53L828.59 158.53ZM833.57 149.69L838.07 157.49L829.07 157.49ZM834.04 151.66L838.55 159.46L829.54 159.46ZM834.51 150.37L839.02 158.17L830.01 158.17ZM834.98 149.97L839.48 157.77L830.48 157.77ZM835.44 150.34L839.95 158.14L830.94 158.14ZM835.91 152.82L840.41 160.62L831.4 160.62ZM836.36 149.09L840.87 156.89L831.86 156.89ZM836.82 150.51L841.32 158.31L832.32 158.31ZM837.28 150.2L841.78 158L832.77 158ZM837.73 149.9L842.23 157.7L833.23 157.7ZM838.18 150.84L842.68 158.64L833.67 158.64ZM838.63 150.01L843.13 157.81L834.12 157.81ZM839.07 152.81L843.57 160.61L834.57 160.61ZM839.51 151.16L844.02 158.96L835.01 158.96ZM839.95 151.96L844.46 159.76L835.45 159.76ZM840.39 149.83L844.9 157.63L835.89 157.63ZM840.83 151.05L845.33 158.85L836.33 158.85ZM841.26 151.63L845.77 159.43L836.76 159.43ZM841.7 152.59L846.2 160.39L837.19 160.39ZM842.13 150.23L846.63 158.03L837.62 158.03Z" fill="#808080"/>
<path d="M322.41 529.8 L382.44 479.89 L417.55 450.59 L442.46 420.96 L461.79 394.27 L477.58 372.08 L490.93 353.73 L502.49 338.32 L512.69 326.71 L521.81 313.19 L530.07 300.83 L537.6 289.45 L544.53 278.98 L550.95 268.41 L556.93 259.75 L562.51 252.01 L567.76 240.08 L572.71 227.5 L577.4 220.76 L581.84 213.48 L586.06 208.78 L590.09 202.39 L593.94 196.46 L597.63 190.84 L601.16 185.55 L604.56 182.13 L607.83 177.73 L610.98 172.19 L614.01 170.52 L616.95 165.76 L619.79 163.77 L622.54 160.64 L625.2 157.77 L627.79 155.21 L630.3 153.2 L632.74 150.57 L635.11 147.69 L637.42 148.39 L639.67 146.53 L641.86 145.52 L644 142.68 L646.09 140.48 L648.13 139.63 L650.12 135.59 L652.06 136.21 L653.97 133.76 L655.83 131.71 L657.65 131.16 L659.44 131.81 L661.19 130.11 L662.9 130.32 L664.58 130.31 L666.23 128.89 L667.85 127.25 L669.44 128.13 L671 126.55 L672.53 126.01 L674.04 125.55 L675.52 126.06 L676.98 124.7 L678.41 126.84 L679.82 127.87 L681.2 125.45 L682.56 126.6 L683.91 127.29 L685.23 123.57 L686.53 123.8 L687.81 126.3 L689.08 126.27 L690.33 125.32 L691.55 123.25 L692.76 124.12 L693.96 125.79 L695.14 125.72 L696.3 125.24 L697.45 122.7 L698.58 125.16 L699.7 123.11 L700.8 124.34 L701.89 121.89 L702.96 125.09 L704.03 123.49 L705.08 123.84 L706.11 121.66 L707.14 123.16 L708.15 122.89 L709.15 122.81 L710.14 121.84 L711.12 123.31 L712.09 121.77 L713.05 121.58 L713.99 121.06 L714.93 123.14 L715.85 120.85 L716.77 121.3 L717.68 120.68 L718.57 122.97 L719.46 122.62 L720.34 122.57 L721.21 120.56 L722.07 122.16 L722.93 121.77 L723.77 120.77 L724.61 120.41 L725.44 124.39 L726.26 120.89 L727.07 121.61 L727.88 121.48 L728.68 122.79 L729.47 120.71 L730.25 122.28 L731.03 121.87 L731.8 123.74 L732.56 120.42 L733.32 121.74 L734.07 122.39 L734.81 124.28 L735.55 122.47 L736.28 122.3 L737 123.08 L737.72 121.59 L738.43 120.53 L739.14 122.41 L739.84 124.04 L740.54 123.35 L741.23 121.43 L741.91 123.14 L742.59 123.8 L743.26 121.43 L743.93 122.75 L744.6 121.82 L745.26 121.38 L745.91 121.55 L746.56 121.24 L747.2 121.86 L747.84 120.63 L748.47 122.1 L749.1 120.88 L749.73 123.6 L750.35 122.99 L750.97 120.63 L751.58 123.74 L752.19 121.43 L752.79 122.62 L753.39 122.94 L753.98 122.08 L754.58 121.93 L755.16 122.54 L755.75 121.38 L756.33 124.31 L756.9 121.33 L757.47 124.2 L758.04 121.8 L758.6 122.17 L759.16 122.53 L759.72 121.14 L760.27 121.54 L760.82 122.5 L761.37 122.84 L761.91 124.61 L762.45 125.08 L762.99 121.32 L763.52 123.31 L764.05 121.71 L764.58 124.32 L765.1 122.26 L765.62 124.41 L766.14 122.89 L766.65 121.09 L767.16 120.47 L767.67 121.32 L768.18 123.67 L768.68 120.67 L769.18 121.86 L769.67 121.31 L770.17 121.08 L770.66 122.78 L771.15 120.31 L771.63 122.21 L772.11 121.88 L772.59 122.83 L773.07 121.05 L773.55 122.53 L774.02 120.49 L774.49 120.91 L774.95 120.98 L775.42 121.74 L775.88 121.85 L776.34 118.61 L776.8 118.58 L777.25 120.05 L777.7 121.06 L778.15 119.83 L778.6 118.78 L779.05 121.32 L779.49 118.55 L779.93 117.59 L780.37 117.34 L780.8 117.15" stroke="#808080" stroke-width="1.9" fill="none" stroke-linejoin="round"/>
<path d="M322.41 524.6L326.92 532.4L317.91 532.4ZM382.44 474.69L386.94 482.49L377.93 482.49ZM417.55 445.39L422.05 453.19L413.05 453.19ZM442.46 415.76L446.97 423.56L437.96 423.56ZM461.79 389.07L466.29 396.87L457.28 396.87ZM477.58 366.88L482.08 374.68L473.07 374.68ZM490.93 348.53L495.43 356.33L486.42 356.33ZM502.49 333.12L506.99 340.92L497.99 340.92ZM512.69 321.51L517.19 329.31L508.19 329.31ZM521.81 307.99L526.32 315.79L517.31 315.79ZM530.07 295.63L534.57 303.43L525.56 303.43ZM537.6 284.25L542.1 292.05L533.1 292.05ZM544.53 273.78L549.04 281.58L540.03 281.58ZM550.95 263.21L555.45 271.01L546.45 271.01ZM556.93 254.55L561.43 262.35L552.42 262.35ZM562.51 246.81L567.02 254.61L558.01 254.61ZM567.76 234.88L572.27 242.68L563.26 242.68ZM572.71 222.3L577.22 230.1L568.21 230.1ZM577.4 215.56L581.9 223.36L572.89 223.36ZM581.84 208.28L586.34 216.08L577.33 216.08ZM586.06 203.58L590.57 211.38L581.56 211.38ZM590.09 197.19L594.59 204.99L585.59 204.99ZM593.94 191.26L598.44 199.06L589.44 199.06ZM597.63 185.64L602.13 193.44L593.12 193.44ZM601.16 180.35L605.67 188.15L596.66 188.15ZM604.56 176.93L609.06 184.73L600.06 184.73ZM607.83 172.53L612.33 180.33L603.32 180.33ZM610.98 166.99L615.48 174.79L606.47 174.79ZM614.01 165.32L618.52 173.12L609.51 173.12ZM616.95 160.56L621.45 168.36L612.45 168.36ZM619.79 158.57L624.29 166.37L615.29 166.37ZM622.54 155.44L627.04 163.24L618.04 163.24ZM625.2 152.57L629.71 160.37L620.7 160.37ZM627.79 150.01L632.29 157.81L623.29 157.81ZM630.3 148L634.8 155.8L625.8 155.8ZM632.74 145.37L637.24 153.17L628.24 153.17ZM635.11 142.49L639.62 150.29L630.61 150.29ZM637.42 143.19L641.92 150.99L632.92 150.99ZM639.67 141.33L644.17 149.13L635.17 149.13ZM641.86 140.32L646.37 148.12L637.36 148.12ZM644 137.48L648.5 145.28L639.5 145.28ZM646.09 135.28L650.59 143.08L641.59 143.08ZM648.13 134.43L652.63 142.23L643.62 142.23ZM650.12 130.39L654.62 138.19L645.61 138.19ZM652.06 131.01L656.57 138.81L647.56 138.81ZM653.97 128.56L658.47 136.36L649.46 136.36ZM655.83 126.51L660.33 134.31L651.33 134.31ZM657.65 125.96L662.16 133.76L653.15 133.76ZM659.44 126.61L663.94 134.41L654.93 134.41ZM661.19 124.91L665.69 132.71L656.68 132.71ZM662.9 125.12L667.41 132.92L658.4 132.92ZM664.58 125.11L669.09 132.91L660.08 132.91ZM666.23 123.69L670.74 131.49L661.73 131.49ZM667.85 122.05L672.36 129.85L663.35 129.85ZM669.44 122.93L673.94 130.73L664.94 130.73ZM671 121.35L675.5 129.15L666.5 129.15ZM672.53 120.81L677.04 128.61L668.03 128.61ZM674.04 120.35L678.54 128.15L669.54 128.15ZM675.52 120.86L680.02 128.66L671.02 128.66ZM676.98 119.5L681.48 127.3L672.47 127.3ZM678.41 121.64L682.91 129.44L673.9 129.44ZM679.82 122.67L684.32 130.47L675.31 130.47ZM681.2 120.25L685.7 128.05L676.7 128.05ZM682.56 121.4L687.07 129.2L678.06 129.2ZM683.91 122.09L688.41 129.89L679.4 129.89ZM685.23 118.37L689.73 126.17L680.73 126.17ZM686.53 118.6L691.04 126.4L682.03 126.4ZM687.81 121.1L692.32 128.9L683.31 128.9ZM689.08 121.07L693.58 128.87L684.58 128.87ZM690.33 120.12L694.83 127.92L685.82 127.92ZM691.55 118.05L696.06 125.85L687.05 125.85ZM692.76 118.92L697.27 126.72L688.26 126.72ZM693.96 120.59L698.46 128.39L689.46 128.39ZM695.14 120.52L699.64 128.32L690.63 128.32ZM696.3 120.04L700.8 127.84L691.8 127.84ZM697.45 117.5L701.95 125.3L692.94 125.3ZM698.58 119.96L703.08 127.76L694.08 127.76ZM699.7 117.91L704.2 125.71L695.19 125.71ZM700.8 119.14L705.3 126.94L696.3 126.94ZM701.89 116.69L706.39 124.49L697.39 124.49ZM702.96 119.89L707.47 127.69L698.46 127.69ZM704.03 118.29L708.53 126.09L699.52 126.09ZM705.08 118.64L709.58 126.44L700.57 126.44ZM706.11 116.46L710.62 124.26L701.61 124.26ZM707.14 117.96L711.64 125.76L702.64 125.76ZM708.15 117.69L712.65 125.49L703.65 125.49ZM709.15 117.61L713.66 125.41L704.65 125.41ZM710.14 116.64L714.65 124.44L705.64 124.44ZM711.12 118.11L715.62 125.91L706.62 125.91ZM712.09 116.57L716.59 124.37L707.59 124.37ZM713.05 116.38L717.55 124.18L708.54 124.18ZM713.99 115.86L718.5 123.66L709.49 123.66ZM714.93 117.94L719.43 125.74L710.42 125.74ZM715.85 115.65L720.36 123.45L711.35 123.45ZM716.77 116.1L721.27 123.9L712.27 123.9ZM717.68 115.48L722.18 123.28L713.17 123.28ZM718.57 117.77L723.08 125.57L714.07 125.57ZM719.46 117.42L723.97 125.22L714.96 125.22ZM720.34 117.37L724.85 125.17L715.84 125.17ZM721.21 115.36L725.72 123.16L716.71 123.16ZM722.07 116.96L726.58 124.76L717.57 124.76ZM722.93 116.57L727.43 124.37L718.42 124.37ZM723.77 115.57L728.28 123.37L719.27 123.37ZM724.61 115.21L729.11 123.01L720.11 123.01ZM725.44 119.19L729.94 126.99L720.93 126.99ZM726.26 115.69L730.76 123.49L721.76 123.49ZM727.07 116.41L731.57 124.21L722.57 124.21ZM727.88 116.28L732.38 124.08L723.37 124.08ZM728.68 117.59L733.18 125.39L724.17 125.39ZM729.47 115.51L733.97 123.31L724.96 123.31ZM730.25 117.08L734.75 124.88L725.75 124.88ZM731.03 116.67L735.53 124.47L726.52 124.47ZM731.8 118.54L736.3 126.34L727.29 126.34ZM732.56 115.22L737.06 123.02L728.06 123.02ZM733.32 116.54L737.82 124.34L728.81 124.34ZM734.07 117.19L738.57 124.99L729.56 124.99ZM734.81 119.08L739.31 126.88L730.31 126.88ZM735.55 117.27L740.05 125.07L731.04 125.07ZM736.28 117.1L740.78 124.9L731.77 124.9ZM737 117.88L741.5 125.68L732.5 125.68ZM737.72 116.39L742.22 124.19L733.22 124.19ZM738.43 115.33L742.94 123.13L733.93 123.13ZM739.14 117.21L743.64 125.01L734.64 125.01ZM739.84 118.84L744.34 126.64L735.34 126.64ZM740.54 118.15L745.04 125.95L736.03 125.95ZM741.23 116.23L745.73 124.03L736.72 124.03ZM741.91 117.94L746.41 125.74L737.41 125.74ZM742.59 118.6L747.09 126.4L738.09 126.4ZM743.26 116.23L747.77 124.03L738.76 124.03ZM743.93 117.55L748.44 125.35L739.43 125.35ZM744.6 116.62L749.1 124.42L740.09 124.42ZM745.26 116.18L749.76 123.98L740.75 123.98ZM745.91 116.35L750.41 124.15L741.41 124.15ZM746.56 116.04L751.06 123.84L742.05 123.84ZM747.2 116.66L751.7 124.46L742.7 124.46ZM747.84 115.43L752.34 123.23L743.34 123.23ZM748.47 116.9L752.98 124.7L743.97 124.7ZM749.1 115.68L753.61 123.48L744.6 123.48ZM749.73 118.4L754.23 126.2L745.23 126.2ZM750.35 117.79L754.85 125.59L745.85 125.59ZM750.97 115.43L755.47 123.23L746.46 123.23ZM751.58 118.54L756.08 126.34L747.08 126.34ZM752.19 116.23L756.69 124.03L747.68 124.03ZM752.79 117.42L757.29 125.22L748.29 125.22ZM753.39 117.74L757.89 125.54L748.89 125.54ZM753.98 116.88L758.49 124.68L749.48 124.68ZM754.58 116.73L759.08 124.53L750.07 124.53ZM755.16 117.34L759.67 125.14L750.66 125.14ZM755.75 116.18L760.25 123.98L751.24 123.98ZM756.33 119.11L760.83 126.91L751.82 126.91ZM756.9 116.13L761.4 123.93L752.4 123.93ZM757.47 119L761.98 126.8L752.97 126.8ZM758.04 116.6L762.54 124.4L753.54 124.4ZM758.6 116.97L763.11 124.77L754.1 124.77ZM759.16 117.33L763.67 125.13L754.66 125.13ZM759.72 115.94L764.22 123.74L755.22 123.74ZM760.27 116.34L764.78 124.14L755.77 124.14ZM760.82 117.3L765.33 125.1L756.32 125.1ZM761.37 117.64L765.87 125.44L756.87 125.44ZM761.91 119.41L766.42 127.21L757.41 127.21ZM762.45 119.88L766.96 127.68L757.95 127.68ZM762.99 116.12L767.49 123.92L758.49 123.92ZM763.52 118.11L768.03 125.91L759.02 125.91ZM764.05 116.51L768.56 124.31L759.55 124.31ZM764.58 119.12L769.08 126.92L760.08 126.92ZM765.1 117.06L769.61 124.86L760.6 124.86ZM765.62 119.21L770.13 127.01L761.12 127.01ZM766.14 117.69L770.64 125.49L761.64 125.49ZM766.65 115.89L771.16 123.69L762.15 123.69ZM767.16 115.27L771.67 123.07L762.66 123.07ZM767.67 116.12L772.18 123.92L763.17 123.92ZM768.18 118.47L772.68 126.27L763.67 126.27ZM768.68 115.47L773.18 123.27L764.18 123.27ZM769.18 116.66L773.68 124.46L764.67 124.46ZM769.67 116.11L774.18 123.91L765.17 123.91ZM770.17 115.88L774.67 123.68L765.66 123.68ZM770.66 117.58L775.16 125.38L766.16 125.38ZM771.15 115.11L775.65 122.91L766.64 122.91ZM771.63 117.01L776.13 124.81L767.13 124.81ZM772.11 116.68L776.62 124.48L767.61 124.48ZM772.59 117.63L777.1 125.43L768.09 125.43ZM773.07 115.85L777.57 123.65L768.57 123.65ZM773.55 117.33L778.05 125.13L769.04 125.13ZM774.02 115.29L778.52 123.09L769.51 123.09ZM774.49 115.71L778.99 123.51L769.98 123.51ZM774.95 115.78L779.46 123.58L770.45 123.58ZM775.42 116.54L779.92 124.34L770.91 124.34ZM775.88 116.65L780.38 124.45L771.38 124.45ZM776.34 113.41L780.84 121.21L771.84 121.21ZM776.8 113.38L781.3 121.18L772.29 121.18ZM777.25 114.85L781.75 122.65L772.75 122.65ZM777.7 115.86L782.21 123.66L773.2 123.66ZM778.15 114.63L782.66 122.43L773.65 122.43ZM778.6 113.58L783.1 121.38L774.1 121.38ZM779.05 116.12L783.55 123.92L774.54 123.92ZM779.49 113.35L783.99 121.15L774.99 121.15ZM779.93 112.39L784.43 120.19L775.43 120.19ZM780.37 112.14L784.87 119.94L775.86 119.94ZM780.8 111.95L785.31 119.75L776.3 119.75Z" fill="#808080"/>
<path d="M196.39 526.2 L256.41 458.12 L291.53 414.05 L316.44 378.12 L335.76 347.22 L351.55 321.05 L364.9 298.71 L376.46 279.58 L386.66 259.67 L395.79 243.99 L404.04 231.13 L411.58 217.67 L418.51 205.28 L424.93 193.8 L430.9 184.86 L436.49 176.85 L441.74 168.8 L446.69 162.7 L451.37 158.56 L455.81 153.35 L460.04 148.4 L464.07 145.97 L467.92 143.01 L471.6 138.68 L475.14 137.63 L478.53 133.73 L481.8 132.34 L484.95 129.66 L487.99 128.8 L490.93 130.24 L493.76 127.1 L496.51 128.54 L499.18 126.01 L501.76 126.08 L504.27 126.54 L506.71 125.35 L509.09 122.69 L511.4 124.05 L513.65 123.78 L515.84 121.58 L517.98 120.81 L520.06 123.48 L522.1 121.64 L524.09 119.97 L526.04 120.62 L527.94 119.32 L529.8 121.36 L531.63 119.89 L533.41 118.02 L535.16 120.62 L536.88 117.44 L538.56 117.95 L540.21 116.68 L541.83 119.28 L543.42 116.53 L544.98 117.94 L546.51 115.98 L548.01 117.3 L549.5 117.9 L550.95 117.09 L552.38 116.56 L553.79 116.47 L555.18 116.07 L556.54 116.51 L557.88 114.31 L559.2 115.63 L560.51 114.49 L561.79 116.81 L563.05 116.92 L564.3 113.25 L565.53 113.38 L566.74 115.44 L567.93 114.73 L569.11 112.34 L570.27 114.9 L571.42 115.68 L572.55 113.43 L573.67 112.95 L574.77 113.67 L575.86 114.98 L576.94 112.12 L578 112.11 L579.05 111.49 L580.09 113.1 L581.11 112.3 L582.13 111.29 L583.13 111.67 L584.12 110.1 L585.1 111.06 L586.06 113.6 L587.02 111.91 L587.97 110.63 L588.9 113.17 L589.83 110.8 L590.75 110.3 L591.65 109.37 L592.55 109.75 L593.44 109.9 L594.32 109.96 L595.19 112.47 L596.05 109.98 L596.9 109.86 L597.75 111.22 L598.58 112.41 L599.41 109.85 L600.23 111.67 L601.05 110.04 L601.85 110.75 L602.65 110.84 L603.44 112.17 L604.22 111.37 L605 110.32 L605.77 111.6 L606.53 109.66 L607.29 109.73 L608.04 112.02 L608.78 110.36 L609.52 111.27 L610.25 109.42 L610.98 111.82 L611.69 110.6 L612.41 109.14 L613.11 111.88 L613.82 110.01 L614.51 109.49 L615.2 109.18 L615.89 108.53 L616.56 108.92 L617.24 110.88 L617.91 108.66 L618.57 109.13 L619.23 109.88 L619.88 110.26 L620.53 109.6 L621.18 111.21 L621.81 109.1 L622.45 109.54 L623.08 109.76 L623.7 108.57 L624.33 108.94 L624.94 108.63 L625.55 110.94 L626.16 108.62 L626.76 110.7 L627.36 108.91 L627.96 110.6 L628.55 110.64 L629.14 109.42 L629.72 111.73 L630.3 110.63 L630.88 110.23 L631.45 108.19 L632.01 109.63 L632.58 109.06 L633.14 109.88 L633.7 111.73 L634.25 111.46 L634.8 108.25 L635.35 110.72 L635.89 111.74 L636.43 110.17 L636.96 108.39 L637.5 111.47 L638.03 109.71 L638.55 111.92 L639.08 111.5 L639.6 111.32 L640.11 111.72 L640.63 108.27 L641.14 111.18 L641.65 109.22 L642.15 108.54 L642.65 109.52 L643.15 110.36 L643.65 108.02 L644.14 109.8 L644.63 111.14 L645.12 109.98 L645.61 110.11 L646.09 109.19 L646.57 111.89 L647.05 108.99 L647.52 110.72 L647.99 110.58 L648.46 108 L648.93 111.99 L649.39 108.94 L649.85 111.96 L650.31 111.71 L650.77 111.6 L651.23 111.42 L651.68 109.59 L652.13 109.78 L652.57 109.38 L653.02 111.74 L653.46 108.12 L653.9 108.55 L654.34 111.83 L654.78 111.23" stroke="#800080" stroke-width="1.9" fill="none" stroke-linejoin="round"/>
<path d="M192.69 522.5l7.4 7.4M192.69 529.9l7.4 -7.4M252.71 454.42l7.4 7.4M252.71 461.82l7.4 -7.4M287.83 410.35l7.4 7.4M287.83 417.75l7.4 -7.4M312.74 374.42l7.4 7.4M312.74 381.82l7.4 -7.4M332.06 343.52l7.4 7.4M332.06 350.92l7.4 -7.4M347.85 317.35l7.4 7.4M347.85 324.75l7.4 -7.4M361.2 295.01l7.4 7.4M361.2 302.41l7.4 -7.4M372.76 275.88l7.4 7.4M372.76 283.28l7.4 -7.4M382.96 255.97l7.4 7.4M382.96 263.37l7.4 -7.4M392.09 240.29l7.4 7.4M392.09 247.69l7.4 -7.4M400.34 227.43l7.4 7.4M400.34 234.83l7.4 -7.4M407.88 213.97l7.4 7.4M407.88 221.37l7.4 -7.4M414.81 201.58l7.4 7.4M414.81 208.98l7.4 -7.4M421.23 190.1l7.4 7.4M421.23 197.5l7.4 -7.4M427.2 181.16l7.4 7.4M427.2 188.56l7.4 -7.4M432.79 173.15l7.4 7.4M432.79 180.55l7.4 -7.4M438.04 165.1l7.4 7.4M438.04 172.5l7.4 -7.4M442.99 159l7.4 7.4M442.99 166.4l7.4 -7.4M447.67 154.86l7.4 7.4M447.67 162.26l7.4 -7.4M452.11 149.65l7.4 7.4M452.11 157.05l7.4 -7.4M456.34 144.7l7.4 7.4M456.34 152.1l7.4 -7.4M460.37 142.27l7.4 7.4M460.37 149.67l7.4 -7.4M464.22 139.31l7.4 7.4M464.22 146.71l7.4 -7.4M467.9 134.98l7.4 7.4M467.9 142.38l7.4 -7.4M471.44 133.93l7.4 7.4M471.44 141.33l7.4 -7.4M474.83 130.03l7.4 7.4M474.83 137.43l7.4 -7.4M478.1 128.64l7.4 7.4M478.1 136.04l7.4 -7.4M481.25 125.96l7.4 7.4M481.25 133.36l7.4 -7.4M484.29 125.1l7.4 7.4M484.29 132.5l7.4 -7.4M487.23 126.54l7.4 7.4M487.23 133.94l7.4 -7.4M490.06 123.4l7.4 7.4M490.06 130.8l7.4 -7.4M492.81 124.84l7.4 7.4M492.81 132.24l7.4 -7.4M495.48 122.31l7.4 7.4M495.48 129.71l7.4 -7.4M498.06 122.38l7.4 7.4M498.06 129.78l7.4 -7.4M500.57 122.84l7.4 7.4M500.57 130.24l7.4 -7.4M503.01 121.65l7.4 7.4M503.01 129.05l7.4 -7.4M505.39 118.99l7.4 7.4M505.39 126.39l7.4 -7.4M507.7 120.35l7.4 7.4M507.7 127.75l7.4 -7.4M509.95 120.08l7.4 7.4M509.95 127.48l7.4 -7.4M512.14 117.88l7.4 7.4M512.14 125.28l7.4 -7.4M514.28 117.11l7.4 7.4M514.28 124.51l7.4 -7.4M516.36 119.78l7.4 7.4M516.36 127.18l7.4 -7.4M518.4 117.94l7.4 7.4M518.4 125.34l7.4 -7.4M520.39 116.27l7.4 7.4M520.39 123.67l7.4 -7.4M522.34 116.92l7.4 7.4M522.34 124.32l7.4 -7.4M524.24 115.62l7.4 7.4M524.24 123.02l7.4 -7.4M526.1 117.66l7.4 7.4M526.1 125.06l7.4 -7.4M527.93 116.19l7.4 7.4M527.93 123.59l7.4 -7.4M529.71 114.32l7.4 7.4M529.71 121.72l7.4 -7.4M531.46 116.92l7.4 7.4M531.46 124.32l7.4 -7.4M533.18 113.74l7.4 7.4M533.18 121.14l7.4 -7.4M534.86 114.25l7.4 7.4M534.86 121.65l7.4 -7.4M536.51 112.98l7.4 7.4M536.51 120.38l7.4 -7.4M538.13 115.58l7.4 7.4M538.13 122.98l7.4 -7.4M539.72 112.83l7.4 7.4M539.72 120.23l7.4 -7.4M541.28 114.24l7.4 7.4M541.28 121.64l7.4 -7.4M542.81 112.28l7.4 7.4M542.81 119.68l7.4 -7.4M544.31 113.6l7.4 7.4M544.31 121l7.4 -7.4M545.8 114.2l7.4 7.4M545.8 121.6l7.4 -7.4M547.25 113.39l7.4 7.4M547.25 120.79l7.4 -7.4M548.68 112.86l7.4 7.4M548.68 120.26l7.4 -7.4M550.09 112.77l7.4 7.4M550.09 120.17l7.4 -7.4M551.48 112.37l7.4 7.4M551.48 119.77l7.4 -7.4M552.84 112.81l7.4 7.4M552.84 120.21l7.4 -7.4M554.18 110.61l7.4 7.4M554.18 118.01l7.4 -7.4M555.5 111.93l7.4 7.4M555.5 119.33l7.4 -7.4M556.81 110.79l7.4 7.4M556.81 118.19l7.4 -7.4M558.09 113.11l7.4 7.4M558.09 120.51l7.4 -7.4M559.35 113.22l7.4 7.4M559.35 120.62l7.4 -7.4M560.6 109.55l7.4 7.4M560.6 116.95l7.4 -7.4M561.83 109.68l7.4 7.4M561.83 117.08l7.4 -7.4M563.04 111.74l7.4 7.4M563.04 119.14l7.4 -7.4M564.23 111.03l7.4 7.4M564.23 118.43l7.4 -7.4M565.41 108.64l7.4 7.4M565.41 116.04l7.4 -7.4M566.57 111.2l7.4 7.4M566.57 118.6l7.4 -7.4M567.72 111.98l7.4 7.4M567.72 119.38l7.4 -7.4M568.85 109.73l7.4 7.4M568.85 117.13l7.4 -7.4M569.97 109.25l7.4 7.4M569.97 116.65l7.4 -7.4M571.07 109.97l7.4 7.4M571.07 117.37l7.4 -7.4M572.16 111.28l7.4 7.4M572.16 118.68l7.4 -7.4M573.24 108.42l7.4 7.4M573.24 115.82l7.4 -7.4M574.3 108.41l7.4 7.4M574.3 115.81l7.4 -7.4M575.35 107.79l7.4 7.4M575.35 115.19l7.4 -7.4M576.39 109.4l7.4 7.4M576.39 116.8l7.4 -7.4M577.41 108.6l7.4 7.4M577.41 116l7.4 -7.4M578.43 107.59l7.4 7.4M578.43 114.99l7.4 -7.4M579.43 107.97l7.4 7.4M579.43 115.37l7.4 -7.4M580.42 106.4l7.4 7.4M580.42 113.8l7.4 -7.4M581.4 107.36l7.4 7.4M581.4 114.76l7.4 -7.4M582.36 109.9l7.4 7.4M582.36 117.3l7.4 -7.4M583.32 108.21l7.4 7.4M583.32 115.61l7.4 -7.4M584.27 106.93l7.4 7.4M584.27 114.33l7.4 -7.4M585.2 109.47l7.4 7.4M585.2 116.87l7.4 -7.4M586.13 107.1l7.4 7.4M586.13 114.5l7.4 -7.4M587.05 106.6l7.4 7.4M587.05 114l7.4 -7.4M587.95 105.67l7.4 7.4M587.95 113.07l7.4 -7.4M588.85 106.05l7.4 7.4M588.85 113.45l7.4 -7.4M589.74 106.2l7.4 7.4M589.74 113.6l7.4 -7.4M590.62 106.26l7.4 7.4M590.62 113.66l7.4 -7.4M591.49 108.77l7.4 7.4M591.49 116.17l7.4 -7.4M592.35 106.28l7.4 7.4M592.35 113.68l7.4 -7.4M593.2 106.16l7.4 7.4M593.2 113.56l7.4 -7.4M594.05 107.52l7.4 7.4M594.05 114.92l7.4 -7.4M594.88 108.71l7.4 7.4M594.88 116.11l7.4 -7.4M595.71 106.15l7.4 7.4M595.71 113.55l7.4 -7.4M596.53 107.97l7.4 7.4M596.53 115.37l7.4 -7.4M597.35 106.34l7.4 7.4M597.35 113.74l7.4 -7.4M598.15 107.05l7.4 7.4M598.15 114.45l7.4 -7.4M598.95 107.14l7.4 7.4M598.95 114.54l7.4 -7.4M599.74 108.47l7.4 7.4M599.74 115.87l7.4 -7.4M600.52 107.67l7.4 7.4M600.52 115.07l7.4 -7.4M601.3 106.62l7.4 7.4M601.3 114.02l7.4 -7.4M602.07 107.9l7.4 7.4M602.07 115.3l7.4 -7.4M602.83 105.96l7.4 7.4M602.83 113.36l7.4 -7.4M603.59 106.03l7.4 7.4M603.59 113.43l7.4 -7.4M604.34 108.32l7.4 7.4M604.34 115.72l7.4 -7.4M605.08 106.66l7.4 7.4M605.08 114.06l7.4 -7.4M605.82 107.57l7.4 7.4M605.82 114.97l7.4 -7.4M606.55 105.72l7.4 7.4M606.55 113.12l7.4 -7.4M607.28 108.12l7.4 7.4M607.28 115.52l7.4 -7.4M607.99 106.9l7.4 7.4M607.99 114.3l7.4 -7.4M608.71 105.44l7.4 7.4M608.71 112.84l7.4 -7.4M609.41 108.18l7.4 7.4M609.41 115.58l7.4 -7.4M610.12 106.31l7.4 7.4M610.12 113.71l7.4 -7.4M610.81 105.79l7.4 7.4M610.81 113.19l7.4 -7.4M611.5 105.48l7.4 7.4M611.5 112.88l7.4 -7.4M612.19 104.83l7.4 7.4M612.19 112.23l7.4 -7.4M612.86 105.22l7.4 7.4M612.86 112.62l7.4 -7.4M613.54 107.18l7.4 7.4M613.54 114.58l7.4 -7.4M614.21 104.96l7.4 7.4M614.21 112.36l7.4 -7.4M614.87 105.43l7.4 7.4M614.87 112.83l7.4 -7.4M615.53 106.18l7.4 7.4M615.53 113.58l7.4 -7.4M616.18 106.56l7.4 7.4M616.18 113.96l7.4 -7.4M616.83 105.9l7.4 7.4M616.83 113.3l7.4 -7.4M617.48 107.51l7.4 7.4M617.48 114.91l7.4 -7.4M618.11 105.4l7.4 7.4M618.11 112.8l7.4 -7.4M618.75 105.84l7.4 7.4M618.75 113.24l7.4 -7.4M619.38 106.06l7.4 7.4M619.38 113.46l7.4 -7.4M620 104.87l7.4 7.4M620 112.27l7.4 -7.4M620.63 105.24l7.4 7.4M620.63 112.64l7.4 -7.4M621.24 104.93l7.4 7.4M621.24 112.33l7.4 -7.4M621.85 107.24l7.4 7.4M621.85 114.64l7.4 -7.4M622.46 104.92l7.4 7.4M622.46 112.32l7.4 -7.4M623.06 107l7.4 7.4M623.06 114.4l7.4 -7.4M623.66 105.21l7.4 7.4M623.66 112.61l7.4 -7.4M624.26 106.9l7.4 7.4M624.26 114.3l7.4 -7.4M624.85 106.94l7.4 7.4M624.85 114.34l7.4 -7.4M625.44 105.72l7.4 7.4M625.44 113.12l7.4 -7.4M626.02 108.03l7.4 7.4M626.02 115.43l7.4 -7.4M626.6 106.93l7.4 7.4M626.6 114.33l7.4 -7.4M627.18 106.53l7.4 7.4M627.18 113.93l7.4 -7.4M627.75 104.49l7.4 7.4M627.75 111.89l7.4 -7.4M628.31 105.93l7.4 7.4M628.31 113.33l7.4 -7.4M628.88 105.36l7.4 7.4M628.88 112.76l7.4 -7.4M629.44 106.18l7.4 7.4M629.44 113.58l7.4 -7.4M630 108.03l7.4 7.4M630 115.43l7.4 -7.4M630.55 107.76l7.4 7.4M630.55 115.16l7.4 -7.4M631.1 104.55l7.4 7.4M631.1 111.95l7.4 -7.4M631.65 107.02l7.4 7.4M631.65 114.42l7.4 -7.4M632.19 108.04l7.4 7.4M632.19 115.44l7.4 -7.4M632.73 106.47l7.4 7.4M632.73 113.87l7.4 -7.4M633.26 104.69l7.4 7.4M633.26 112.09l7.4 -7.4M633.8 107.77l7.4 7.4M633.8 115.17l7.4 -7.4M634.33 106.01l7.4 7.4M634.33 113.41l7.4 -7.4M634.85 108.22l7.4 7.4M634.85 115.62l7.4 -7.4M635.38 107.8l7.4 7.4M635.38 115.2l7.4 -7.4M635.9 107.62l7.4 7.4M635.9 115.02l7.4 -7.4M636.41 108.02l7.4 7.4M636.41 115.42l7.4 -7.4M636.93 104.57l7.4 7.4M636.93 111.97l7.4 -7.4M637.44 107.48l7.4 7.4M637.44 114.88l7.4 -7.4M637.95 105.52l7.4 7.4M637.95 112.92l7.4 -7.4M638.45 104.84l7.4 7.4M638.45 112.24l7.4 -7.4M638.95 105.82l7.4 7.4M638.95 113.22l7.4 -7.4M639.45 106.66l7.4 7.4M639.45 114.06l7.4 -7.4M639.95 104.32l7.4 7.4M639.95 111.72l7.4 -7.4M640.44 106.1l7.4 7.4M640.44 113.5l7.4 -7.4M640.93 107.44l7.4 7.4M640.93 114.84l7.4 -7.4M641.42 106.28l7.4 7.4M641.42 113.68l7.4 -7.4M641.91 106.41l7.4 7.4M641.91 113.81l7.4 -7.4M642.39 105.49l7.4 7.4M642.39 112.89l7.4 -7.4M642.87 108.19l7.4 7.4M642.87 115.59l7.4 -7.4M643.35 105.29l7.4 7.4M643.35 112.69l7.4 -7.4M643.82 107.02l7.4 7.4M643.82 114.42l7.4 -7.4M644.29 106.88l7.4 7.4M644.29 114.28l7.4 -7.4M644.76 104.3l7.4 7.4M644.76 111.7l7.4 -7.4M645.23 108.29l7.4 7.4M645.23 115.69l7.4 -7.4M645.69 105.24l7.4 7.4M645.69 112.64l7.4 -7.4M646.15 108.26l7.4 7.4M646.15 115.66l7.4 -7.4M646.61 108.01l7.4 7.4M646.61 115.41l7.4 -7.4M647.07 107.9l7.4 7.4M647.07 115.3l7.4 -7.4M647.53 107.72l7.4 7.4M647.53 115.12l7.4 -7.4M647.98 105.89l7.4 7.4M647.98 113.29l7.4 -7.4M648.43 106.08l7.4 7.4M648.43 113.48l7.4 -7.4M648.87 105.68l7.4 7.4M648.87 113.08l7.4 -7.4M649.32 108.04l7.4 7.4M649.32 115.44l7.4 -7.4M649.76 104.42l7.4 7.4M649.76 111.82l7.4 -7.4M650.2 104.85l7.4 7.4M650.2 112.25l7.4 -7.4M650.64 108.13l7.4 7.4M650.64 115.53l7.4 -7.4M651.08 107.53l7.4 7.4M651.08 114.93l7.4 -7.4" stroke="#800080" stroke-width="1.8" fill="none"/>
<path d="M322.41 575.9 L382.44 485.3 L417.55 437.53 L442.46 402.89 L461.79 375.58 L477.58 348.54 L490.93 328.71 L502.49 311.57 L512.69 298.85 L521.81 286.68 L530.07 271.66 L537.6 260.8 L544.53 253.21 L550.95 243.11 L556.93 233.6 L562.51 225.71 L567.76 218.2 L572.71 212.57 L577.4 204.54 L581.84 197.16 L586.06 189.9 L590.09 186.27 L593.94 179.8 L597.63 174.04 L601.16 170.27 L604.56 165.88 L607.83 160.54 L610.98 158.04 L614.01 154.2 L616.95 152.24 L619.79 150.92 L622.54 147.47 L625.2 144.33 L627.79 143.78 L630.3 142.14 L632.74 138.37 L635.11 138.5 L637.42 133.42 L639.67 132.37 L641.86 131.01 L644 132.63 L646.09 130.43 L648.13 129.35 L650.12 126.45 L652.06 126.13 L653.97 126.58 L655.83 122.68 L657.65 122.23 L659.44 121.45 L661.19 122.64 L662.9 123.64 L664.58 122.04 L666.23 120.99 L667.85 120.97 L669.44 119.26 L671 121.92 L672.53 119.14 L674.04 118.34 L675.52 118.35 L676.98 120.11 L678.41 117.8 L679.82 119.87 L681.2 117.32 L682.56 117.57 L683.91 116.1 L685.23 119.43 L686.53 118.98 L687.81 117.7 L689.08 116.26 L690.33 117.77 L691.55 117.3 L692.76 119.16 L693.96 119.51 L695.14 118.76 L696.3 116.95 L697.45 115.97 L698.58 119.38 L699.7 119.58 L700.8 116.45 L701.89 117.87 L702.96 117.85 L704.03 119.89 L705.08 116.2 L706.11 116.33 L707.14 119.51 L708.15 118.46 L709.15 118.08 L710.14 119.39 L711.12 118.7 L712.09 119.15 L713.05 117.45 L713.99 116.81 L714.93 116.55 L715.85 117.9 L716.77 119.2 L717.68 118.17 L718.57 118.09 L719.46 119.13 L720.34 119.44 L721.21 118.95 L722.07 117.78 L722.93 119.77 L723.77 119.65 L724.61 119.98 L725.44 119.93 L726.26 116.38 L727.07 118.96 L727.88 117.64 L728.68 117.76 L729.47 118.24 L730.25 116.7 L731.03 117.09 L731.8 120 L732.56 117.34 L733.32 119.63 L734.07 118.68 L734.81 117.16 L735.55 117.14 L736.28 118.25 L737 118.6 L737.72 117.12 L738.43 115.96 L739.14 116.38 L739.84 119.1 L740.54 118.54 L741.23 116.02 L741.91 118.89 L742.59 117.82 L743.26 116.82 L743.93 119.03 L744.6 115.93 L745.26 115.78 L745.91 116.73 L746.56 118.27 L747.2 117.48 L747.84 117.2 L748.47 118.85 L749.1 116.77 L749.73 118.32 L750.35 115.15 L750.97 118.24 L751.58 115.7 L752.19 117.67 L752.79 118.37 L753.39 117.61 L753.98 117.27 L754.58 117.13 L755.16 117.9 L755.75 116.36 L756.33 115.81 L756.9 117.09 L757.47 116.93 L758.04 115.3 L758.6 116.94 L759.16 116.68 L759.72 115.42 L760.27 117.62 L760.82 117.89 L761.37 116.12 L761.91 118.21 L762.45 118.69 L762.99 117.38 L763.52 116.35 L764.05 115.79 L764.58 115.21 L765.1 115.77 L765.62 118.67 L766.14 114.9 L766.65 118.31 L767.16 117.43 L767.67 117.76 L768.18 115.01 L768.68 117.19 L769.18 115.41 L769.67 117.29 L770.17 117.75 L770.66 117.45 L771.15 116.69 L771.63 118.08 L772.11 115.45 L772.59 115.15 L773.07 117.97 L773.55 114.72 L774.02 116.14 L774.49 116.13 L774.95 117.93 L775.42 115.89 L775.88 116.65 L776.34 116.36 L776.8 116.25 L777.25 116.2 L777.7 116.16 L778.15 116.65 L778.6 115.97 L779.05 115.91 L779.49 117.89 L779.93 118.08 L780.37 115.14 L780.8 117.92" stroke="#0000ff" stroke-width="1.9" fill="none" stroke-linejoin="round"/>
<path d="M318.71 572.2l7.4 7.4M318.71 579.6l7.4 -7.4M378.74 481.6l7.4 7.4M378.74 489l7.4 -7.4M413.85 433.83l7.4 7.4M413.85 441.23l7.4 -7.4M438.76 399.19l7.4 7.4M438.76 406.59l7.4 -7.4M458.09 371.88l7.4 7.4M458.09 379.28l7.4 -7.4M473.88 344.84l7.4 7.4M473.88 352.24l7.4 -7.4M487.23 325.01l7.4 7.4M487.23 332.41l7.4 -7.4M498.79 307.87l7.4 7.4M498.79 315.27l7.4 -7.4M508.99 295.15l7.4 7.4M508.99 302.55l7.4 -7.4M518.11 282.98l7.4 7.4M518.11 290.38l7.4 -7.4M526.37 267.96l7.4 7.4M526.37 275.36l7.4 -7.4M533.9 257.1l7.4 7.4M533.9 264.5l7.4 -7.4M540.83 249.51l7.4 7.4M540.83 256.91l7.4 -7.4M547.25 239.41l7.4 7.4M547.25 246.81l7.4 -7.4M553.23 229.9l7.4 7.4M553.23 237.3l7.4 -7.4M558.81 222.01l7.4 7.4M558.81 229.41l7.4 -7.4M564.06 214.5l7.4 7.4M564.06 221.9l7.4 -7.4M569.01 208.87l7.4 7.4M569.01 216.27l7.4 -7.4M573.7 200.84l7.4 7.4M573.7 208.24l7.4 -7.4M578.14 193.46l7.4 7.4M578.14 200.86l7.4 -7.4M582.36 186.2l7.4 7.4M582.36 193.6l7.4 -7.4M586.39 182.57l7.4 7.4M586.39 189.97l7.4 -7.4M590.24 176.1l7.4 7.4M590.24 183.5l7.4 -7.4M593.93 170.34l7.4 7.4M593.93 177.74l7.4 -7.4M597.46 166.57l7.4 7.4M597.46 173.97l7.4 -7.4M600.86 162.18l7.4 7.4M600.86 169.58l7.4 -7.4M604.13 156.84l7.4 7.4M604.13 164.24l7.4 -7.4M607.28 154.34l7.4 7.4M607.28 161.74l7.4 -7.4M610.31 150.5l7.4 7.4M610.31 157.9l7.4 -7.4M613.25 148.54l7.4 7.4M613.25 155.94l7.4 -7.4M616.09 147.22l7.4 7.4M616.09 154.62l7.4 -7.4M618.84 143.77l7.4 7.4M618.84 151.17l7.4 -7.4M621.5 140.63l7.4 7.4M621.5 148.03l7.4 -7.4M624.09 140.08l7.4 7.4M624.09 147.48l7.4 -7.4M626.6 138.44l7.4 7.4M626.6 145.84l7.4 -7.4M629.04 134.67l7.4 7.4M629.04 142.07l7.4 -7.4M631.41 134.8l7.4 7.4M631.41 142.2l7.4 -7.4M633.72 129.72l7.4 7.4M633.72 137.12l7.4 -7.4M635.97 128.67l7.4 7.4M635.97 136.07l7.4 -7.4M638.16 127.31l7.4 7.4M638.16 134.71l7.4 -7.4M640.3 128.93l7.4 7.4M640.3 136.33l7.4 -7.4M642.39 126.73l7.4 7.4M642.39 134.13l7.4 -7.4M644.43 125.65l7.4 7.4M644.43 133.05l7.4 -7.4M646.42 122.75l7.4 7.4M646.42 130.15l7.4 -7.4M648.36 122.43l7.4 7.4M648.36 129.83l7.4 -7.4M650.27 122.88l7.4 7.4M650.27 130.28l7.4 -7.4M652.13 118.98l7.4 7.4M652.13 126.38l7.4 -7.4M653.95 118.53l7.4 7.4M653.95 125.93l7.4 -7.4M655.74 117.75l7.4 7.4M655.74 125.15l7.4 -7.4M657.49 118.94l7.4 7.4M657.49 126.34l7.4 -7.4M659.2 119.94l7.4 7.4M659.2 127.34l7.4 -7.4M660.88 118.34l7.4 7.4M660.88 125.74l7.4 -7.4M662.53 117.29l7.4 7.4M662.53 124.69l7.4 -7.4M664.15 117.27l7.4 7.4M664.15 124.67l7.4 -7.4M665.74 115.56l7.4 7.4M665.74 122.96l7.4 -7.4M667.3 118.22l7.4 7.4M667.3 125.62l7.4 -7.4M668.83 115.44l7.4 7.4M668.83 122.84l7.4 -7.4M670.34 114.64l7.4 7.4M670.34 122.04l7.4 -7.4M671.82 114.65l7.4 7.4M671.82 122.05l7.4 -7.4M673.28 116.41l7.4 7.4M673.28 123.81l7.4 -7.4M674.71 114.1l7.4 7.4M674.71 121.5l7.4 -7.4M676.12 116.17l7.4 7.4M676.12 123.57l7.4 -7.4M677.5 113.62l7.4 7.4M677.5 121.02l7.4 -7.4M678.86 113.87l7.4 7.4M678.86 121.27l7.4 -7.4M680.21 112.4l7.4 7.4M680.21 119.8l7.4 -7.4M681.53 115.73l7.4 7.4M681.53 123.13l7.4 -7.4M682.83 115.28l7.4 7.4M682.83 122.68l7.4 -7.4M684.11 114l7.4 7.4M684.11 121.4l7.4 -7.4M685.38 112.56l7.4 7.4M685.38 119.96l7.4 -7.4M686.63 114.07l7.4 7.4M686.63 121.47l7.4 -7.4M687.85 113.6l7.4 7.4M687.85 121l7.4 -7.4M689.06 115.46l7.4 7.4M689.06 122.86l7.4 -7.4M690.26 115.81l7.4 7.4M690.26 123.21l7.4 -7.4M691.44 115.06l7.4 7.4M691.44 122.46l7.4 -7.4M692.6 113.25l7.4 7.4M692.6 120.65l7.4 -7.4M693.75 112.27l7.4 7.4M693.75 119.67l7.4 -7.4M694.88 115.68l7.4 7.4M694.88 123.08l7.4 -7.4M696 115.88l7.4 7.4M696 123.28l7.4 -7.4M697.1 112.75l7.4 7.4M697.1 120.15l7.4 -7.4M698.19 114.17l7.4 7.4M698.19 121.57l7.4 -7.4M699.26 114.15l7.4 7.4M699.26 121.55l7.4 -7.4M700.33 116.19l7.4 7.4M700.33 123.59l7.4 -7.4M701.38 112.5l7.4 7.4M701.38 119.9l7.4 -7.4M702.41 112.63l7.4 7.4M702.41 120.03l7.4 -7.4M703.44 115.81l7.4 7.4M703.44 123.21l7.4 -7.4M704.45 114.76l7.4 7.4M704.45 122.16l7.4 -7.4M705.45 114.38l7.4 7.4M705.45 121.78l7.4 -7.4M706.44 115.69l7.4 7.4M706.44 123.09l7.4 -7.4M707.42 115l7.4 7.4M707.42 122.4l7.4 -7.4M708.39 115.45l7.4 7.4M708.39 122.85l7.4 -7.4M709.35 113.75l7.4 7.4M709.35 121.15l7.4 -7.4M710.29 113.11l7.4 7.4M710.29 120.51l7.4 -7.4M711.23 112.85l7.4 7.4M711.23 120.25l7.4 -7.4M712.15 114.2l7.4 7.4M712.15 121.6l7.4 -7.4M713.07 115.5l7.4 7.4M713.07 122.9l7.4 -7.4M713.98 114.47l7.4 7.4M713.98 121.87l7.4 -7.4M714.87 114.39l7.4 7.4M714.87 121.79l7.4 -7.4M715.76 115.43l7.4 7.4M715.76 122.83l7.4 -7.4M716.64 115.74l7.4 7.4M716.64 123.14l7.4 -7.4M717.51 115.25l7.4 7.4M717.51 122.65l7.4 -7.4M718.37 114.08l7.4 7.4M718.37 121.48l7.4 -7.4M719.23 116.07l7.4 7.4M719.23 123.47l7.4 -7.4M720.07 115.95l7.4 7.4M720.07 123.35l7.4 -7.4M720.91 116.28l7.4 7.4M720.91 123.68l7.4 -7.4M721.74 116.23l7.4 7.4M721.74 123.63l7.4 -7.4M722.56 112.68l7.4 7.4M722.56 120.08l7.4 -7.4M723.37 115.26l7.4 7.4M723.37 122.66l7.4 -7.4M724.18 113.94l7.4 7.4M724.18 121.34l7.4 -7.4M724.98 114.06l7.4 7.4M724.98 121.46l7.4 -7.4M725.77 114.54l7.4 7.4M725.77 121.94l7.4 -7.4M726.55 113l7.4 7.4M726.55 120.4l7.4 -7.4M727.33 113.39l7.4 7.4M727.33 120.79l7.4 -7.4M728.1 116.3l7.4 7.4M728.1 123.7l7.4 -7.4M728.86 113.64l7.4 7.4M728.86 121.04l7.4 -7.4M729.62 115.93l7.4 7.4M729.62 123.33l7.4 -7.4M730.37 114.98l7.4 7.4M730.37 122.38l7.4 -7.4M731.11 113.46l7.4 7.4M731.11 120.86l7.4 -7.4M731.85 113.44l7.4 7.4M731.85 120.84l7.4 -7.4M732.58 114.55l7.4 7.4M732.58 121.95l7.4 -7.4M733.3 114.9l7.4 7.4M733.3 122.3l7.4 -7.4M734.02 113.42l7.4 7.4M734.02 120.82l7.4 -7.4M734.73 112.26l7.4 7.4M734.73 119.66l7.4 -7.4M735.44 112.68l7.4 7.4M735.44 120.08l7.4 -7.4M736.14 115.4l7.4 7.4M736.14 122.8l7.4 -7.4M736.84 114.84l7.4 7.4M736.84 122.24l7.4 -7.4M737.53 112.32l7.4 7.4M737.53 119.72l7.4 -7.4M738.21 115.19l7.4 7.4M738.21 122.59l7.4 -7.4M738.89 114.12l7.4 7.4M738.89 121.52l7.4 -7.4M739.56 113.12l7.4 7.4M739.56 120.52l7.4 -7.4M740.23 115.33l7.4 7.4M740.23 122.73l7.4 -7.4M740.9 112.23l7.4 7.4M740.9 119.63l7.4 -7.4M741.56 112.08l7.4 7.4M741.56 119.48l7.4 -7.4M742.21 113.03l7.4 7.4M742.21 120.43l7.4 -7.4M742.86 114.57l7.4 7.4M742.86 121.97l7.4 -7.4M743.5 113.78l7.4 7.4M743.5 121.18l7.4 -7.4M744.14 113.5l7.4 7.4M744.14 120.9l7.4 -7.4M744.77 115.15l7.4 7.4M744.77 122.55l7.4 -7.4M745.4 113.07l7.4 7.4M745.4 120.47l7.4 -7.4M746.03 114.62l7.4 7.4M746.03 122.02l7.4 -7.4M746.65 111.45l7.4 7.4M746.65 118.85l7.4 -7.4M747.27 114.54l7.4 7.4M747.27 121.94l7.4 -7.4M747.88 112l7.4 7.4M747.88 119.4l7.4 -7.4M748.49 113.97l7.4 7.4M748.49 121.37l7.4 -7.4M749.09 114.67l7.4 7.4M749.09 122.07l7.4 -7.4M749.69 113.91l7.4 7.4M749.69 121.31l7.4 -7.4M750.28 113.57l7.4 7.4M750.28 120.97l7.4 -7.4M750.88 113.43l7.4 7.4M750.88 120.83l7.4 -7.4M751.46 114.2l7.4 7.4M751.46 121.6l7.4 -7.4M752.05 112.66l7.4 7.4M752.05 120.06l7.4 -7.4M752.63 112.11l7.4 7.4M752.63 119.51l7.4 -7.4M753.2 113.39l7.4 7.4M753.2 120.79l7.4 -7.4M753.77 113.23l7.4 7.4M753.77 120.63l7.4 -7.4M754.34 111.6l7.4 7.4M754.34 119l7.4 -7.4M754.9 113.24l7.4 7.4M754.9 120.64l7.4 -7.4M755.46 112.98l7.4 7.4M755.46 120.38l7.4 -7.4M756.02 111.72l7.4 7.4M756.02 119.12l7.4 -7.4M756.57 113.92l7.4 7.4M756.57 121.32l7.4 -7.4M757.12 114.19l7.4 7.4M757.12 121.59l7.4 -7.4M757.67 112.42l7.4 7.4M757.67 119.82l7.4 -7.4M758.21 114.51l7.4 7.4M758.21 121.91l7.4 -7.4M758.75 114.99l7.4 7.4M758.75 122.39l7.4 -7.4M759.29 113.68l7.4 7.4M759.29 121.08l7.4 -7.4M759.82 112.65l7.4 7.4M759.82 120.05l7.4 -7.4M760.35 112.09l7.4 7.4M760.35 119.49l7.4 -7.4M760.88 111.51l7.4 7.4M760.88 118.91l7.4 -7.4M761.4 112.07l7.4 7.4M761.4 119.47l7.4 -7.4M761.92 114.97l7.4 7.4M761.92 122.37l7.4 -7.4M762.44 111.2l7.4 7.4M762.44 118.6l7.4 -7.4M762.95 114.61l7.4 7.4M762.95 122.01l7.4 -7.4M763.46 113.73l7.4 7.4M763.46 121.13l7.4 -7.4M763.97 114.06l7.4 7.4M763.97 121.46l7.4 -7.4M764.48 111.31l7.4 7.4M764.48 118.71l7.4 -7.4M764.98 113.49l7.4 7.4M764.98 120.89l7.4 -7.4M765.48 111.71l7.4 7.4M765.48 119.11l7.4 -7.4M765.97 113.59l7.4 7.4M765.97 120.99l7.4 -7.4M766.47 114.05l7.4 7.4M766.47 121.45l7.4 -7.4M766.96 113.75l7.4 7.4M766.96 121.15l7.4 -7.4M767.45 112.99l7.4 7.4M767.45 120.39l7.4 -7.4M767.93 114.38l7.4 7.4M767.93 121.78l7.4 -7.4M768.41 111.75l7.4 7.4M768.41 119.15l7.4 -7.4M768.89 111.45l7.4 7.4M768.89 118.85l7.4 -7.4M769.37 114.27l7.4 7.4M769.37 121.67l7.4 -7.4M769.85 111.02l7.4 7.4M769.85 118.42l7.4 -7.4M770.32 112.44l7.4 7.4M770.32 119.84l7.4 -7.4M770.79 112.43l7.4 7.4M770.79 119.83l7.4 -7.4M771.25 114.23l7.4 7.4M771.25 121.63l7.4 -7.4M771.72 112.19l7.4 7.4M771.72 119.59l7.4 -7.4M772.18 112.95l7.4 7.4M772.18 120.35l7.4 -7.4M772.64 112.66l7.4 7.4M772.64 120.06l7.4 -7.4M773.1 112.55l7.4 7.4M773.1 119.95l7.4 -7.4M773.55 112.5l7.4 7.4M773.55 119.9l7.4 -7.4M774 112.46l7.4 7.4M774 119.86l7.4 -7.4M774.45 112.95l7.4 7.4M774.45 120.35l7.4 -7.4M774.9 112.27l7.4 7.4M774.9 119.67l7.4 -7.4M775.35 112.21l7.4 7.4M775.35 119.61l7.4 -7.4M775.79 114.19l7.4 7.4M775.79 121.59l7.4 -7.4M776.23 114.38l7.4 7.4M776.23 121.78l7.4 -7.4M776.67 111.44l7.4 7.4M776.67 118.84l7.4 -7.4M777.1 114.22l7.4 7.4M777.1 121.62l7.4 -7.4" stroke="#0000ff" stroke-width="1.8" fill="none"/>
<path d="M382.44 636.7 L442.46 550.5 L477.58 516.81 L502.49 491.91 L521.81 470.49 L537.6 454.99 L550.95 437.47 L562.51 425.03 L572.71 412.57 L581.84 400.74 L590.09 387.33 L597.63 375.19 L604.56 365.45 L610.98 357.38 L616.95 345.89 L622.54 336.28 L627.79 326.82 L632.74 316.04 L637.42 311.5 L641.86 305.77 L646.09 298.97 L650.12 290.18 L653.97 284.63 L657.65 279.88 L661.19 273.99 L664.58 269.04 L667.85 263.08 L671 256.6 L674.04 252.29 L676.98 245.22 L679.82 240.51 L682.56 236.49 L685.23 232.94 L687.81 226.05 L690.33 220.75 L692.76 219.97 L695.14 215.33 L697.45 211.2 L699.7 206.96 L701.89 202.7 L704.03 199.32 L706.11 196.92 L708.15 194.68 L710.14 191.01 L712.09 191.5 L713.99 189.61 L715.85 184.79 L717.68 186.19 L719.46 182.9 L721.21 182.77 L722.93 179.26 L724.61 178.85 L726.26 175.82 L727.88 174.83 L729.47 172.77 L731.03 169.29 L732.56 168.23 L734.07 167.07 L735.55 166.41 L737 165.17 L738.43 164.77 L739.84 164.18 L741.23 162.1 L742.59 160.75 L743.93 160.5 L745.26 161.27 L746.56 159.8 L747.84 158.74 L749.1 158.86 L750.35 155.98 L751.58 154.95 L752.79 154.41 L753.98 154.02 L755.16 153.07 L756.33 155.04 L757.47 155.74 L758.6 152.06 L759.72 153.89 L760.82 154.46 L761.91 153.31 L762.99 150.42 L764.05 151.93 L765.1 149.97 L766.14 149.23 L767.16 148.15 L768.18 149.87 L769.18 151.31 L770.17 147.92 L771.15 147.97 L772.11 148.8 L773.07 147.28 L774.02 148.86 L774.95 149.8 L775.88 148.6 L776.8 146.8 L777.7 146.65 L778.6 147.2 L779.49 148.96 L780.37 149.88 L781.24 148.08 L782.1 146.37 L782.95 146.81 L783.8 147.69 L784.63 146.54 L785.46 146.66 L786.28 148.01 L787.1 149.72 L787.9 147.38 L788.7 150.05 L789.49 150.1 L790.28 148.4 L791.05 147.65 L791.82 147.56 L792.58 149.57 L793.34 150.27 L794.09 150.49 L794.83 147.95 L795.57 148.9 L796.3 147.35 L797.03 148.56 L797.75 148.59 L798.46 147.97 L799.17 147.85 L799.87 151.59 L800.56 148.91 L801.25 149.84 L801.94 150.15 L802.62 150.07 L803.29 150.71 L803.96 150.54 L804.62 150.66 L805.28 149.18 L805.93 151.56 L806.58 151.87 L807.23 152.25 L807.87 150.77 L808.5 151.53 L809.13 153.06 L809.76 152.91 L810.38 150.36 L810.99 151.65 L811.6 151.15 L812.21 153.46 L812.82 152.38 L813.41 152.49 L814.01 151.96 L814.6 153.04 L815.19 154.25 L815.77 153.77 L816.35 151.93 L816.93 152.43 L817.5 153.15 L818.07 150.69 L818.63 153.89 L819.19 150.18 L819.75 152.4 L820.3 150.31 L820.85 153.36 L821.4 152.12 L821.94 150.06 L822.48 151 L823.02 152.19 L823.55 152.04 L824.08 151.1 L824.6 150.82 L825.13 151.06 L825.65 151.58 L826.16 149.8 L826.68 150.18 L827.19 150.94 L827.7 149.82 L828.2 148.68 L828.7 150.15 L829.2 149.26 L829.7 150.74 L830.19 150.91 L830.68 151.57 L831.17 148.4 L831.66 148.08 L832.14 151.75 L832.62 150.97 L833.1 152.06 L833.57 151.35 L834.04 151.94 L834.51 148.77 L834.98 148.92 L835.44 150.65 L835.91 151.26 L836.36 148.72 L836.82 152.07 L837.28 149.22 L837.73 149.14 L838.18 150.1 L838.63 149.11 L839.07 148.76 L839.51 148.74 L839.95 148.58 L840.39 149.08 L840.83 151.22 L841.26 151.64 L841.7 151.64 L842.13 150.24" stroke="#008000" stroke-width="1.9" fill="none" stroke-linejoin="round"/>
<path d="M378.74 633l7.4 7.4M378.74 640.4l7.4 -7.4M438.76 546.8l7.4 7.4M438.76 554.2l7.4 -7.4M473.88 513.11l7.4 7.4M473.88 520.51l7.4 -7.4M498.79 488.21l7.4 7.4M498.79 495.61l7.4 -7.4M518.11 466.79l7.4 7.4M518.11 474.19l7.4 -7.4M533.9 451.29l7.4 7.4M533.9 458.69l7.4 -7.4M547.25 433.77l7.4 7.4M547.25 441.17l7.4 -7.4M558.81 421.33l7.4 7.4M558.81 428.73l7.4 -7.4M569.01 408.87l7.4 7.4M569.01 416.27l7.4 -7.4M578.14 397.04l7.4 7.4M578.14 404.44l7.4 -7.4M586.39 383.63l7.4 7.4M586.39 391.03l7.4 -7.4M593.93 371.49l7.4 7.4M593.93 378.89l7.4 -7.4M600.86 361.75l7.4 7.4M600.86 369.15l7.4 -7.4M607.28 353.68l7.4 7.4M607.28 361.08l7.4 -7.4M613.25 342.19l7.4 7.4M613.25 349.59l7.4 -7.4M618.84 332.58l7.4 7.4M618.84 339.98l7.4 -7.4M624.09 323.12l7.4 7.4M624.09 330.52l7.4 -7.4M629.04 312.34l7.4 7.4M629.04 319.74l7.4 -7.4M633.72 307.8l7.4 7.4M633.72 315.2l7.4 -7.4M638.16 302.07l7.4 7.4M638.16 309.47l7.4 -7.4M642.39 295.27l7.4 7.4M642.39 302.67l7.4 -7.4M646.42 286.48l7.4 7.4M646.42 293.88l7.4 -7.4M650.27 280.93l7.4 7.4M650.27 288.33l7.4 -7.4M653.95 276.18l7.4 7.4M653.95 283.58l7.4 -7.4M657.49 270.29l7.4 7.4M657.49 277.69l7.4 -7.4M660.88 265.34l7.4 7.4M660.88 272.74l7.4 -7.4M664.15 259.38l7.4 7.4M664.15 266.78l7.4 -7.4M667.3 252.9l7.4 7.4M667.3 260.3l7.4 -7.4M670.34 248.59l7.4 7.4M670.34 255.99l7.4 -7.4M673.28 241.52l7.4 7.4M673.28 248.92l7.4 -7.4M676.12 236.81l7.4 7.4M676.12 244.21l7.4 -7.4M678.86 232.79l7.4 7.4M678.86 240.19l7.4 -7.4M681.53 229.24l7.4 7.4M681.53 236.64l7.4 -7.4M684.11 222.35l7.4 7.4M684.11 229.75l7.4 -7.4M686.63 217.05l7.4 7.4M686.63 224.45l7.4 -7.4M689.06 216.27l7.4 7.4M689.06 223.67l7.4 -7.4M691.44 211.63l7.4 7.4M691.44 219.03l7.4 -7.4M693.75 207.5l7.4 7.4M693.75 214.9l7.4 -7.4M696 203.26l7.4 7.4M696 210.66l7.4 -7.4M698.19 199l7.4 7.4M698.19 206.4l7.4 -7.4M700.33 195.62l7.4 7.4M700.33 203.02l7.4 -7.4M702.41 193.22l7.4 7.4M702.41 200.62l7.4 -7.4M704.45 190.98l7.4 7.4M704.45 198.38l7.4 -7.4M706.44 187.31l7.4 7.4M706.44 194.71l7.4 -7.4M708.39 187.8l7.4 7.4M708.39 195.2l7.4 -7.4M710.29 185.91l7.4 7.4M710.29 193.31l7.4 -7.4M712.15 181.09l7.4 7.4M712.15 188.49l7.4 -7.4M713.98 182.49l7.4 7.4M713.98 189.89l7.4 -7.4M715.76 179.2l7.4 7.4M715.76 186.6l7.4 -7.4M717.51 179.07l7.4 7.4M717.51 186.47l7.4 -7.4M719.23 175.56l7.4 7.4M719.23 182.96l7.4 -7.4M720.91 175.15l7.4 7.4M720.91 182.55l7.4 -7.4M722.56 172.12l7.4 7.4M722.56 179.52l7.4 -7.4M724.18 171.13l7.4 7.4M724.18 178.53l7.4 -7.4M725.77 169.07l7.4 7.4M725.77 176.47l7.4 -7.4M727.33 165.59l7.4 7.4M727.33 172.99l7.4 -7.4M728.86 164.53l7.4 7.4M728.86 171.93l7.4 -7.4M730.37 163.37l7.4 7.4M730.37 170.77l7.4 -7.4M731.85 162.71l7.4 7.4M731.85 170.11l7.4 -7.4M733.3 161.47l7.4 7.4M733.3 168.87l7.4 -7.4M734.73 161.07l7.4 7.4M734.73 168.47l7.4 -7.4M736.14 160.48l7.4 7.4M736.14 167.88l7.4 -7.4M737.53 158.4l7.4 7.4M737.53 165.8l7.4 -7.4M738.89 157.05l7.4 7.4M738.89 164.45l7.4 -7.4M740.23 156.8l7.4 7.4M740.23 164.2l7.4 -7.4M741.56 157.57l7.4 7.4M741.56 164.97l7.4 -7.4M742.86 156.1l7.4 7.4M742.86 163.5l7.4 -7.4M744.14 155.04l7.4 7.4M744.14 162.44l7.4 -7.4M745.4 155.16l7.4 7.4M745.4 162.56l7.4 -7.4M746.65 152.28l7.4 7.4M746.65 159.68l7.4 -7.4M747.88 151.25l7.4 7.4M747.88 158.65l7.4 -7.4M749.09 150.71l7.4 7.4M749.09 158.11l7.4 -7.4M750.28 150.32l7.4 7.4M750.28 157.72l7.4 -7.4M751.46 149.37l7.4 7.4M751.46 156.77l7.4 -7.4M752.63 151.34l7.4 7.4M752.63 158.74l7.4 -7.4M753.77 152.04l7.4 7.4M753.77 159.44l7.4 -7.4M754.9 148.36l7.4 7.4M754.9 155.76l7.4 -7.4M756.02 150.19l7.4 7.4M756.02 157.59l7.4 -7.4M757.12 150.76l7.4 7.4M757.12 158.16l7.4 -7.4M758.21 149.61l7.4 7.4M758.21 157.01l7.4 -7.4M759.29 146.72l7.4 7.4M759.29 154.12l7.4 -7.4M760.35 148.23l7.4 7.4M760.35 155.63l7.4 -7.4M761.4 146.27l7.4 7.4M761.4 153.67l7.4 -7.4M762.44 145.53l7.4 7.4M762.44 152.93l7.4 -7.4M763.46 144.45l7.4 7.4M763.46 151.85l7.4 -7.4M764.48 146.17l7.4 7.4M764.48 153.57l7.4 -7.4M765.48 147.61l7.4 7.4M765.48 155.01l7.4 -7.4M766.47 144.22l7.4 7.4M766.47 151.62l7.4 -7.4M767.45 144.27l7.4 7.4M767.45 151.67l7.4 -7.4M768.41 145.1l7.4 7.4M768.41 152.5l7.4 -7.4M769.37 143.58l7.4 7.4M769.37 150.98l7.4 -7.4M770.32 145.16l7.4 7.4M770.32 152.56l7.4 -7.4M771.25 146.1l7.4 7.4M771.25 153.5l7.4 -7.4M772.18 144.9l7.4 7.4M772.18 152.3l7.4 -7.4M773.1 143.1l7.4 7.4M773.1 150.5l7.4 -7.4M774 142.95l7.4 7.4M774 150.35l7.4 -7.4M774.9 143.5l7.4 7.4M774.9 150.9l7.4 -7.4M775.79 145.26l7.4 7.4M775.79 152.66l7.4 -7.4M776.67 146.18l7.4 7.4M776.67 153.58l7.4 -7.4M777.54 144.38l7.4 7.4M777.54 151.78l7.4 -7.4M778.4 142.67l7.4 7.4M778.4 150.07l7.4 -7.4M779.25 143.11l7.4 7.4M779.25 150.51l7.4 -7.4M780.1 143.99l7.4 7.4M780.1 151.39l7.4 -7.4M780.93 142.84l7.4 7.4M780.93 150.24l7.4 -7.4M781.76 142.96l7.4 7.4M781.76 150.36l7.4 -7.4M782.58 144.31l7.4 7.4M782.58 151.71l7.4 -7.4M783.4 146.02l7.4 7.4M783.4 153.42l7.4 -7.4M784.2 143.68l7.4 7.4M784.2 151.08l7.4 -7.4M785 146.35l7.4 7.4M785 153.75l7.4 -7.4M785.79 146.4l7.4 7.4M785.79 153.8l7.4 -7.4M786.58 144.7l7.4 7.4M786.58 152.1l7.4 -7.4M787.35 143.95l7.4 7.4M787.35 151.35l7.4 -7.4M788.12 143.86l7.4 7.4M788.12 151.26l7.4 -7.4M788.88 145.87l7.4 7.4M788.88 153.27l7.4 -7.4M789.64 146.57l7.4 7.4M789.64 153.97l7.4 -7.4M790.39 146.79l7.4 7.4M790.39 154.19l7.4 -7.4M791.13 144.25l7.4 7.4M791.13 151.65l7.4 -7.4M791.87 145.2l7.4 7.4M791.87 152.6l7.4 -7.4M792.6 143.65l7.4 7.4M792.6 151.05l7.4 -7.4M793.33 144.86l7.4 7.4M793.33 152.26l7.4 -7.4M794.05 144.89l7.4 7.4M794.05 152.29l7.4 -7.4M794.76 144.27l7.4 7.4M794.76 151.67l7.4 -7.4M795.47 144.15l7.4 7.4M795.47 151.55l7.4 -7.4M796.17 147.89l7.4 7.4M796.17 155.29l7.4 -7.4M796.86 145.21l7.4 7.4M796.86 152.61l7.4 -7.4M797.55 146.14l7.4 7.4M797.55 153.54l7.4 -7.4M798.24 146.45l7.4 7.4M798.24 153.85l7.4 -7.4M798.92 146.37l7.4 7.4M798.92 153.77l7.4 -7.4M799.59 147.01l7.4 7.4M799.59 154.41l7.4 -7.4M800.26 146.84l7.4 7.4M800.26 154.24l7.4 -7.4M800.92 146.96l7.4 7.4M800.92 154.36l7.4 -7.4M801.58 145.48l7.4 7.4M801.58 152.88l7.4 -7.4M802.23 147.86l7.4 7.4M802.23 155.26l7.4 -7.4M802.88 148.17l7.4 7.4M802.88 155.57l7.4 -7.4M803.53 148.55l7.4 7.4M803.53 155.95l7.4 -7.4M804.17 147.07l7.4 7.4M804.17 154.47l7.4 -7.4M804.8 147.83l7.4 7.4M804.8 155.23l7.4 -7.4M805.43 149.36l7.4 7.4M805.43 156.76l7.4 -7.4M806.06 149.21l7.4 7.4M806.06 156.61l7.4 -7.4M806.68 146.66l7.4 7.4M806.68 154.06l7.4 -7.4M807.29 147.95l7.4 7.4M807.29 155.35l7.4 -7.4M807.9 147.45l7.4 7.4M807.9 154.85l7.4 -7.4M808.51 149.76l7.4 7.4M808.51 157.16l7.4 -7.4M809.12 148.68l7.4 7.4M809.12 156.08l7.4 -7.4M809.71 148.79l7.4 7.4M809.71 156.19l7.4 -7.4M810.31 148.26l7.4 7.4M810.31 155.66l7.4 -7.4M810.9 149.34l7.4 7.4M810.9 156.74l7.4 -7.4M811.49 150.55l7.4 7.4M811.49 157.95l7.4 -7.4M812.07 150.07l7.4 7.4M812.07 157.47l7.4 -7.4M812.65 148.23l7.4 7.4M812.65 155.63l7.4 -7.4M813.23 148.73l7.4 7.4M813.23 156.13l7.4 -7.4M813.8 149.45l7.4 7.4M813.8 156.85l7.4 -7.4M814.37 146.99l7.4 7.4M814.37 154.39l7.4 -7.4M814.93 150.19l7.4 7.4M814.93 157.59l7.4 -7.4M815.49 146.48l7.4 7.4M815.49 153.88l7.4 -7.4M816.05 148.7l7.4 7.4M816.05 156.1l7.4 -7.4M816.6 146.61l7.4 7.4M816.6 154.01l7.4 -7.4M817.15 149.66l7.4 7.4M817.15 157.06l7.4 -7.4M817.7 148.42l7.4 7.4M817.7 155.82l7.4 -7.4M818.24 146.36l7.4 7.4M818.24 153.76l7.4 -7.4M818.78 147.3l7.4 7.4M818.78 154.7l7.4 -7.4M819.32 148.49l7.4 7.4M819.32 155.89l7.4 -7.4M819.85 148.34l7.4 7.4M819.85 155.74l7.4 -7.4M820.38 147.4l7.4 7.4M820.38 154.8l7.4 -7.4M820.9 147.12l7.4 7.4M820.9 154.52l7.4 -7.4M821.43 147.36l7.4 7.4M821.43 154.76l7.4 -7.4M821.95 147.88l7.4 7.4M821.95 155.28l7.4 -7.4M822.46 146.1l7.4 7.4M822.46 153.5l7.4 -7.4M822.98 146.48l7.4 7.4M822.98 153.88l7.4 -7.4M823.49 147.24l7.4 7.4M823.49 154.64l7.4 -7.4M824 146.12l7.4 7.4M824 153.52l7.4 -7.4M824.5 144.98l7.4 7.4M824.5 152.38l7.4 -7.4M825 146.45l7.4 7.4M825 153.85l7.4 -7.4M825.5 145.56l7.4 7.4M825.5 152.96l7.4 -7.4M826 147.04l7.4 7.4M826 154.44l7.4 -7.4M826.49 147.21l7.4 7.4M826.49 154.61l7.4 -7.4M826.98 147.87l7.4 7.4M826.98 155.27l7.4 -7.4M827.47 144.7l7.4 7.4M827.47 152.1l7.4 -7.4M827.96 144.38l7.4 7.4M827.96 151.78l7.4 -7.4M828.44 148.05l7.4 7.4M828.44 155.45l7.4 -7.4M828.92 147.27l7.4 7.4M828.92 154.67l7.4 -7.4M829.4 148.36l7.4 7.4M829.4 155.76l7.4 -7.4M829.87 147.65l7.4 7.4M829.87 155.05l7.4 -7.4M830.34 148.24l7.4 7.4M830.34 155.64l7.4 -7.4M830.81 145.07l7.4 7.4M830.81 152.47l7.4 -7.4M831.28 145.22l7.4 7.4M831.28 152.62l7.4 -7.4M831.74 146.95l7.4 7.4M831.74 154.35l7.4 -7.4M832.21 147.56l7.4 7.4M832.21 154.96l7.4 -7.4M832.66 145.02l7.4 7.4M832.66 152.42l7.4 -7.4M833.12 148.37l7.4 7.4M833.12 155.77l7.4 -7.4M833.58 145.52l7.4 7.4M833.58 152.92l7.4 -7.4M834.03 145.44l7.4 7.4M834.03 152.84l7.4 -7.4M834.48 146.4l7.4 7.4M834.48 153.8l7.4 -7.4M834.93 145.41l7.4 7.4M834.93 152.81l7.4 -7.4M835.37 145.06l7.4 7.4M835.37 152.46l7.4 -7.4M835.81 145.04l7.4 7.4M835.81 152.44l7.4 -7.4M836.25 144.88l7.4 7.4M836.25 152.28l7.4 -7.4M836.69 145.38l7.4 7.4M836.69 152.78l7.4 -7.4M837.13 147.52l7.4 7.4M837.13 154.92l7.4 -7.4M837.56 147.94l7.4 7.4M837.56 155.34l7.4 -7.4M838 147.94l7.4 7.4M838 155.34l7.4 -7.4M838.43 146.54l7.4 7.4M838.43 153.94l7.4 -7.4" stroke="#008000" stroke-width="1.8" fill="none"/>
<path d="M461.79 729.14 L521.81 643.04 L556.93 600.83 L581.84 571.62 L601.16 546.38 L616.95 524.44 L630.3 509.65 L641.86 492.17 L652.06 478.35 L661.19 464.24 L669.44 451.4 L676.98 441.72 L683.91 429.84 L690.33 420.66 L696.3 411.23 L701.89 404.04 L707.14 394.6 L712.09 383.58 L716.77 376.55 L721.21 366.19 L725.44 361.67 L729.47 355.23 L733.32 346.38 L737 342.98 L740.54 337.14 L743.93 333.71 L747.2 325.53 L750.35 321.83 L753.39 318.43 L756.33 312.62 L759.16 306.64 L761.91 301.85 L764.58 302.24 L767.16 296.56 L769.67 295.67 L772.11 288.23 L774.49 288.02 L776.8 284.63 L779.05 281.87 L781.24 274.07 L783.38 272.71 L785.46 268.25 L787.5 269.37 L789.49 264.85 L791.44 265.6 L793.34 260.22 L795.2 260 L797.03 258.51 L798.81 253.81 L800.56 254.06 L802.28 254.77 L803.96 251.18 L805.61 248.99 L807.23 247.21 L808.82 248.69 L810.38 244.64 L811.91 245.83 L813.41 244.64 L814.9 243.71 L816.35 240.61 L817.78 242.47 L819.19 242.94 L820.58 238.97 L821.94 238.35 L823.28 240.66 L824.6 238.27 L825.91 236.02 L827.19 234 L828.45 237.23 L829.7 234.49 L830.93 234.48 L832.14 232.85 L833.33 234.23 L834.51 234.38 L835.67 231.86 L836.82 230.29 L837.95 234.7 L839.07 233.97 L840.17 229.01 L841.26 231.52 L842.34 231.83 L843.4 230.04 L844.45 231.44 L845.49 232.32 L846.51 230.09 L847.53 228.75 L848.53 227.44 L849.52 227.43 L850.5 226.62 L851.46 226.12 L852.42 226.37 L853.37 229.36 L854.3 227.49 L855.23 228.61 L856.15 228.94 L857.05 228.12 L857.95 224.16 L858.84 228.71 L859.72 224.38 L860.59 227.91 L861.45 228.26 L862.3 227.32 L863.15 226 L863.98 224.29 L864.81 224.34 L865.63 227.21 L866.45 225.16 L867.25 226.67 L868.05 225.28 L868.84 224.75 L869.62 225.38 L870.4 227.52 L871.17 226.19 L871.93 225.6 L872.69 226 L873.44 226.26 L874.18 225.96 L874.92 225.51 L875.65 228.13 L876.38 226.92 L877.09 224.11 L877.81 224.49 L878.51 223.73 L879.22 224.55 L879.91 222.72 L880.6 226.36 L881.29 225.35 L881.96 224.68 L882.64 227.21 L883.31 224.36 L883.97 225.74 L884.63 227.65 L885.28 225.78 L885.93 226.16 L886.58 224.97 L887.21 228.32 L887.85 227.14 L888.48 224.87 L889.1 225.22 L889.73 226.52 L890.34 226.22 L890.95 226.32 L891.56 224.67 L892.16 226.74 L892.76 227.48 L893.36 227.87 L893.95 226.24 L894.54 226.22 L895.12 226.52 L895.7 226.69 L896.28 226.37 L896.85 223.96 L897.41 225.27 L897.98 229.04 L898.54 228.2 L899.1 226.33 L899.65 227.81 L900.2 225 L900.75 225.29 L901.29 226.59 L901.83 227.54 L902.36 224.04 L902.9 226.35 L903.43 228.61 L903.95 227.08 L904.48 229.06 L905 224.41 L905.51 228.62 L906.03 228.22 L906.54 223.97 L907.05 226.59 L907.55 227.71 L908.05 224.88 L908.55 227.07 L909.05 228.08 L909.54 227.75 L910.03 225.81 L910.52 223.85 L911.01 226.32 L911.49 224.46 L911.97 226.25 L912.45 224.81 L912.92 225.19 L913.39 226.17 L913.86 227.58 L914.33 228.35 L914.79 225.36 L915.25 223.25 L915.71 227.08 L916.17 224.91 L916.63 227.06 L917.08 227.4 L917.53 223.23 L917.97 226.82 L918.42 224.47 L918.86 224.63 L919.3 224.67 L919.74 225.7 L920.18 224.13" stroke="#ffa500" stroke-width="1.9" fill="none" stroke-linejoin="round"/>
<path d="M458.09 725.44l7.4 7.4M458.09 732.84l7.4 -7.4M518.11 639.34l7.4 7.4M518.11 646.74l7.4 -7.4M553.23 597.13l7.4 7.4M553.23 604.53l7.4 -7.4M578.14 567.92l7.4 7.4M578.14 575.32l7.4 -7.4M597.46 542.68l7.4 7.4M597.46 550.08l7.4 -7.4M613.25 520.74l7.4 7.4M613.25 528.14l7.4 -7.4M626.6 505.95l7.4 7.4M626.6 513.35l7.4 -7.4M638.16 488.47l7.4 7.4M638.16 495.87l7.4 -7.4M648.36 474.65l7.4 7.4M648.36 482.05l7.4 -7.4M657.49 460.54l7.4 7.4M657.49 467.94l7.4 -7.4M665.74 447.7l7.4 7.4M665.74 455.1l7.4 -7.4M673.28 438.02l7.4 7.4M673.28 445.42l7.4 -7.4M680.21 426.14l7.4 7.4M680.21 433.54l7.4 -7.4M686.63 416.96l7.4 7.4M686.63 424.36l7.4 -7.4M692.6 407.53l7.4 7.4M692.6 414.93l7.4 -7.4M698.19 400.34l7.4 7.4M698.19 407.74l7.4 -7.4M703.44 390.9l7.4 7.4M703.44 398.3l7.4 -7.4M708.39 379.88l7.4 7.4M708.39 387.28l7.4 -7.4M713.07 372.85l7.4 7.4M713.07 380.25l7.4 -7.4M717.51 362.49l7.4 7.4M717.51 369.89l7.4 -7.4M721.74 357.97l7.4 7.4M721.74 365.37l7.4 -7.4M725.77 351.53l7.4 7.4M725.77 358.93l7.4 -7.4M729.62 342.68l7.4 7.4M729.62 350.08l7.4 -7.4M733.3 339.28l7.4 7.4M733.3 346.68l7.4 -7.4M736.84 333.44l7.4 7.4M736.84 340.84l7.4 -7.4M740.23 330.01l7.4 7.4M740.23 337.41l7.4 -7.4M743.5 321.83l7.4 7.4M743.5 329.23l7.4 -7.4M746.65 318.13l7.4 7.4M746.65 325.53l7.4 -7.4M749.69 314.73l7.4 7.4M749.69 322.13l7.4 -7.4M752.63 308.92l7.4 7.4M752.63 316.32l7.4 -7.4M755.46 302.94l7.4 7.4M755.46 310.34l7.4 -7.4M758.21 298.15l7.4 7.4M758.21 305.55l7.4 -7.4M760.88 298.54l7.4 7.4M760.88 305.94l7.4 -7.4M763.46 292.86l7.4 7.4M763.46 300.26l7.4 -7.4M765.97 291.97l7.4 7.4M765.97 299.37l7.4 -7.4M768.41 284.53l7.4 7.4M768.41 291.93l7.4 -7.4M770.79 284.32l7.4 7.4M770.79 291.72l7.4 -7.4M773.1 280.93l7.4 7.4M773.1 288.33l7.4 -7.4M775.35 278.17l7.4 7.4M775.35 285.57l7.4 -7.4M777.54 270.37l7.4 7.4M777.54 277.77l7.4 -7.4M779.68 269.01l7.4 7.4M779.68 276.41l7.4 -7.4M781.76 264.55l7.4 7.4M781.76 271.95l7.4 -7.4M783.8 265.67l7.4 7.4M783.8 273.07l7.4 -7.4M785.79 261.15l7.4 7.4M785.79 268.55l7.4 -7.4M787.74 261.9l7.4 7.4M787.74 269.3l7.4 -7.4M789.64 256.52l7.4 7.4M789.64 263.92l7.4 -7.4M791.5 256.3l7.4 7.4M791.5 263.7l7.4 -7.4M793.33 254.81l7.4 7.4M793.33 262.21l7.4 -7.4M795.11 250.11l7.4 7.4M795.11 257.51l7.4 -7.4M796.86 250.36l7.4 7.4M796.86 257.76l7.4 -7.4M798.58 251.07l7.4 7.4M798.58 258.47l7.4 -7.4M800.26 247.48l7.4 7.4M800.26 254.88l7.4 -7.4M801.91 245.29l7.4 7.4M801.91 252.69l7.4 -7.4M803.53 243.51l7.4 7.4M803.53 250.91l7.4 -7.4M805.12 244.99l7.4 7.4M805.12 252.39l7.4 -7.4M806.68 240.94l7.4 7.4M806.68 248.34l7.4 -7.4M808.21 242.13l7.4 7.4M808.21 249.53l7.4 -7.4M809.71 240.94l7.4 7.4M809.71 248.34l7.4 -7.4M811.2 240.01l7.4 7.4M811.2 247.41l7.4 -7.4M812.65 236.91l7.4 7.4M812.65 244.31l7.4 -7.4M814.08 238.77l7.4 7.4M814.08 246.17l7.4 -7.4M815.49 239.24l7.4 7.4M815.49 246.64l7.4 -7.4M816.88 235.27l7.4 7.4M816.88 242.67l7.4 -7.4M818.24 234.65l7.4 7.4M818.24 242.05l7.4 -7.4M819.58 236.96l7.4 7.4M819.58 244.36l7.4 -7.4M820.9 234.57l7.4 7.4M820.9 241.97l7.4 -7.4M822.21 232.32l7.4 7.4M822.21 239.72l7.4 -7.4M823.49 230.3l7.4 7.4M823.49 237.7l7.4 -7.4M824.75 233.53l7.4 7.4M824.75 240.93l7.4 -7.4M826 230.79l7.4 7.4M826 238.19l7.4 -7.4M827.23 230.78l7.4 7.4M827.23 238.18l7.4 -7.4M828.44 229.15l7.4 7.4M828.44 236.55l7.4 -7.4M829.63 230.53l7.4 7.4M829.63 237.93l7.4 -7.4M830.81 230.68l7.4 7.4M830.81 238.08l7.4 -7.4M831.97 228.16l7.4 7.4M831.97 235.56l7.4 -7.4M833.12 226.59l7.4 7.4M833.12 233.99l7.4 -7.4M834.25 231l7.4 7.4M834.25 238.4l7.4 -7.4M835.37 230.27l7.4 7.4M835.37 237.67l7.4 -7.4M836.47 225.31l7.4 7.4M836.47 232.71l7.4 -7.4M837.56 227.82l7.4 7.4M837.56 235.22l7.4 -7.4M838.64 228.13l7.4 7.4M838.64 235.53l7.4 -7.4M839.7 226.34l7.4 7.4M839.7 233.74l7.4 -7.4M840.75 227.74l7.4 7.4M840.75 235.14l7.4 -7.4M841.79 228.62l7.4 7.4M841.79 236.02l7.4 -7.4M842.81 226.39l7.4 7.4M842.81 233.79l7.4 -7.4M843.83 225.05l7.4 7.4M843.83 232.45l7.4 -7.4M844.83 223.74l7.4 7.4M844.83 231.14l7.4 -7.4M845.82 223.73l7.4 7.4M845.82 231.13l7.4 -7.4M846.8 222.92l7.4 7.4M846.8 230.32l7.4 -7.4M847.76 222.42l7.4 7.4M847.76 229.82l7.4 -7.4M848.72 222.67l7.4 7.4M848.72 230.07l7.4 -7.4M849.67 225.66l7.4 7.4M849.67 233.06l7.4 -7.4M850.6 223.79l7.4 7.4M850.6 231.19l7.4 -7.4M851.53 224.91l7.4 7.4M851.53 232.31l7.4 -7.4M852.45 225.24l7.4 7.4M852.45 232.64l7.4 -7.4M853.35 224.42l7.4 7.4M853.35 231.82l7.4 -7.4M854.25 220.46l7.4 7.4M854.25 227.86l7.4 -7.4M855.14 225.01l7.4 7.4M855.14 232.41l7.4 -7.4M856.02 220.68l7.4 7.4M856.02 228.08l7.4 -7.4M856.89 224.21l7.4 7.4M856.89 231.61l7.4 -7.4M857.75 224.56l7.4 7.4M857.75 231.96l7.4 -7.4M858.6 223.62l7.4 7.4M858.6 231.02l7.4 -7.4M859.45 222.3l7.4 7.4M859.45 229.7l7.4 -7.4M860.28 220.59l7.4 7.4M860.28 227.99l7.4 -7.4M861.11 220.64l7.4 7.4M861.11 228.04l7.4 -7.4M861.93 223.51l7.4 7.4M861.93 230.91l7.4 -7.4M862.75 221.46l7.4 7.4M862.75 228.86l7.4 -7.4M863.55 222.97l7.4 7.4M863.55 230.37l7.4 -7.4M864.35 221.58l7.4 7.4M864.35 228.98l7.4 -7.4M865.14 221.05l7.4 7.4M865.14 228.45l7.4 -7.4M865.92 221.68l7.4 7.4M865.92 229.08l7.4 -7.4M866.7 223.82l7.4 7.4M866.7 231.22l7.4 -7.4M867.47 222.49l7.4 7.4M867.47 229.89l7.4 -7.4M868.23 221.9l7.4 7.4M868.23 229.3l7.4 -7.4M868.99 222.3l7.4 7.4M868.99 229.7l7.4 -7.4M869.74 222.56l7.4 7.4M869.74 229.96l7.4 -7.4M870.48 222.26l7.4 7.4M870.48 229.66l7.4 -7.4M871.22 221.81l7.4 7.4M871.22 229.21l7.4 -7.4M871.95 224.43l7.4 7.4M871.95 231.83l7.4 -7.4M872.68 223.22l7.4 7.4M872.68 230.62l7.4 -7.4M873.39 220.41l7.4 7.4M873.39 227.81l7.4 -7.4M874.11 220.79l7.4 7.4M874.11 228.19l7.4 -7.4M874.81 220.03l7.4 7.4M874.81 227.43l7.4 -7.4M875.52 220.85l7.4 7.4M875.52 228.25l7.4 -7.4M876.21 219.02l7.4 7.4M876.21 226.42l7.4 -7.4M876.9 222.66l7.4 7.4M876.9 230.06l7.4 -7.4M877.59 221.65l7.4 7.4M877.59 229.05l7.4 -7.4M878.26 220.98l7.4 7.4M878.26 228.38l7.4 -7.4M878.94 223.51l7.4 7.4M878.94 230.91l7.4 -7.4M879.61 220.66l7.4 7.4M879.61 228.06l7.4 -7.4M880.27 222.04l7.4 7.4M880.27 229.44l7.4 -7.4M880.93 223.95l7.4 7.4M880.93 231.35l7.4 -7.4M881.58 222.08l7.4 7.4M881.58 229.48l7.4 -7.4M882.23 222.46l7.4 7.4M882.23 229.86l7.4 -7.4M882.88 221.27l7.4 7.4M882.88 228.67l7.4 -7.4M883.51 224.62l7.4 7.4M883.51 232.02l7.4 -7.4M884.15 223.44l7.4 7.4M884.15 230.84l7.4 -7.4M884.78 221.17l7.4 7.4M884.78 228.57l7.4 -7.4M885.4 221.52l7.4 7.4M885.4 228.92l7.4 -7.4M886.03 222.82l7.4 7.4M886.03 230.22l7.4 -7.4M886.64 222.52l7.4 7.4M886.64 229.92l7.4 -7.4M887.25 222.62l7.4 7.4M887.25 230.02l7.4 -7.4M887.86 220.97l7.4 7.4M887.86 228.37l7.4 -7.4M888.46 223.04l7.4 7.4M888.46 230.44l7.4 -7.4M889.06 223.78l7.4 7.4M889.06 231.18l7.4 -7.4M889.66 224.17l7.4 7.4M889.66 231.57l7.4 -7.4M890.25 222.54l7.4 7.4M890.25 229.94l7.4 -7.4M890.84 222.52l7.4 7.4M890.84 229.92l7.4 -7.4M891.42 222.82l7.4 7.4M891.42 230.22l7.4 -7.4M892 222.99l7.4 7.4M892 230.39l7.4 -7.4M892.58 222.67l7.4 7.4M892.58 230.07l7.4 -7.4M893.15 220.26l7.4 7.4M893.15 227.66l7.4 -7.4M893.71 221.57l7.4 7.4M893.71 228.97l7.4 -7.4M894.28 225.34l7.4 7.4M894.28 232.74l7.4 -7.4M894.84 224.5l7.4 7.4M894.84 231.9l7.4 -7.4M895.4 222.63l7.4 7.4M895.4 230.03l7.4 -7.4M895.95 224.11l7.4 7.4M895.95 231.51l7.4 -7.4M896.5 221.3l7.4 7.4M896.5 228.7l7.4 -7.4M897.05 221.59l7.4 7.4M897.05 228.99l7.4 -7.4M897.59 222.89l7.4 7.4M897.59 230.29l7.4 -7.4M898.13 223.84l7.4 7.4M898.13 231.24l7.4 -7.4M898.66 220.34l7.4 7.4M898.66 227.74l7.4 -7.4M899.2 222.65l7.4 7.4M899.2 230.05l7.4 -7.4M899.73 224.91l7.4 7.4M899.73 232.31l7.4 -7.4M900.25 223.38l7.4 7.4M900.25 230.78l7.4 -7.4M900.78 225.36l7.4 7.4M900.78 232.76l7.4 -7.4M901.3 220.71l7.4 7.4M901.3 228.11l7.4 -7.4M901.81 224.92l7.4 7.4M901.81 232.32l7.4 -7.4M902.33 224.52l7.4 7.4M902.33 231.92l7.4 -7.4M902.84 220.27l7.4 7.4M902.84 227.67l7.4 -7.4M903.35 222.89l7.4 7.4M903.35 230.29l7.4 -7.4M903.85 224.01l7.4 7.4M903.85 231.41l7.4 -7.4M904.35 221.18l7.4 7.4M904.35 228.58l7.4 -7.4M904.85 223.37l7.4 7.4M904.85 230.77l7.4 -7.4M905.35 224.38l7.4 7.4M905.35 231.78l7.4 -7.4M905.84 224.05l7.4 7.4M905.84 231.45l7.4 -7.4M906.33 222.11l7.4 7.4M906.33 229.51l7.4 -7.4M906.82 220.15l7.4 7.4M906.82 227.55l7.4 -7.4M907.31 222.62l7.4 7.4M907.31 230.02l7.4 -7.4M907.79 220.76l7.4 7.4M907.79 228.16l7.4 -7.4M908.27 222.55l7.4 7.4M908.27 229.95l7.4 -7.4M908.75 221.11l7.4 7.4M908.75 228.51l7.4 -7.4M909.22 221.49l7.4 7.4M909.22 228.89l7.4 -7.4M909.69 222.47l7.4 7.4M909.69 229.87l7.4 -7.4M910.16 223.88l7.4 7.4M910.16 231.28l7.4 -7.4M910.63 224.65l7.4 7.4M910.63 232.05l7.4 -7.4M911.09 221.66l7.4 7.4M911.09 229.06l7.4 -7.4M911.55 219.55l7.4 7.4M911.55 226.95l7.4 -7.4M912.01 223.38l7.4 7.4M912.01 230.78l7.4 -7.4M912.47 221.21l7.4 7.4M912.47 228.61l7.4 -7.4M912.93 223.36l7.4 7.4M912.93 230.76l7.4 -7.4M913.38 223.7l7.4 7.4M913.38 231.1l7.4 -7.4M913.83 219.53l7.4 7.4M913.83 226.93l7.4 -7.4M914.27 223.12l7.4 7.4M914.27 230.52l7.4 -7.4M914.72 220.77l7.4 7.4M914.72 228.17l7.4 -7.4M915.16 220.93l7.4 7.4M915.16 228.33l7.4 -7.4M915.6 220.97l7.4 7.4M915.6 228.37l7.4 -7.4M916.04 222l7.4 7.4M916.04 229.4l7.4 -7.4M916.48 220.43l7.4 7.4M916.48 227.83l7.4 -7.4" stroke="#ffa500" stroke-width="1.8" fill="none"/>
<path d="M525.21 1023.7 L585.23 738.36 L620.35 676.16 L645.26 626.19 L664.58 600.99 L680.37 580.62 L693.72 566.32 L705.29 553.5 L715.49 533.74 L724.61 523.38 L732.86 514.72 L740.4 500.37 L747.33 491.21 L753.75 480.69 L759.72 474.07 L765.31 465.15 L770.56 458.44 L775.51 449.66 L780.19 442.85 L784.63 436.7 L788.86 429.74 L792.89 423.51 L796.74 420.43 L800.42 415.82 L803.96 410.35 L807.35 402.34 L810.62 399.68 L813.77 395.17 L816.81 397.51 L819.75 390.66 L822.59 390.69 L825.34 386.88 L828 384.54 L830.59 381.57 L833.1 380.83 L835.54 377.06 L837.91 372.9 L840.22 369.42 L842.47 369.39 L844.66 369.98 L846.8 362.96 L848.88 364.28 L850.92 361.92 L852.91 356.91 L854.86 355.26 L856.76 356.43 L858.63 353.62 L860.45 352.34 L862.23 351.74 L863.98 348.27 L865.7 351.1 L867.38 349.35 L869.03 348.02 L870.65 345.8 L872.24 347.86 L873.8 347 L875.33 344.29 L876.84 340.46 L878.32 339.95 L879.77 339.1 L881.2 337.76 L882.61 341.22 L884 340.41 L885.36 338.1 L886.7 342.49 L888.03 340.56 L889.33 341.47 L890.61 341.51 L891.88 340.51 L893.12 339.4 L894.35 341.73 L895.56 335.56 L896.76 338.4 L897.93 338.95 L899.1 335.65 L900.24 337.14 L901.38 332.39 L902.49 333.22 L903.6 331.63 L904.69 331.79 L905.76 333.28 L906.82 330.28 L907.87 332.09 L908.91 335.89 L909.94 332.96 L910.95 332.38 L911.95 338.47 L912.94 336.11 L913.92 333.28 L914.89 337.34 L915.84 335.14 L916.79 335.75 L917.72 339.92 L918.65 339.15 L919.57 337.5 L920.47 337.85 L921.37 337.93 L922.26 337.08 L923.14 334.59 L924.01 338.66 L924.87 338.47 L925.72 336.04 L926.57 335.73 L927.41 336.86 L928.23 335.78 L929.06 335.23 L929.87 337.98 L930.67 337.9 L931.47 332.8 L932.26 332.68 L933.05 336.33 L933.82 337.18 L934.59 335.47 L935.36 332.44 L936.11 330.66 L936.86 335.32 L937.61 335.73 L938.34 334.39 L939.07 334 L939.8 335.27 L940.52 332.15 L941.23 334.52 L941.94 330.01 L942.64 328.58 L943.33 333.23 L944.02 332.1 L944.71 332.66 L945.39 328.53 L946.06 329.75 L946.73 331.72 L947.39 328.51 L948.05 330.33 L948.71 332.22 L949.35 334.48 L950 333.22 L950.64 331.28 L951.27 331.48 L951.9 332.27 L952.53 333.86 L953.15 335.61 L953.76 329.43 L954.38 335.41 L954.98 334.74 L955.59 330.02 L956.19 331.48 L956.78 331.71 L957.37 331.46 L957.96 331.24 L958.54 331.19 L959.12 334.75 L959.7 333.34" stroke="#ff0000" stroke-width="1.9" fill="none" stroke-linejoin="round"/>
<path d="M521.51 1020l7.4 7.4M521.51 1027.4l7.4 -7.4M581.53 734.66l7.4 7.4M581.53 742.06l7.4 -7.4M616.65 672.46l7.4 7.4M616.65 679.86l7.4 -7.4M641.56 622.49l7.4 7.4M641.56 629.89l7.4 -7.4M660.88 597.29l7.4 7.4M660.88 604.69l7.4 -7.4M676.67 576.92l7.4 7.4M676.67 584.32l7.4 -7.4M690.02 562.62l7.4 7.4M690.02 570.02l7.4 -7.4M701.59 549.8l7.4 7.4M701.59 557.2l7.4 -7.4M711.79 530.04l7.4 7.4M711.79 537.44l7.4 -7.4M720.91 519.68l7.4 7.4M720.91 527.08l7.4 -7.4M729.16 511.02l7.4 7.4M729.16 518.42l7.4 -7.4M736.7 496.67l7.4 7.4M736.7 504.07l7.4 -7.4M743.63 487.51l7.4 7.4M743.63 494.91l7.4 -7.4M750.05 476.99l7.4 7.4M750.05 484.39l7.4 -7.4M756.02 470.37l7.4 7.4M756.02 477.77l7.4 -7.4M761.61 461.45l7.4 7.4M761.61 468.85l7.4 -7.4M766.86 454.74l7.4 7.4M766.86 462.14l7.4 -7.4M771.81 445.96l7.4 7.4M771.81 453.36l7.4 -7.4M776.49 439.15l7.4 7.4M776.49 446.55l7.4 -7.4M780.93 433l7.4 7.4M780.93 440.4l7.4 -7.4M785.16 426.04l7.4 7.4M785.16 433.44l7.4 -7.4M789.19 419.81l7.4 7.4M789.19 427.21l7.4 -7.4M793.04 416.73l7.4 7.4M793.04 424.13l7.4 -7.4M796.72 412.12l7.4 7.4M796.72 419.52l7.4 -7.4M800.26 406.65l7.4 7.4M800.26 414.05l7.4 -7.4M803.65 398.64l7.4 7.4M803.65 406.04l7.4 -7.4M806.92 395.98l7.4 7.4M806.92 403.38l7.4 -7.4M810.07 391.47l7.4 7.4M810.07 398.87l7.4 -7.4M813.11 393.81l7.4 7.4M813.11 401.21l7.4 -7.4M816.05 386.96l7.4 7.4M816.05 394.36l7.4 -7.4M818.89 386.99l7.4 7.4M818.89 394.39l7.4 -7.4M821.64 383.18l7.4 7.4M821.64 390.58l7.4 -7.4M824.3 380.84l7.4 7.4M824.3 388.24l7.4 -7.4M826.89 377.87l7.4 7.4M826.89 385.27l7.4 -7.4M829.4 377.13l7.4 7.4M829.4 384.53l7.4 -7.4M831.84 373.36l7.4 7.4M831.84 380.76l7.4 -7.4M834.21 369.2l7.4 7.4M834.21 376.6l7.4 -7.4M836.52 365.72l7.4 7.4M836.52 373.12l7.4 -7.4M838.77 365.69l7.4 7.4M838.77 373.09l7.4 -7.4M840.96 366.28l7.4 7.4M840.96 373.68l7.4 -7.4M843.1 359.26l7.4 7.4M843.1 366.66l7.4 -7.4M845.18 360.58l7.4 7.4M845.18 367.98l7.4 -7.4M847.22 358.22l7.4 7.4M847.22 365.62l7.4 -7.4M849.21 353.21l7.4 7.4M849.21 360.61l7.4 -7.4M851.16 351.56l7.4 7.4M851.16 358.96l7.4 -7.4M853.06 352.73l7.4 7.4M853.06 360.13l7.4 -7.4M854.93 349.92l7.4 7.4M854.93 357.32l7.4 -7.4M856.75 348.64l7.4 7.4M856.75 356.04l7.4 -7.4M858.53 348.04l7.4 7.4M858.53 355.44l7.4 -7.4M860.28 344.57l7.4 7.4M860.28 351.97l7.4 -7.4M862 347.4l7.4 7.4M862 354.8l7.4 -7.4M863.68 345.65l7.4 7.4M863.68 353.05l7.4 -7.4M865.33 344.32l7.4 7.4M865.33 351.72l7.4 -7.4M866.95 342.1l7.4 7.4M866.95 349.5l7.4 -7.4M868.54 344.16l7.4 7.4M868.54 351.56l7.4 -7.4M870.1 343.3l7.4 7.4M870.1 350.7l7.4 -7.4M871.63 340.59l7.4 7.4M871.63 347.99l7.4 -7.4M873.14 336.76l7.4 7.4M873.14 344.16l7.4 -7.4M874.62 336.25l7.4 7.4M874.62 343.65l7.4 -7.4M876.07 335.4l7.4 7.4M876.07 342.8l7.4 -7.4M877.5 334.06l7.4 7.4M877.5 341.46l7.4 -7.4M878.91 337.52l7.4 7.4M878.91 344.92l7.4 -7.4M880.3 336.71l7.4 7.4M880.3 344.11l7.4 -7.4M881.66 334.4l7.4 7.4M881.66 341.8l7.4 -7.4M883 338.79l7.4 7.4M883 346.19l7.4 -7.4M884.33 336.86l7.4 7.4M884.33 344.26l7.4 -7.4M885.63 337.77l7.4 7.4M885.63 345.17l7.4 -7.4M886.91 337.81l7.4 7.4M886.91 345.21l7.4 -7.4M888.18 336.81l7.4 7.4M888.18 344.21l7.4 -7.4M889.42 335.7l7.4 7.4M889.42 343.1l7.4 -7.4M890.65 338.03l7.4 7.4M890.65 345.43l7.4 -7.4M891.86 331.86l7.4 7.4M891.86 339.26l7.4 -7.4M893.06 334.7l7.4 7.4M893.06 342.1l7.4 -7.4M894.23 335.25l7.4 7.4M894.23 342.65l7.4 -7.4M895.4 331.95l7.4 7.4M895.4 339.35l7.4 -7.4M896.54 333.44l7.4 7.4M896.54 340.84l7.4 -7.4M897.68 328.69l7.4 7.4M897.68 336.09l7.4 -7.4M898.79 329.52l7.4 7.4M898.79 336.92l7.4 -7.4M899.9 327.93l7.4 7.4M899.9 335.33l7.4 -7.4M900.99 328.09l7.4 7.4M900.99 335.49l7.4 -7.4M902.06 329.58l7.4 7.4M902.06 336.98l7.4 -7.4M903.12 326.58l7.4 7.4M903.12 333.98l7.4 -7.4M904.17 328.39l7.4 7.4M904.17 335.79l7.4 -7.4M905.21 332.19l7.4 7.4M905.21 339.59l7.4 -7.4M906.24 329.26l7.4 7.4M906.24 336.66l7.4 -7.4M907.25 328.68l7.4 7.4M907.25 336.08l7.4 -7.4M908.25 334.77l7.4 7.4M908.25 342.17l7.4 -7.4M909.24 332.41l7.4 7.4M909.24 339.81l7.4 -7.4M910.22 329.58l7.4 7.4M910.22 336.98l7.4 -7.4M911.19 333.64l7.4 7.4M911.19 341.04l7.4 -7.4M912.14 331.44l7.4 7.4M912.14 338.84l7.4 -7.4M913.09 332.05l7.4 7.4M913.09 339.45l7.4 -7.4M914.02 336.22l7.4 7.4M914.02 343.62l7.4 -7.4M914.95 335.45l7.4 7.4M914.95 342.85l7.4 -7.4M915.87 333.8l7.4 7.4M915.87 341.2l7.4 -7.4M916.77 334.15l7.4 7.4M916.77 341.55l7.4 -7.4M917.67 334.23l7.4 7.4M917.67 341.63l7.4 -7.4M918.56 333.38l7.4 7.4M918.56 340.78l7.4 -7.4M919.44 330.89l7.4 7.4M919.44 338.29l7.4 -7.4M920.31 334.96l7.4 7.4M920.31 342.36l7.4 -7.4M921.17 334.77l7.4 7.4M921.17 342.17l7.4 -7.4M922.02 332.34l7.4 7.4M922.02 339.74l7.4 -7.4M922.87 332.03l7.4 7.4M922.87 339.43l7.4 -7.4M923.71 333.16l7.4 7.4M923.71 340.56l7.4 -7.4M924.53 332.08l7.4 7.4M924.53 339.48l7.4 -7.4M925.36 331.53l7.4 7.4M925.36 338.93l7.4 -7.4M926.17 334.28l7.4 7.4M926.17 341.68l7.4 -7.4M926.97 334.2l7.4 7.4M926.97 341.6l7.4 -7.4M927.77 329.1l7.4 7.4M927.77 336.5l7.4 -7.4M928.56 328.98l7.4 7.4M928.56 336.38l7.4 -7.4M929.35 332.63l7.4 7.4M929.35 340.03l7.4 -7.4M930.12 333.48l7.4 7.4M930.12 340.88l7.4 -7.4M930.89 331.77l7.4 7.4M930.89 339.17l7.4 -7.4M931.66 328.74l7.4 7.4M931.66 336.14l7.4 -7.4M932.41 326.96l7.4 7.4M932.41 334.36l7.4 -7.4M933.16 331.62l7.4 7.4M933.16 339.02l7.4 -7.4M933.91 332.03l7.4 7.4M933.91 339.43l7.4 -7.4M934.64 330.69l7.4 7.4M934.64 338.09l7.4 -7.4M935.37 330.3l7.4 7.4M935.37 337.7l7.4 -7.4M936.1 331.57l7.4 7.4M936.1 338.97l7.4 -7.4M936.82 328.45l7.4 7.4M936.82 335.85l7.4 -7.4M937.53 330.82l7.4 7.4M937.53 338.22l7.4 -7.4M938.24 326.31l7.4 7.4M938.24 333.71l7.4 -7.4M938.94 324.88l7.4 7.4M938.94 332.28l7.4 -7.4M939.63 329.53l7.4 7.4M939.63 336.93l7.4 -7.4M940.32 328.4l7.4 7.4M940.32 335.8l7.4 -7.4M941.01 328.96l7.4 7.4M941.01 336.36l7.4 -7.4M941.69 324.83l7.4 7.4M941.69 332.23l7.4 -7.4M942.36 326.05l7.4 7.4M942.36 333.45l7.4 -7.4M943.03 328.02l7.4 7.4M943.03 335.42l7.4 -7.4M943.69 324.81l7.4 7.4M943.69 332.21l7.4 -7.4M944.35 326.63l7.4 7.4M944.35 334.03l7.4 -7.4M945.01 328.52l7.4 7.4M945.01 335.92l7.4 -7.4M945.65 330.78l7.4 7.4M945.65 338.18l7.4 -7.4M946.3 329.52l7.4 7.4M946.3 336.92l7.4 -7.4M946.94 327.58l7.4 7.4M946.94 334.98l7.4 -7.4M947.57 327.78l7.4 7.4M947.57 335.18l7.4 -7.4M948.2 328.57l7.4 7.4M948.2 335.97l7.4 -7.4M948.83 330.16l7.4 7.4M948.83 337.56l7.4 -7.4M949.45 331.91l7.4 7.4M949.45 339.31l7.4 -7.4M950.06 325.73l7.4 7.4M950.06 333.13l7.4 -7.4M950.68 331.71l7.4 7.4M950.68 339.11l7.4 -7.4M951.28 331.04l7.4 7.4M951.28 338.44l7.4 -7.4M951.89 326.32l7.4 7.4M951.89 333.72l7.4 -7.4M952.49 327.78l7.4 7.4M952.49 335.18l7.4 -7.4M953.08 328.01l7.4 7.4M953.08 335.41l7.4 -7.4M953.67 327.76l7.4 7.4M953.67 335.16l7.4 -7.4M954.26 327.54l7.4 7.4M954.26 334.94l7.4 -7.4M954.84 327.49l7.4 7.4M954.84 334.89l7.4 -7.4M955.42 331.05l7.4 7.4M955.42 338.45l7.4 -7.4M956 329.64l7.4 7.4M956 337.04l7.4 -7.4" stroke="#ff0000" stroke-width="1.8" fill="none"/>
</g>
<rect x="159.0" y="64.8" width="838.5" height="1005.6" fill="none" stroke="#000" stroke-opacity="0.72" stroke-width="1.8"/>
<path d="M287.3 1070.4v13M287.3 64.8v-13M486.7 1070.4v13M486.7 64.8v-13M686.1 1070.4v13M686.1 64.8v-13M885.5 1070.4v13M885.5 64.8v-13M183.04 1070.4v8M183.04 64.8v-8M207.95 1070.4v8M207.95 64.8v-8M227.27 1070.4v8M227.27 64.8v-8M243.06 1070.4v8M243.06 64.8v-8M256.41 1070.4v8M256.41 64.8v-8M267.98 1070.4v8M267.98 64.8v-8M278.18 1070.4v8M278.18 64.8v-8M347.33 1070.4v8M347.33 64.8v-8M382.44 1070.4v8M382.44 64.8v-8M407.35 1070.4v8M407.35 64.8v-8M426.67 1070.4v8M426.67 64.8v-8M442.46 1070.4v8M442.46 64.8v-8M455.81 1070.4v8M455.81 64.8v-8M467.38 1070.4v8M467.38 64.8v-8M477.58 1070.4v8M477.58 64.8v-8M546.73 1070.4v8M546.73 64.8v-8M581.84 1070.4v8M581.84 64.8v-8M606.75 1070.4v8M606.75 64.8v-8M626.07 1070.4v8M626.07 64.8v-8M641.86 1070.4v8M641.86 64.8v-8M655.21 1070.4v8M655.21 64.8v-8M666.78 1070.4v8M666.78 64.8v-8M676.98 1070.4v8M676.98 64.8v-8M746.13 1070.4v8M746.13 64.8v-8M781.24 1070.4v8M781.24 64.8v-8M806.15 1070.4v8M806.15 64.8v-8M825.47 1070.4v8M825.47 64.8v-8M841.26 1070.4v8M841.26 64.8v-8M854.61 1070.4v8M854.61 64.8v-8M866.18 1070.4v8M866.18 64.8v-8M876.38 1070.4v8M876.38 64.8v-8M945.53 1070.4v8M945.53 64.8v-8M980.64 1070.4v8M980.64 64.8v-8M159 955.41h-13M997.5 955.41h13M159 680.97h-13M997.5 680.97h13M159 429.5h-13M997.5 429.5h13M159 178.03h-13M997.5 178.03h13M159 1060.97h-7.5M997.5 1060.97h8M159 1035.32h-7.5M997.5 1035.32h8M159 1014.34h-7.5M997.5 1014.34h8M159 996.58h-7.5M997.5 996.58h8M159 981.18h-7.5M997.5 981.18h8M159 967.59h-7.5M997.5 967.59h8M159 874.92h-7.5M997.5 874.92h8M159 827.34h-7.5M997.5 827.34h8M159 793.23h-7.5M997.5 793.23h8M159 766.49h-7.5M997.5 766.49h8M159 744.41h-7.5M997.5 744.41h8M159 725.55h-7.5M997.5 725.55h8M159 709.03h-7.5M997.5 709.03h8M159 694.3h-7.5M997.5 694.3h8M159 588.16h-7.5M997.5 588.16h8M159 526.47h-7.5M997.5 526.47h8M159 475.91h-7.5M997.5 475.91h8M159 383.09h-7.5M997.5 383.09h8M159 332.53h-7.5M997.5 332.53h8M159 270.84h-7.5M997.5 270.84h8M159 164.7h-7.5M997.5 164.7h8M159 149.97h-7.5M997.5 149.97h8M159 133.45h-7.5M997.5 133.45h8M159 114.59h-7.5M997.5 114.59h8M159 92.51h-7.5M997.5 92.51h8M159 65.77h-7.5M997.5 65.77h8" stroke="#0a0a0a" stroke-width="1.4" fill="none"/>
<rect x="180.5" y="776.5" width="252.5" height="277.0" rx="6" fill="#8a8a8a"/>
<rect x="178.0" y="774.0" width="252.5" height="277.0" rx="6" fill="#ffffff" stroke="#d0d0d0" stroke-width="1.6"/>
<rect x="192" y="840.3" width="77.2" height="27" fill="#800080"/>
<rect x="192" y="880.5" width="77.2" height="27.3" fill="#0000ff"/>
<rect x="192" y="920.6" width="77.2" height="27.6" fill="#008000"/>
<rect x="192" y="960.8" width="77.2" height="28.1" fill="#ffa500"/>
<rect x="192" y="1001.4" width="77.2" height="27.6" fill="#ff0000"/>
<g clip-path="url(#cr)">
<path d="M1206.4 64.4V1070.4M1254.85 64.4V1070.4M1303.3 64.4V1070.4M1351.75 64.4V1070.4M1400.2 64.4V1070.4M1182.3 982.45H1424M1182.3 888.29H1424M1182.3 784.62H1424M1182.3 665.95H1424M1182.3 522.28H1424M1182.3 331.44H1424" stroke="#d8d8d8" stroke-width="1.5" fill="none"/>
<rect x="1186.1" y="87.45" width="40.6" height="7.2" fill="#800080"/>
<path d="M1226.7 110.3L1234.55 113.2" stroke="#6a6a6a" stroke-width="2.4" stroke-dasharray="7.4 3.2" fill="none"/>
<rect x="1186.1" y="106.7" width="40.6" height="7.2" fill="#0000ff"/>
<rect x="1234.55" y="109.6" width="40.6" height="7.2" fill="#0000ff"/>
<path d="M1226.7 229.2L1234.55 252.2" stroke="#6a6a6a" stroke-width="2.4" stroke-dasharray="7.4 3.2" fill="none"/>
<path d="M1275.15 252.2L1283 261.2" stroke="#6a6a6a" stroke-width="2.4" stroke-dasharray="7.4 3.2" fill="none"/>
<rect x="1186.1" y="225.6" width="40.6" height="7.2" fill="#008000"/>
<rect x="1234.55" y="248.6" width="40.6" height="7.2" fill="#008000"/>
<rect x="1283" y="257.6" width="40.6" height="7.2" fill="#008000"/>
<path d="M1226.7 497.1L1234.55 528.9" stroke="#6a6a6a" stroke-width="2.4" stroke-dasharray="7.4 3.2" fill="none"/>
<path d="M1275.15 528.9L1283 536.4" stroke="#6a6a6a" stroke-width="2.4" stroke-dasharray="7.4 3.2" fill="none"/>
<path d="M1323.6 536.4L1331.45 529.4" stroke="#6a6a6a" stroke-width="2.4" stroke-dasharray="7.4 3.2" fill="none"/>
<rect x="1186.1" y="493.5" width="40.6" height="7.2" fill="#ffa500"/>
<rect x="1234.55" y="525.3" width="40.6" height="7.2" fill="#ffa500"/>
<rect x="1283" y="532.8" width="40.6" height="7.2" fill="#ffa500"/>
<rect x="1331.45" y="525.8" width="40.6" height="7.2" fill="#ffa500"/>
<path d="M1226.7 894.5L1234.55 948.6" stroke="#6a6a6a" stroke-width="2.4" stroke-dasharray="7.4 3.2" fill="none"/>
<path d="M1275.15 948.6L1283 969.1" stroke="#6a6a6a" stroke-width="2.4" stroke-dasharray="7.4 3.2" fill="none"/>
<path d="M1323.6 969.1L1331.45 978.6" stroke="#6a6a6a" stroke-width="2.4" stroke-dasharray="7.4 3.2" fill="none"/>
<path d="M1372.05 978.6L1379.9 959.6" stroke="#6a6a6a" stroke-width="2.4" stroke-dasharray="7.4 3.2" fill="none"/>
<rect x="1186.1" y="890.9" width="40.6" height="7.2" fill="#ff0000"/>
<rect x="1234.55" y="945" width="40.6" height="7.2" fill="#ff0000"/>
<rect x="1283" y="965.5" width="40.6" height="7.2" fill="#ff0000"/>
<rect x="1331.45" y="975" width="40.6" height="7.2" fill="#ff0000"/>
<rect x="1379.9" y="956" width="40.6" height="7.2" fill="#ff0000"/>
</g>
<path d="M1182.3 64.4V1070.4H1424V64.4Z" fill="none" stroke="#000" stroke-opacity="0.8" stroke-width="1.8"/>
<path d="M1206.4 1070.4v5.5M1206.4 64.4v-5.5M1254.85 1070.4v5.5M1254.85 64.4v-5.5M1303.3 1070.4v5.5M1303.3 64.4v-5.5M1351.75 1070.4v5.5M1351.75 64.4v-5.5M1400.2 1070.4v5.5M1400.2 64.4v-5.5M1182.3 1070.55h-5.5M1182.3 982.45h-5.5M1182.3 888.29h-5.5M1182.3 784.62h-5.5M1182.3 665.95h-5.5M1182.3 522.28h-5.5M1182.3 331.44h-5.5" stroke="#000" stroke-opacity="0.85" stroke-width="1.4" fill="none"/>
<text transform="matrix(0.44286 0 0 0.45600 409.186 33.696)" font-size="100" stroke="#fff" stroke-width="0.0">“</text>
<text transform="matrix(0.60656 0 0 0.58154 427.361 38.300)" font-size="100" font-style="italic" stroke="#fff" stroke-width="0.8">C</text>
<text transform="matrix(0.47674 0 0 0.51061 469.693 37.188)" font-size="100" font-style="italic" stroke="#fff" stroke-width="0.8">q</text>
<text transform="matrix(0.41944 0 0 0.54400 493.622 36.760)" font-size="100" stroke="#fff" stroke-width="0.0">”</text>
<text transform="matrix(0.45333 0 0 0.60000 519.087 38.400)" font-size="100" stroke="#fff" stroke-width="0.0">,</text>
<text transform="matrix(0.59296 0 0 0.55938 549.500 37.200)" font-size="100" font-style="italic" stroke="#fff" stroke-width="0.8">N</text>
<text transform="matrix(0.70213 0 0 0.45200 607.489 38.992)" font-size="100" stroke="#fff" stroke-width="0.0">=</text>
<text transform="matrix(0.48571 0 0 0.54844 660.629 37.748)" font-size="100" stroke="#fff" stroke-width="0.8">1</text>
<text transform="matrix(0.52750 0 0 0.55385 748.235 37.446)" font-size="100" stroke="#fff" stroke-width="0.8">5</text>
<text transform="matrix(0.50609 0 0 0.54923 75.370 195.551)" font-size="100" stroke="#fff" stroke-width="1.8">0.9</text>
<text transform="matrix(0.50348 0 0 0.55077 75.683 447.549)" font-size="100" stroke="#fff" stroke-width="1.8">0.5</text>
<text transform="matrix(0.49558 0 0 0.53636 75.622 698.764)" font-size="100" stroke="#fff" stroke-width="1.8">0.1</text>
<text transform="matrix(0.49571 0 0 0.54394 51.021 973.356)" font-size="100" stroke="#fff" stroke-width="1.8">0.01</text>
<text transform="matrix(0.50118 0 0 0.53788 249.088 1125.362)" font-size="100" stroke="#fff" stroke-width="1.8">10</text>
<text transform="matrix(0.50118 0 0 0.53788 448.488 1125.362)" font-size="100" stroke="#fff" stroke-width="1.8">10</text>
<text transform="matrix(0.50118 0 0 0.53788 647.888 1125.362)" font-size="100" stroke="#fff" stroke-width="1.8">10</text>
<text transform="matrix(0.50118 0 0 0.53788 847.288 1125.362)" font-size="100" stroke="#fff" stroke-width="1.8">10</text>
<text transform="matrix(0.36970 0 0 0.38125 297.903 1106.781)" font-size="100" stroke="#fff" stroke-width="1.8">1</text>
<text transform="matrix(0.35641 0 0 0.38730 498.018 1106.787)" font-size="100" stroke="#fff" stroke-width="1.8">2</text>
<text transform="matrix(0.38205 0 0 0.38750 696.408 1106.600)" font-size="100" stroke="#fff" stroke-width="1.8">3</text>
<text transform="matrix(0.35909 0 0 0.39365 896.423 1106.794)" font-size="100" stroke="#fff" stroke-width="1.8">4</text>
<text transform="matrix(0.53950 0 0 0.54844 454.482 1181.800)" font-size="100" stroke="#fff" stroke-width="1.8">Time</text>
<text transform="matrix(0.50833 0 0 0.62442 583.458 1184.136)" font-size="100" stroke="#fff" stroke-width="1.8">(</text>
<text transform="matrix(0.47879 0 0 0.52187 599.612 1182.322)" font-size="100" stroke="#fff" stroke-width="1.8">1</text>
<text transform="matrix(0.87917 0 0 0.83906 624.542 1196.000)" font-size="100" stroke="#fff" stroke-width="1.8">/</text>
<text transform="matrix(0.50833 0 0 0.62442 680.467 1184.136)" font-size="100" stroke="#fff" stroke-width="1.8">)</text>
<text transform="matrix(0 -0.51697 0.57231 0 37.028 701.185)" font-size="100" stroke="#fff" stroke-width="1.8">Concurrence</text>
<text transform="matrix(0.55091 0 0 0.49375 252.445 824.094)" font-size="100" stroke="#fff" stroke-width="1.5">Δ</text>
<text transform="matrix(0.70800 0 0 0.68923 305.592 833.611)" font-size="100" stroke="#fff" stroke-width="1.5">/</text>
<text transform="matrix(0.35445 0 0 0.37761 295.728 866.445)" font-size="100" stroke="#fff" stroke-width="0.0">3.9e-02</text>
<text transform="matrix(0.35312 0 0 0.37206 294.322 906.856)" font-size="100" stroke="#fff" stroke-width="0.0">1.1e-02</text>
<text transform="matrix(0.35366 0 0 0.38209 296.585 947.336)" font-size="100" stroke="#fff" stroke-width="0.0">-5.7e-03</text>
<text transform="matrix(0.35123 0 0 0.37647 296.595 988.147)" font-size="100" stroke="#fff" stroke-width="0.0">-1.7e-01</text>
<text transform="matrix(0.35123 0 0 0.37500 296.595 1028.050)" font-size="100" stroke="#fff" stroke-width="0.0">-1.8e-01</text>
<text transform="matrix(0.50957 0 0 0.54615 1106.452 348.754)" font-size="100" stroke="#fff" stroke-width="1.8">0.9</text>
<text transform="matrix(0.50182 0 0 0.54923 1082.291 539.551)" font-size="100" stroke="#fff" stroke-width="1.8">0.85</text>
<text transform="matrix(0.50435 0 0 0.54923 1107.478 683.451)" font-size="100" stroke="#fff" stroke-width="1.8">0.8</text>
<text transform="matrix(0.50121 0 0 0.56308 1082.794 801.937)" font-size="100" stroke="#fff" stroke-width="1.8">0.75</text>
<text transform="matrix(0.50862 0 0 0.54923 1106.457 905.651)" font-size="100" stroke="#fff" stroke-width="1.8">0.7</text>
<text transform="matrix(0.50424 0 0 0.54923 1082.279 999.551)" font-size="100" stroke="#fff" stroke-width="1.8">0.65</text>
<text transform="matrix(0.50862 0 0 0.54000 1106.457 1087.960)" font-size="100" stroke="#fff" stroke-width="1.8">0.6</text>
<text transform="matrix(0.52121 0 0 0.55000 1188.588 1118.650)" font-size="100" stroke="#fff" stroke-width="1.8">1</text>
<text transform="matrix(0.52821 0 0 0.55873 1240.159 1118.659)" font-size="100" stroke="#fff" stroke-width="1.8">2</text>
<text transform="matrix(0.53846 0 0 0.55000 1288.169 1118.100)" font-size="100" stroke="#fff" stroke-width="1.8">3</text>
<text transform="matrix(0.50000 0 0 0.55873 1338.400 1118.659)" font-size="100" stroke="#fff" stroke-width="1.8">4</text>
<text transform="matrix(0.56579 0 0 0.55000 1383.239 1118.100)" font-size="100" stroke="#fff" stroke-width="1.8">5</text>
<text transform="matrix(0.60500 0 0 0.53214 1297.210 1169.357)" font-size="100" stroke="#fff" stroke-width="1.8">j</text>
<g transform="matrix(0.03347 0 0 0.03269 644.968 1150.554)"><path d="M450 290 L285 915" stroke="#000" stroke-width="92" stroke-linecap="round" fill="none"/><path d="M455 548 Q650 420 850 330" stroke="#000" stroke-width="32" fill="none"/><circle cx="878" cy="338" r="62" fill="#000"/><path d="M440 565 C610 560 735 630 730 760 C727 850 760 915 820 930" stroke="#000" stroke-width="72" fill="none"/><path d="M800 925 C870 950 950 880 982 742" stroke="#000" stroke-width="44" fill="none"/></g>
<g transform="matrix(0.02947 0 0 0.02772 321.928 796.846)"><path d="M450 290 L285 915" stroke="#000" stroke-width="92" stroke-linecap="round" fill="none"/><path d="M455 548 Q650 420 850 330" stroke="#000" stroke-width="32" fill="none"/><circle cx="878" cy="338" r="62" fill="#000"/><path d="M440 565 C610 560 735 630 730 760 C727 850 760 915 820 930" stroke="#000" stroke-width="72" fill="none"/><path d="M800 925 C870 950 950 880 982 742" stroke="#000" stroke-width="44" fill="none"/></g>
<path d="M295.8 792L296.8 798.42L303.22 797.39L297.42 800.33L300.38 806.11L295.8 801.5L291.22 806.11L294.18 800.33L288.38 797.39L294.8 798.42Z" fill="#000"/>
<rect x="701.6" y="22.3" width="31.6" height="3.0" fill="#000"/>
</svg>
</body></html>
